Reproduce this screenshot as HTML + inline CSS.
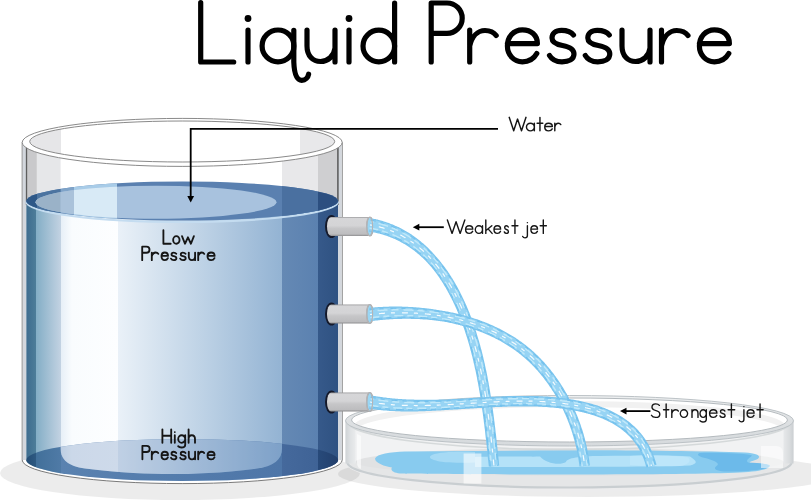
<!DOCTYPE html>
<html><head><meta charset="utf-8"><title>Liquid Pressure</title>
<style>
html,body{margin:0;padding:0;background:#fff;}
body{width:811px;height:500px;overflow:hidden;}
svg{display:block;}
body{font-family:"Liberation Sans",sans-serif;}
</style></head><body>
<svg width="811" height="500" viewBox="0 0 811 500">
<defs>
<linearGradient id="wg" gradientUnits="userSpaceOnUse" x1="22" y1="0" x2="342" y2="0">
<stop offset="0.0125" stop-color="#3d6c8f"/>
<stop offset="0.0453" stop-color="#4e7e9a"/>
<stop offset="0.0453" stop-color="#84aec6"/>
<stop offset="0.1206" stop-color="#c2d2e2"/>
<stop offset="0.1206" stop-color="#e6eff7"/>
<stop offset="0.1563" stop-color="#f9fcfe"/>
<stop offset="0.3" stop-color="#fdfeff"/>
<stop offset="0.3" stop-color="#eaf1f8"/>
<stop offset="0.556" stop-color="#bfd3e6"/>
<stop offset="0.8125" stop-color="#93b3d3"/>
<stop offset="0.8125" stop-color="#6589b4"/>
<stop offset="0.925" stop-color="#5b81b0"/>
<stop offset="0.925" stop-color="#36598a"/>
<stop offset="0.9875" stop-color="#2f5282"/>
</linearGradient>
<clipPath id="tankClip"><path d="M26.2,150 V460 A156,21 0 0 0 338.2,460 V150 Z"/></clipPath>
</defs>
<rect width="811" height="500" fill="#fff"/>

<!-- ===== TITLE ===== -->
<g fill="none" stroke="#000" stroke-width="5.2" stroke-linecap="round" stroke-linejoin="round">
<path d="M200.7,2.6 V62 H233.7"/>
<path d="M248,30 V62"/>
<circle cx="278" cy="45.9" r="15.9"/>
<path d="M293.8,30.3 V62 C294.2,72 296.5,80.3 301.8,80.3 C305.5,80.3 308,77.5 308.6,74.2"/>
<path id="u1" d="M307,30 V46 C307,56 313,61.5 320.5,61.5 C328,61.5 334,56 335,48 M335,30 V62"/>
<path d="M349,30 V62"/>
<circle cx="378.8" cy="46" r="15.8"/>
<path d="M394.6,3 V62"/>
<path d="M431.2,62 V3 H447 A15.2,15.2 0 0 1 447,33.4 H431.2"/>
<path id="r1" d="M469.7,30 V62 M469.7,46 C472,36 478,30.5 485,30.5 C490,30.5 494,32.5 496.2,35.5"/>
<path id="e1" d="M507.4,43.6 H537.4 C537.4,35 531,29.9 522.4,29.9 C513.5,29.9 507.4,37 507.4,46 C507.4,55 514,61.8 522.4,61.8 C529,61.8 534,58.5 536.8,53.5"/>
<path id="s1" d="M573.5,35 C571,31.5 566.5,30.3 561.5,30.3 C555.5,30.3 552,33.5 552,38 C552,43 557,44.5 562.5,45.5 C569,46.7 574,49 574,54 C574,59 569,61.8 562,61.8 C556,61.8 551.5,59 549.5,55.5"/>
<use href="#s1" x="35.8"/>
<use href="#u1" x="315"/>
<use href="#r1" x="191.8"/>
<use href="#e1" x="192"/>
</g>
<g fill="#000"><circle cx="248" cy="18.5" r="3.4"/><circle cx="349" cy="18.5" r="3.4"/></g>

<!-- ===== TANK SHADOW ===== -->
<ellipse cx="180" cy="473" rx="180" ry="27" fill="#000" fill-opacity="0.075"/>
<ellipse cx="588" cy="474" rx="250" ry="23" fill="#000" fill-opacity="0.075"/>

<!-- ===== TANK GLASS BODY ===== -->
<path d="M22.2,142.4 V460 A160,23.6 0 0 0 342.2,460 V142.4 Z" fill="#fff" stroke="#7a7a7a" stroke-width="1"/>


<!-- front-wall bands above water -->
<rect x="27.3" y="142" width="9.6" height="64" fill="#c9c9cb"/>
<rect x="36.9" y="142" width="23.7" height="64" fill="#e6e7e9"/>
<rect x="282" y="142" width="36" height="64" fill="#e8e8ea"/>
<rect x="318" y="142" width="20.2" height="64" fill="#cfcfd1"/>
<path d="M26.5,142 V205 M338,142 V205" stroke="#5e5e5e" stroke-width="1.3" fill="none"/>

<!-- water body -->
<path d="M26.2,201 V460 A156,21 0 0 0 338.2,460 V201 Z" fill="url(#wg)"/>
<!-- floor -->
<linearGradient id="floorG" gradientUnits="userSpaceOnUse" x1="22" y1="0" x2="342" y2="0">
<stop offset="0.0125" stop-color="#244c74"/>
<stop offset="0.0453" stop-color="#2e5a82"/>
<stop offset="0.0453" stop-color="#42709a"/>
<stop offset="0.1206" stop-color="#4f7aa6"/>
<stop offset="0.1206" stop-color="#5a82b0"/>
<stop offset="0.8125" stop-color="#4e76a8"/>
<stop offset="0.8125" stop-color="#45699c"/>
<stop offset="0.925" stop-color="#3f6396"/>
<stop offset="0.925" stop-color="#284a7a"/>
<stop offset="0.9875" stop-color="#223f6c"/>
</linearGradient>
<ellipse cx="182.2" cy="460" rx="156" ry="21" fill="url(#floorG)"/>
<clipPath id="floorClip"><ellipse cx="182.2" cy="460" rx="156" ry="21"/></clipPath>
<g clip-path="url(#floorClip)">
<path d="M60.6,436 V448 C60.6,460 68,466 85,468.5 C120,473 150,474 171,474 C192,474 222,473 257,468.5 C274,466 282,460 282,448 V436 Z" fill="url(#wg)"/>
<path d="M60.6,436 V448 C60.6,460 68,466 85,468.5 C120,473 150,474 171,474 C192,474 222,473 257,468.5 C274,466 282,460 282,448 V436 Z" fill="#3a6aa8" fill-opacity="0.24"/>
</g>
<!-- glass side strips -->
<rect x="22.7" y="142" width="3.5" height="318" fill="#d3d7dd"/>
<rect x="338.2" y="142" width="3.5" height="318" fill="#d3d7dd"/>
<path d="M26.5,142 V205 M338,142 V205" stroke="#5e5e5e" stroke-width="1.3" fill="none"/>
<!-- water surface -->
<clipPath id="surfClip"><ellipse cx="182.2" cy="201" rx="156" ry="19.5"/></clipPath>
<path d="M26.2,201.5 A156,20.5 0 0 0 338.2,201.5" fill="none" stroke="#c4dcf0" stroke-width="2"/>
<g clip-path="url(#surfClip)">
<rect x="20" y="180" width="330" height="45" fill="#5a80b0"/>
<rect x="20" y="180" width="17" height="45" fill="#2e5888"/>
<rect x="37" y="180" width="23.7" height="45" fill="#4c74a0"/>
<rect x="60.7" y="180" width="13.3" height="45" fill="#7fa3c8"/>
<rect x="74" y="180" width="43" height="45" fill="#a8cce8"/>
<rect x="282" y="180" width="36" height="45" fill="#4a70a0"/>
<rect x="318" y="180" width="25" height="45" fill="#2c4f80"/>
</g>
<clipPath id="surfIn"><ellipse cx="156" cy="202.2" rx="120.5" ry="16.5"/></clipPath>
<g clip-path="url(#surfIn)">
<rect x="30" y="180" width="260" height="45" fill="#a8c2de"/>
<rect x="30" y="180" width="30.7" height="45" fill="#9ab2c8"/>
<rect x="60.7" y="180" width="13.3" height="45" fill="#aac2da"/>
<rect x="74" y="180" width="43" height="45" fill="#d8eaf6"/>
</g>

<!-- rim -->
<ellipse cx="182.2" cy="142.4" rx="160" ry="24" fill="#fff" stroke="#8a8a8a" stroke-width="1"/>
<clipPath id="rimIn"><ellipse cx="182.2" cy="141.5" rx="152.5" ry="20.5"/></clipPath>
<ellipse cx="182.2" cy="141.5" rx="152.5" ry="20.5" fill="#fff"/>
<g clip-path="url(#rimIn)">
<rect x="29" y="115" width="32" height="60" fill="#e6e6e8"/>
<rect x="300" y="115" width="36" height="60" fill="#e8e8ea"/>
</g>
<ellipse cx="182.2" cy="141.5" rx="152.5" ry="20.5" fill="none" stroke="#8a8a8a" stroke-width="1"/>


<!-- ===== DISH ===== -->
<g id="dish">
<linearGradient id="lwall" x1="0" y1="0" x2="1" y2="0">
<stop offset="0" stop-color="#cfd3d6"/><stop offset="0.5" stop-color="#dfe2e4"/><stop offset="1" stop-color="#e9ebec"/>
</linearGradient>
<linearGradient id="rwall" x1="0" y1="0" x2="1" y2="0">
<stop offset="0" stop-color="#e6e8ea"/><stop offset="0.6" stop-color="#d9dcde"/><stop offset="1" stop-color="#cbcfd2"/>
</linearGradient>
<!-- silhouette -->
<path d="M345.5,420.5 V462.5 A224,29.5 0 0 0 793.5,462.5 V420.5 Z" fill="#ececed"/>
<ellipse cx="569.5" cy="462.5" rx="222" ry="25" fill="#e5e6e7"/>
<rect x="351" y="420" width="437" height="42.5" fill="#f1f2f3"/>
<!-- floor -->
<ellipse cx="569.5" cy="462" rx="214" ry="14" fill="#e1e2e3"/>
<!-- puddle -->
<path d="M375,458.5 C377,454 390,452 405,451.5 L560,450.3 C620,450 700,451 745,452.5 C758,453.5 761,456 758,458.7 C754,461 748,461.5 750,463 C762,463.5 771,464 770,466 C768,470 755,472 735,472.8 C700,474 640,474.5 560,474.5 C500,474.5 430,474 400,473.5 C393,473 390,470 392,467.5 C385,466.5 375,463 375,458.5 Z" fill="#88cbef"/>
<path d="M432,455 C440,451.5 460,451.5 475,452 L475,462.5 C455,463 440,462.5 436,460.5 C430,459 428,457 432,455 Z" fill="#a6daf5"/>
<path d="M475,457 C520,456 530,457 540,456.5 C545,463 560,466 566,462 C567,458 580,456 600,456 C640,455.5 670,455 690,456.5 C695,460 700,463 690,465.5 C650,467 560,467 475,467 Z" fill="#b4e2f8"/>
<path d="M630,456 C660,455 675,456 688,457.5 C692,461 688,465 680,466 C660,466.5 640,466 630,465 Z" fill="#bde6fa"/>
<path d="M700,453 C720,452.5 745,453.5 752,455.5 C750,458 745,460 748,462.5 C760,463 770,464 769,466.5 C766,469.5 752,471 735,471.5 C720,472 712,470 716,466.5 C722,463 712,460 705,458 C698,456.5 696,454 700,453 Z" fill="#6cbaea"/>
<!-- bottom edge -->
<path d="M347.5,462.5 A222,25 0 0 0 791.5,462.5" fill="none" stroke="#c9ced1" stroke-width="2.2"/>
<!-- side walls -->
<rect x="345.5" y="420.5" width="10" height="43" fill="url(#lwall)"/>
<rect x="783.5" y="420.5" width="10" height="43" fill="url(#rwall)"/>
<path d="M357,434 V462 Q357,468 361,469 V436 Z" fill="#fff" fill-opacity="0.6"/>
<path d="M761,446 H776 Q783,446 783,453 V468 H761 Z" fill="#fff" fill-opacity="0.55"/>
<!-- highlight -->
<rect x="463.6" y="453.5" width="17.8" height="30" fill="#fff" fill-opacity="0.6"/>
<!-- rim -->
<linearGradient id="rimG" x1="0" y1="0" x2="0" y2="1">
<stop offset="0" stop-color="#eef0f1"/><stop offset="0.5" stop-color="#dde0e2"/><stop offset="1" stop-color="#d6dadd"/>
</linearGradient>
<path d="M347.5,421.5 A222,28 0 0 0 791.5,421.5" fill="none" stroke="#d5d9da" stroke-width="1.5"/>
<path d="M345.5,420.75 A224,25.25 0 0 1 793.5,420.75 A224,25.25 0 0 1 345.5,420.75 Z M351.5,420 A218,22 0 0 0 787.5,420 A218,22 0 0 0 351.5,420 Z" fill="url(#rimG)" fill-rule="evenodd"/>
<clipPath id="dishIn"><ellipse cx="569.5" cy="420" rx="218" ry="22"/></clipPath>
<ellipse cx="569.5" cy="420" rx="218" ry="22" fill="#fff"/>
<g clip-path="url(#dishIn)">
<ellipse cx="569.5" cy="428" rx="214" ry="24" fill="none" stroke="#f1f1f1" stroke-width="6"/>
</g>
<path d="M345.5,420.75 A224,25.25 0 0 1 793.5,420.75 A224,25.25 0 0 1 345.5,420.75 Z" fill="none" stroke="#bcc2c6" stroke-width="1"/>
<ellipse cx="569.5" cy="420" rx="218" ry="22" fill="none" stroke="#b4babe" stroke-width="1"/>
</g>

<!-- ===== PIPES ===== -->
<linearGradient id="pipeG" x1="0" y1="0" x2="0" y2="1">
<stop offset="0" stop-color="#9a9a9c"/>
<stop offset="0.08" stop-color="#d6d6d8"/>
<stop offset="0.45" stop-color="#d4d4d6"/>
<stop offset="0.6" stop-color="#c6c6c8"/>
<stop offset="0.9" stop-color="#bdbdbf"/>
<stop offset="1" stop-color="#8e8e90"/>
</linearGradient>
<g id="pipes">
<g id="pipeT">
<ellipse cx="331.5" cy="226.5" rx="6.5" ry="11.6" fill="#15192a"/>
<path d="M331,217 H370 V236 H331 A4,9.5 0 0 1 331,217 Z" fill="url(#pipeG)"/>
<ellipse cx="370" cy="226.5" rx="3.2" ry="9.5" fill="#9ad6f4" stroke="#a9a9ab" stroke-width="1.2"/>
</g>
<use href="#pipeT" y="87.5"/>
<use href="#pipeT" y="175.5"/>
</g>

<!--JETS-->
<g>
<path d="M368.8,231.5 L369.8,231.7 L370.8,231.8 L371.8,232.0 L372.7,232.2 L373.7,232.4 L374.6,232.6 L375.6,232.8 L376.5,233.0 L377.4,233.2 L378.4,233.4 L379.3,233.6 L380.2,233.9 L381.1,234.1 L382.0,234.4 L382.9,234.6 L383.8,234.9 L384.7,235.2 L385.6,235.5 L386.5,235.8 L387.3,236.1 L388.2,236.4 L389.1,236.7 L389.9,237.0 L390.8,237.4 L391.6,237.7 L392.4,238.1 L393.3,238.4 L394.1,238.8 L394.9,239.1 L395.8,239.5 L396.6,239.9 L397.4,240.3 L398.2,240.7 L399.0,241.1 L399.8,241.5 L400.6,241.9 L401.4,242.4 L402.1,242.8 L402.9,243.2 L403.7,243.7 L404.5,244.1 L405.2,244.6 L406.0,245.0 L406.7,245.5 L407.5,246.0 L408.2,246.5 L409.0,247.0 L409.7,247.5 L410.4,248.0 L411.2,248.5 L411.9,249.0 L412.6,249.5 L413.3,250.1 L414.0,250.6 L414.7,251.1 L415.4,251.7 L416.1,252.2 L416.8,252.8 L417.5,253.4 L418.2,253.9 L418.9,254.5 L419.5,255.1 L420.2,255.7 L420.9,256.3 L421.5,256.9 L422.2,257.5 L422.9,258.1 L423.5,258.7 L424.1,259.3 L424.8,260.0 L425.4,260.6 L426.1,261.2 L426.7,261.9 L427.3,262.5 L427.9,263.2 L428.5,263.9 L429.1,264.5 L429.7,265.2 L430.3,265.9 L430.9,266.6 L431.5,267.3 L432.1,268.0 L432.6,268.7 L433.2,269.4 L433.8,270.1 L434.3,270.9 L434.9,271.6 L435.4,272.3 L436.0,273.1 L436.5,273.8 L437.1,274.5 L437.6,275.3 L438.1,276.0 L438.7,276.8 L439.2,277.5 L439.7,278.3 L440.2,279.1 L440.7,279.9 L441.3,280.6 L441.8,281.4 L442.3,282.2 L442.8,283.0 L443.3,283.8 L443.7,284.6 L444.2,285.4 L444.7,286.2 L445.2,287.0 L445.7,287.8 L446.1,288.6 L446.6,289.4 L447.1,290.2 L447.5,291.0 L448.0,291.9 L448.4,292.7 L448.9,293.5 L449.3,294.4 L449.8,295.2 L450.2,296.0 L450.6,296.9 L451.1,297.7 L451.5,298.6 L451.9,299.4 L452.3,300.3 L452.8,301.1 L453.2,302.0 L453.6,302.9 L454.0,303.7 L454.4,304.6 L454.8,305.4 L455.2,306.3 L455.6,307.2 L456.0,308.1 L456.4,308.9 L456.8,309.8 L457.1,310.7 L457.5,311.6 L457.9,312.5 L458.3,313.4 L458.6,314.3 L459.0,315.2 L459.3,316.0 L459.7,316.9 L460.1,317.8 L460.4,318.7 L460.8,319.6 L461.1,320.6 L461.4,321.5 L461.8,322.4 L462.1,323.3 L462.5,324.2 L462.8,325.1 L463.1,326.0 L463.4,326.9 L463.8,327.9 L464.1,328.8 L464.4,329.7 L464.7,330.6 L465.0,331.6 L465.3,332.5 L465.6,333.4 L465.9,334.3 L466.2,335.3 L466.5,336.2 L466.8,337.1 L467.1,338.1 L467.4,339.0 L467.7,340.0 L468.0,340.9 L468.2,341.8 L468.5,342.8 L468.8,343.7 L469.1,344.7 L469.3,345.6 L469.6,346.6 L469.9,347.5 L470.1,348.5 L470.4,349.4 L470.6,350.4 L470.9,351.3 L471.1,352.3 L471.4,353.3 L471.6,354.2 L471.9,355.2 L472.1,356.1 L472.4,357.1 L472.6,358.1 L472.8,359.0 L473.1,360.0 L473.3,361.0 L473.5,361.9 L473.7,362.9 L474.0,363.9 L474.2,364.8 L474.4,365.8 L474.6,366.8 L474.8,367.7 L475.0,368.7 L475.3,369.7 L475.5,370.6 L475.7,371.6 L475.9,372.6 L476.1,373.6 L476.3,374.5 L476.5,375.5 L476.7,376.5 L476.9,377.5 L477.1,378.4 L477.2,379.4 L477.4,380.4 L477.6,381.4 L477.8,382.3 L478.0,383.3 L478.2,384.3 L478.3,385.3 L478.5,386.3 L478.7,387.2 L478.9,388.2 L479.0,389.2 L479.2,390.2 L479.4,391.2 L479.5,392.1 L479.7,393.1 L479.9,394.1 L480.0,395.1 L480.2,396.0 L480.3,397.0 L480.5,398.0 L480.6,399.0 L480.8,400.0 L481.0,400.9 L481.1,401.9 L481.2,402.9 L481.4,403.9 L481.5,404.9 L481.7,405.8 L481.8,406.8 L482.0,407.8 L482.1,408.8 L482.2,409.7 L482.4,410.7 L482.5,411.7 L482.7,412.7 L482.8,413.6 L482.9,414.6 L483.0,415.6 L483.2,416.5 L483.3,417.5 L483.4,418.5 L483.6,419.5 L483.7,420.4 L483.8,421.4 L483.9,422.4 L484.0,423.3 L484.2,424.3 L484.3,425.3 L484.4,426.2 L484.5,427.2 L484.6,428.1 L484.8,429.1 L484.9,430.1 L485.0,431.0 L485.1,432.0 L485.2,432.9 L485.3,433.9 L485.4,434.9 L485.5,435.8 L485.6,436.8 L485.7,437.7 L485.9,438.7 L486.0,439.6 L486.1,440.6 L486.2,441.5 L486.3,442.5 L486.4,443.4 L486.5,444.3 L486.6,445.3 L486.7,446.2 L486.8,447.2 L486.9,448.1 L487.0,449.0 L487.1,450.0 L487.2,450.9 L487.3,451.8 L487.4,452.8 L487.5,453.7 L487.6,454.6 L487.7,455.6 L487.8,456.5 L487.8,457.4 L487.9,458.3 L488.0,459.2 L488.1,460.2 L488.2,461.1 L488.3,462.0 L488.4,462.9 L488.5,463.8 L488.6,464.7 L488.7,465.6 L488.8,466.5 L499.2,465.5 L499.1,464.6 L499.0,463.6 L498.9,462.7 L498.9,461.8 L498.8,460.9 L498.7,460.0 L498.6,459.1 L498.5,458.2 L498.4,457.2 L498.3,456.3 L498.2,455.4 L498.1,454.5 L498.0,453.5 L497.9,452.6 L497.8,451.7 L497.7,450.7 L497.6,449.8 L497.5,448.9 L497.4,447.9 L497.3,447.0 L497.2,446.1 L497.1,445.1 L497.0,444.2 L496.9,443.2 L496.8,442.3 L496.7,441.3 L496.6,440.4 L496.5,439.4 L496.4,438.5 L496.3,437.5 L496.2,436.5 L496.1,435.6 L496.0,434.6 L495.9,433.7 L495.7,432.7 L495.6,431.7 L495.5,430.8 L495.4,429.8 L495.3,428.8 L495.2,427.9 L495.1,426.9 L494.9,425.9 L494.8,424.9 L494.7,424.0 L494.6,423.0 L494.5,422.0 L494.3,421.0 L494.2,420.1 L494.1,419.1 L494.0,418.1 L493.8,417.1 L493.7,416.1 L493.6,415.2 L493.5,414.2 L493.3,413.2 L493.2,412.2 L493.1,411.2 L492.9,410.2 L492.8,409.3 L492.6,408.3 L492.5,407.3 L492.4,406.3 L492.2,405.3 L492.1,404.3 L491.9,403.3 L491.8,402.3 L491.6,401.3 L491.5,400.3 L491.3,399.3 L491.2,398.4 L491.0,397.4 L490.9,396.4 L490.7,395.4 L490.5,394.4 L490.4,393.4 L490.2,392.4 L490.1,391.4 L489.9,390.4 L489.7,389.4 L489.5,388.4 L489.4,387.4 L489.2,386.4 L489.0,385.4 L488.8,384.4 L488.7,383.4 L488.5,382.4 L488.3,381.4 L488.1,380.4 L487.9,379.4 L487.7,378.4 L487.6,377.4 L487.4,376.4 L487.2,375.4 L487.0,374.4 L486.8,373.4 L486.6,372.4 L486.4,371.4 L486.2,370.5 L485.9,369.5 L485.7,368.5 L485.5,367.5 L485.3,366.5 L485.1,365.5 L484.9,364.5 L484.7,363.5 L484.4,362.5 L484.2,361.5 L484.0,360.5 L483.7,359.5 L483.5,358.5 L483.3,357.5 L483.0,356.6 L482.8,355.6 L482.6,354.6 L482.3,353.6 L482.1,352.6 L481.8,351.6 L481.6,350.6 L481.3,349.6 L481.0,348.7 L480.8,347.7 L480.5,346.7 L480.3,345.7 L480.0,344.7 L479.7,343.8 L479.4,342.8 L479.2,341.8 L478.9,340.8 L478.6,339.9 L478.3,338.9 L478.0,337.9 L477.7,336.9 L477.4,336.0 L477.1,335.0 L476.8,334.0 L476.5,333.1 L476.2,332.1 L475.9,331.1 L475.6,330.2 L475.3,329.2 L475.0,328.2 L474.7,327.3 L474.3,326.3 L474.0,325.4 L473.7,324.4 L473.3,323.5 L473.0,322.5 L472.7,321.6 L472.3,320.6 L472.0,319.7 L471.6,318.7 L471.3,317.8 L470.9,316.8 L470.6,315.9 L470.2,314.9 L469.8,314.0 L469.5,313.1 L469.1,312.1 L468.7,311.2 L468.3,310.3 L468.0,309.3 L467.6,308.4 L467.2,307.5 L466.8,306.6 L466.4,305.6 L466.0,304.7 L465.6,303.8 L465.2,302.9 L464.8,302.0 L464.3,301.1 L463.9,300.2 L463.5,299.3 L463.1,298.4 L462.6,297.5 L462.2,296.6 L461.8,295.7 L461.3,294.8 L460.9,293.9 L460.4,293.0 L460.0,292.1 L459.5,291.2 L459.1,290.3 L458.6,289.4 L458.1,288.6 L457.7,287.7 L457.2,286.8 L456.7,285.9 L456.2,285.1 L455.7,284.2 L455.2,283.3 L454.7,282.5 L454.2,281.6 L453.7,280.8 L453.2,279.9 L452.7,279.1 L452.2,278.2 L451.6,277.4 L451.1,276.6 L450.6,275.7 L450.0,274.9 L449.5,274.1 L449.0,273.2 L448.4,272.4 L447.9,271.6 L447.3,270.8 L446.7,270.0 L446.2,269.2 L445.6,268.4 L445.0,267.6 L444.4,266.8 L443.8,266.0 L443.2,265.2 L442.6,264.4 L442.0,263.7 L441.4,262.9 L440.8,262.1 L440.2,261.4 L439.6,260.6 L439.0,259.9 L438.3,259.1 L437.7,258.4 L437.0,257.6 L436.4,256.9 L435.8,256.2 L435.1,255.4 L434.5,254.7 L433.8,254.0 L433.1,253.2 L432.5,252.5 L431.8,251.8 L431.1,251.1 L430.5,250.4 L429.8,249.7 L429.1,249.0 L428.4,248.3 L427.7,247.6 L427.0,246.9 L426.3,246.3 L425.5,245.6 L424.8,244.9 L424.1,244.3 L423.3,243.6 L422.6,243.0 L421.8,242.4 L421.1,241.7 L420.3,241.1 L419.6,240.5 L418.8,239.9 L418.0,239.3 L417.2,238.7 L416.4,238.1 L415.6,237.5 L414.8,236.9 L414.0,236.3 L413.2,235.8 L412.4,235.2 L411.6,234.6 L410.7,234.1 L409.9,233.5 L409.1,233.0 L408.2,232.5 L407.3,232.0 L406.5,231.4 L405.6,230.9 L404.7,230.4 L403.9,229.9 L403.0,229.5 L402.1,229.0 L401.2,228.5 L400.3,228.1 L399.3,227.6 L398.4,227.1 L397.5,226.7 L396.6,226.3 L395.6,225.9 L394.7,225.4 L393.7,225.0 L392.8,224.6 L391.8,224.2 L390.8,223.9 L389.9,223.5 L388.9,223.1 L387.9,222.8 L386.9,222.4 L385.9,222.1 L384.9,221.7 L383.8,221.4 L382.8,221.1 L381.8,220.8 L380.8,220.5 L379.7,220.2 L378.7,219.9 L377.6,219.6 L376.6,219.4 L375.5,219.1 L374.4,218.9 L373.3,218.7 L372.2,218.4 L371.2,218.2 Z" fill="#7cc5ee"/>
<path d="M369.0,230.3 L370.0,230.5 L371.0,230.7 L372.0,230.8 L373.0,231.0 L373.9,231.2 L374.9,231.4 L375.9,231.6 L376.8,231.8 L377.7,232.0 L378.7,232.2 L379.6,232.5 L380.5,232.7 L381.5,233.0 L382.4,233.2 L383.3,233.5 L384.2,233.8 L385.1,234.1 L386.0,234.4 L386.9,234.7 L387.8,235.0 L388.6,235.3 L389.5,235.6 L390.4,235.9 L391.2,236.3 L392.1,236.6 L392.9,237.0 L393.8,237.3 L394.6,237.7 L395.5,238.1 L396.3,238.4 L397.1,238.8 L397.9,239.2 L398.8,239.6 L399.6,240.0 L400.4,240.5 L401.2,240.9 L402.0,241.3 L402.8,241.7 L403.5,242.2 L404.3,242.6 L405.1,243.1 L405.9,243.6 L406.6,244.0 L407.4,244.5 L408.2,245.0 L408.9,245.5 L409.7,246.0 L410.4,246.5 L411.1,247.0 L411.9,247.5 L412.6,248.0 L413.3,248.6 L414.1,249.1 L414.8,249.7 L415.5,250.2 L416.2,250.8 L416.9,251.3 L417.6,251.9 L418.3,252.5 L419.0,253.0 L419.7,253.6 L420.4,254.2 L421.0,254.8 L421.7,255.4 L422.4,256.0 L423.0,256.6 L423.7,257.2 L424.4,257.9 L425.0,258.5 L425.7,259.1 L426.3,259.8 L426.9,260.4 L427.6,261.1 L428.2,261.7 L428.8,262.4 L429.4,263.1 L430.0,263.7 L430.6,264.4 L431.2,265.1 L431.8,265.8 L432.4,266.5 L433.0,267.2 L433.6,268.0 L434.1,268.7 L434.7,269.4 L435.3,270.1 L435.8,270.9 L436.4,271.6 L437.0,272.3 L437.5,273.1 L438.0,273.8 L438.6,274.6 L439.1,275.3 L439.7,276.1 L440.2,276.9 L440.7,277.6 L441.2,278.4 L441.7,279.2 L442.3,280.0 L442.8,280.8 L443.3,281.5 L443.8,282.3 L444.3,283.1 L444.8,283.9 L445.3,284.7 L445.7,285.5 L446.2,286.4 L446.7,287.2 L447.2,288.0 L447.6,288.8 L448.1,289.6 L448.6,290.5 L449.0,291.3 L449.5,292.1 L449.9,293.0 L450.4,293.8 L450.8,294.6 L451.3,295.5 L451.7,296.3 L452.1,297.2 L452.6,298.0 L453.0,298.9 L453.4,299.7 L453.8,300.6 L454.3,301.5 L454.7,302.3 L455.1,303.2 L455.5,304.1 L455.9,304.9 L456.3,305.8 L456.7,306.7 L457.1,307.6 L457.5,308.5 L457.9,309.3 L458.2,310.2 L458.6,311.1 L459.0,312.0 L459.4,312.9 L459.7,313.8 L460.1,314.7 L460.5,315.6 L460.8,316.5 L461.2,317.4 L461.5,318.3 L461.9,319.2 L462.2,320.1 L462.6,321.0 L462.9,321.9 L463.3,322.9 L463.6,323.8 L463.9,324.7 L464.2,325.6 L464.6,326.5 L464.9,327.5 L465.2,328.4 L465.5,329.3 L465.8,330.2 L466.2,331.2 L466.5,332.1 L466.8,333.0 L467.1,334.0 L467.4,334.9 L467.7,335.8 L468.0,336.8 L468.3,337.7 L468.5,338.7 L468.8,339.6 L469.1,340.6 L469.4,341.5 L469.7,342.5 L469.9,343.4 L470.2,344.4 L470.5,345.3 L470.8,346.3 L471.0,347.2 L471.3,348.2 L471.5,349.1 L471.8,350.1 L472.1,351.0 L472.3,352.0 L472.6,353.0 L472.8,353.9 L473.0,354.9 L473.3,355.8 L473.5,356.8 L473.8,357.8 L474.0,358.7 L474.2,359.7 L474.5,360.7 L474.7,361.6 L474.9,362.6 L475.1,363.6 L475.4,364.6 L475.6,365.5 L475.8,366.5 L476.0,367.5 L476.2,368.4 L476.4,369.4 L476.6,370.4 L476.8,371.4 L477.0,372.3 L477.3,373.3 L477.5,374.3 L477.6,375.3 L477.8,376.3 L478.0,377.2 L478.2,378.2 L478.4,379.2 L478.6,380.2 L478.8,381.1 L479.0,382.1 L479.2,383.1 L479.3,384.1 L479.5,385.1 L479.7,386.0 L479.9,387.0 L480.0,388.0 L480.2,389.0 L480.4,390.0 L480.6,391.0 L480.7,391.9 L480.9,392.9 L481.0,393.9 L481.2,394.9 L481.4,395.9 L481.5,396.8 L481.7,397.8 L481.8,398.8 L482.0,399.8 L482.1,400.8 L482.3,401.7 L482.4,402.7 L482.6,403.7 L482.7,404.7 L482.9,405.7 L483.0,406.6 L483.2,407.6 L483.3,408.6 L483.4,409.6 L483.6,410.5 L483.7,411.5 L483.8,412.5 L484.0,413.5 L484.1,414.4 L484.2,415.4 L484.4,416.4 L484.5,417.4 L484.6,418.3 L484.7,419.3 L484.9,420.3 L485.0,421.2 L485.1,422.2 L485.2,423.2 L485.4,424.1 L485.5,425.1 L485.6,426.1 L485.7,427.0 L485.8,428.0 L485.9,429.0 L486.1,429.9 L486.2,430.9 L486.3,431.8 L486.4,432.8 L486.5,433.8 L486.6,434.7 L486.7,435.7 L486.8,436.6 L486.9,437.6 L487.0,438.5 L487.2,439.5 L487.3,440.4 L487.4,441.4 L487.5,442.3 L487.6,443.3 L487.7,444.2 L487.8,445.2 L487.9,446.1 L488.0,447.0 L488.1,448.0 L488.2,448.9 L488.3,449.8 L488.4,450.8 L488.5,451.7 L488.6,452.6 L488.7,453.6 L488.8,454.5 L488.9,455.4 L488.9,456.4 L489.0,457.3 L489.1,458.2 L489.2,459.1 L489.3,460.0 L489.4,460.9 L489.5,461.9 L489.6,462.8 L489.7,463.7 L489.8,464.6 L489.9,465.5 L490.0,466.4 L498.0,465.6 L497.9,464.7 L497.8,463.8 L497.8,462.9 L497.7,461.9 L497.6,461.0 L497.5,460.1 L497.4,459.2 L497.3,458.3 L497.2,457.4 L497.1,456.4 L497.0,455.5 L496.9,454.6 L496.8,453.7 L496.7,452.7 L496.6,451.8 L496.5,450.9 L496.4,449.9 L496.3,449.0 L496.2,448.1 L496.1,447.1 L496.0,446.2 L495.9,445.2 L495.8,444.3 L495.7,443.3 L495.6,442.4 L495.5,441.4 L495.4,440.5 L495.3,439.5 L495.2,438.6 L495.1,437.6 L495.0,436.7 L494.9,435.7 L494.8,434.8 L494.7,433.8 L494.6,432.8 L494.4,431.9 L494.3,430.9 L494.2,429.9 L494.1,429.0 L494.0,428.0 L493.9,427.0 L493.8,426.1 L493.6,425.1 L493.5,424.1 L493.4,423.1 L493.3,422.2 L493.2,421.2 L493.0,420.2 L492.9,419.2 L492.8,418.3 L492.7,417.3 L492.5,416.3 L492.4,415.3 L492.3,414.3 L492.1,413.4 L492.0,412.4 L491.9,411.4 L491.7,410.4 L491.6,409.4 L491.5,408.4 L491.3,407.4 L491.2,406.5 L491.0,405.5 L490.9,404.5 L490.7,403.5 L490.6,402.5 L490.4,401.5 L490.3,400.5 L490.1,399.5 L490.0,398.5 L489.8,397.5 L489.7,396.5 L489.5,395.6 L489.4,394.6 L489.2,393.6 L489.0,392.6 L488.9,391.6 L488.7,390.6 L488.5,389.6 L488.4,388.6 L488.2,387.6 L488.0,386.6 L487.8,385.6 L487.7,384.6 L487.5,383.6 L487.3,382.6 L487.1,381.6 L486.9,380.6 L486.8,379.6 L486.6,378.6 L486.4,377.7 L486.2,376.7 L486.0,375.7 L485.8,374.7 L485.6,373.7 L485.4,372.7 L485.2,371.7 L485.0,370.7 L484.8,369.7 L484.6,368.7 L484.4,367.7 L484.1,366.7 L483.9,365.7 L483.7,364.7 L483.5,363.8 L483.3,362.8 L483.0,361.8 L482.8,360.8 L482.6,359.8 L482.3,358.8 L482.1,357.8 L481.9,356.8 L481.6,355.9 L481.4,354.9 L481.1,353.9 L480.9,352.9 L480.6,351.9 L480.4,350.9 L480.1,350.0 L479.9,349.0 L479.6,348.0 L479.4,347.0 L479.1,346.0 L478.8,345.1 L478.6,344.1 L478.3,343.1 L478.0,342.1 L477.7,341.2 L477.4,340.2 L477.2,339.2 L476.9,338.2 L476.6,337.3 L476.3,336.3 L476.0,335.3 L475.7,334.4 L475.4,333.4 L475.1,332.5 L474.8,331.5 L474.5,330.5 L474.2,329.6 L473.8,328.6 L473.5,327.7 L473.2,326.7 L472.9,325.8 L472.5,324.8 L472.2,323.9 L471.9,322.9 L471.5,322.0 L471.2,321.0 L470.9,320.1 L470.5,319.1 L470.2,318.2 L469.8,317.2 L469.4,316.3 L469.1,315.4 L468.7,314.4 L468.4,313.5 L468.0,312.6 L467.6,311.7 L467.2,310.7 L466.8,309.8 L466.5,308.9 L466.1,308.0 L465.7,307.0 L465.3,306.1 L464.9,305.2 L464.5,304.3 L464.1,303.4 L463.7,302.5 L463.3,301.6 L462.8,300.7 L462.4,299.8 L462.0,298.9 L461.6,298.0 L461.1,297.1 L460.7,296.2 L460.3,295.3 L459.8,294.4 L459.4,293.5 L458.9,292.6 L458.5,291.8 L458.0,290.9 L457.5,290.0 L457.1,289.1 L456.6,288.3 L456.1,287.4 L455.6,286.5 L455.2,285.7 L454.7,284.8 L454.2,283.9 L453.7,283.1 L453.2,282.2 L452.7,281.4 L452.2,280.5 L451.7,279.7 L451.2,278.9 L450.6,278.0 L450.1,277.2 L449.6,276.4 L449.0,275.5 L448.5,274.7 L448.0,273.9 L447.4,273.1 L446.9,272.3 L446.3,271.5 L445.7,270.7 L445.2,269.9 L444.6,269.1 L444.0,268.3 L443.5,267.5 L442.9,266.7 L442.3,266.0 L441.7,265.2 L441.1,264.4 L440.5,263.6 L439.9,262.9 L439.3,262.1 L438.7,261.4 L438.0,260.6 L437.4,259.9 L436.8,259.1 L436.1,258.4 L435.5,257.7 L434.9,257.0 L434.2,256.2 L433.6,255.5 L432.9,254.8 L432.3,254.1 L431.6,253.3 L431.0,252.6 L430.3,251.9 L429.6,251.2 L428.9,250.5 L428.3,249.9 L427.6,249.2 L426.9,248.5 L426.2,247.8 L425.5,247.2 L424.7,246.5 L424.0,245.9 L423.3,245.2 L422.6,244.6 L421.8,243.9 L421.1,243.3 L420.3,242.7 L419.6,242.0 L418.8,241.4 L418.1,240.8 L417.3,240.2 L416.5,239.6 L415.7,239.0 L415.0,238.5 L414.2,237.9 L413.4,237.3 L412.6,236.8 L411.7,236.2 L410.9,235.6 L410.1,235.1 L409.3,234.6 L408.4,234.0 L407.6,233.5 L406.7,233.0 L405.9,232.5 L405.0,232.0 L404.2,231.5 L403.3,231.0 L402.4,230.5 L401.5,230.1 L400.6,229.6 L399.7,229.1 L398.8,228.7 L397.9,228.2 L397.0,227.8 L396.1,227.4 L395.2,227.0 L394.2,226.5 L393.3,226.1 L392.3,225.8 L391.4,225.4 L390.4,225.0 L389.5,224.6 L388.5,224.2 L387.5,223.9 L386.5,223.5 L385.5,223.2 L384.5,222.9 L383.5,222.6 L382.5,222.2 L381.5,221.9 L380.5,221.7 L379.4,221.4 L378.4,221.1 L377.3,220.8 L376.3,220.6 L375.2,220.3 L374.2,220.1 L373.1,219.8 L372.0,219.6 L371.0,219.4 Z" fill="#97d4f4"/>
<path d="M369.4,228.1 L370.5,228.2 L371.5,228.4 L372.5,228.6 L373.4,228.8 L374.4,229.0 L375.4,229.2 L376.4,229.4 L377.3,229.6 L378.3,229.9 L379.3,230.1 L380.2,230.4 L381.2,230.6 L382.1,230.9 L383.0,231.2 L383.9,231.5 L384.9,231.8 L385.8,232.1 L386.7,232.4 L387.6,232.7 L388.5,233.0 L389.4,233.3 L390.3,233.7 L391.2,234.0 L392.0,234.4 L392.9,234.7 L393.8,235.1 L394.6,235.5 L395.5,235.9 L396.3,236.3 L397.2,236.7 L398.0,237.1 L398.8,237.5 L399.7,237.9 L400.5,238.3 L401.3,238.8 L402.1,239.2 L402.9,239.6 L403.7,240.1 L404.5,240.6 L405.3,241.0 L406.1,241.5 L406.9,242.0 L407.7,242.5 L408.4,243.0 L409.2,243.5 L410.0,244.0 L410.7,244.5 L411.5,245.0 L412.2,245.6 L412.9,246.1 L413.7,246.6 L414.4,247.2 L415.1,247.7 L415.9,248.3 L416.6,248.9 L417.3,249.4 L418.0,250.0 L418.7,250.6 L419.4,251.2 L420.1,251.8 L420.8,252.4 L421.5,253.0 L422.2,253.6 L422.8,254.2 L423.5,254.8 L424.2,255.5 L424.8,256.1 L425.5,256.7 L426.1,257.4 L426.8,258.0 L427.4,258.7 L428.1,259.3 L428.7,260.0 L429.3,260.7 L430.0,261.4 L430.6,262.0 L431.2,262.7 L431.8,263.4 L432.4,264.1 L433.0,264.8 L433.6,265.6 L434.2,266.3 L434.8,267.0 L435.3,267.7 L435.9,268.5 L436.5,269.2 L437.1,269.9 L437.6,270.7 L438.2,271.4 L438.7,272.2 L439.3,272.9 L439.8,273.7 L440.4,274.5 L440.9,275.2 L441.4,276.0 L442.0,276.8 L442.5,277.6 L443.0,278.3 L443.5,279.1 L444.1,279.9 L444.6,280.7 L445.1,281.5 L445.6,282.3 L446.1,283.1 L446.6,283.9 L447.1,284.8 L447.5,285.6 L448.0,286.4 L448.5,287.2 L449.0,288.0 L449.4,288.9 L449.9,289.7 L450.4,290.6 L450.8,291.4 L451.3,292.2 L451.7,293.1 L452.2,293.9 L452.6,294.8 L453.1,295.6 L453.5,296.5 L453.9,297.3 L454.4,298.2 L454.8,299.1 L455.2,299.9 L455.6,300.8 L456.1,301.7 L456.5,302.6 L456.9,303.4 L457.3,304.3 L457.7,305.2 L458.1,306.1 L458.5,307.0 L458.9,307.8 L459.3,308.7 L459.6,309.6 L460.0,310.5 L460.4,311.4 L460.8,312.3 L461.1,313.2 L461.5,314.1 L461.9,315.0 L462.2,315.9 L462.6,316.8 L463.0,317.8 L463.3,318.7 L463.7,319.6 L464.0,320.5 L464.3,321.4 L464.7,322.3 L465.0,323.3 L465.4,324.2 L465.7,325.1 L466.0,326.0 L466.3,327.0 L466.7,327.9 L467.0,328.8 L467.3,329.8 L467.6,330.7 L467.9,331.6 L468.2,332.6 L468.5,333.5 L468.8,334.4 L469.1,335.4 L469.4,336.3 L469.7,337.3 L470.0,338.2 L470.3,339.2 L470.6,340.1 L470.9,341.1 L471.1,342.0 L471.4,343.0 L471.7,343.9 L472.0,344.9 L472.2,345.8 L472.5,346.8 L472.8,347.8 L473.0,348.7 L473.3,349.7 L473.5,350.6 L473.8,351.6 L474.0,352.6 L474.3,353.5 L474.5,354.5 L474.8,355.5 L475.0,356.4 L475.2,357.4 L475.5,358.4 L475.7,359.4 L475.9,360.3 L476.2,361.3 L476.4,362.3 L476.6,363.2 L476.9,364.2 L477.1,365.2 L477.3,366.2 L477.5,367.1 L477.7,368.1 L477.9,369.1 L478.1,370.1 L478.3,371.1 L478.5,372.0 L478.8,373.0 L479.0,374.0 L479.1,375.0 L479.3,376.0 L479.5,376.9 L479.7,377.9 L479.9,378.9 L480.1,379.9 L480.3,380.9 L480.5,381.8 L480.7,382.8 L480.8,383.8 L481.0,384.8 L481.2,385.8 L481.4,386.8 L481.5,387.7 L481.7,388.7 L481.9,389.7 L482.1,390.7 L482.2,391.7 L482.4,392.7 L482.6,393.6 L482.7,394.6 L482.9,395.6 L483.0,396.6 L483.2,397.6 L483.3,398.6 L483.5,399.5 L483.6,400.5 L483.8,401.5 L483.9,402.5 L484.1,403.5 L484.2,404.5 L484.4,405.4 L484.5,406.4 L484.7,407.4 L484.8,408.4 L484.9,409.3 L485.1,410.3 L485.2,411.3 L485.4,412.3 L485.5,413.3 L485.6,414.2 L485.8,415.2 L485.9,416.2 L486.0,417.2 L486.1,418.1 L486.3,419.1 L486.4,420.1 L486.5,421.0 L486.6,422.0 L486.8,423.0 L486.9,424.0 L487.0,424.9 L487.1,425.9 L487.2,426.9 L487.3,427.8 L487.5,428.8 L487.6,429.7 L487.7,430.7 L487.8,431.7 L487.9,432.6 L488.0,433.6 L488.1,434.5 L488.2,435.5 L488.4,436.5 L488.5,437.4 L488.6,438.4 L488.7,439.3 L488.8,440.3 L488.9,441.2 L489.0,442.2 L489.1,443.1 L489.2,444.1 L489.3,445.0 L489.4,445.9 L489.5,446.9 L489.6,447.8 L489.7,448.8 L489.8,449.7 L489.9,450.6 L490.0,451.6 L490.1,452.5 L490.2,453.4 L490.3,454.3 L490.4,455.3 L490.5,456.2 L490.6,457.1 L490.7,458.0 L490.8,459.0 L490.8,459.9 L490.9,460.8 L491.0,461.7 L491.1,462.6 L491.2,463.5 L491.3,464.4 L491.4,465.3 L491.5,466.2" fill="none" stroke="#c3eafb" stroke-width="1.5" stroke-dasharray="9 4 6 5" stroke-dashoffset="0" stroke-opacity="0.9"/>
<path d="M370.6,221.7 L371.6,221.9 L372.7,222.1 L373.7,222.3 L374.8,222.5 L375.8,222.8 L376.8,223.0 L377.9,223.3 L378.9,223.5 L379.9,223.8 L380.9,224.1 L381.9,224.4 L382.9,224.7 L383.9,225.0 L384.9,225.3 L385.9,225.6 L386.8,225.9 L387.8,226.3 L388.7,226.6 L389.7,227.0 L390.6,227.3 L391.6,227.7 L392.5,228.1 L393.4,228.5 L394.4,228.8 L395.3,229.3 L396.2,229.7 L397.1,230.1 L398.0,230.5 L398.9,230.9 L399.8,231.4 L400.6,231.8 L401.5,232.3 L402.4,232.7 L403.2,233.2 L404.1,233.7 L404.9,234.2 L405.8,234.7 L406.6,235.2 L407.5,235.7 L408.3,236.2 L409.1,236.7 L409.9,237.2 L410.7,237.8 L411.5,238.3 L412.3,238.8 L413.1,239.4 L413.9,239.9 L414.7,240.5 L415.5,241.1 L416.2,241.7 L417.0,242.2 L417.8,242.8 L418.5,243.4 L419.3,244.0 L420.0,244.6 L420.7,245.3 L421.5,245.9 L422.2,246.5 L422.9,247.1 L423.6,247.8 L424.3,248.4 L425.0,249.1 L425.7,249.7 L426.4,250.4 L427.1,251.0 L427.8,251.7 L428.5,252.4 L429.2,253.1 L429.8,253.8 L430.5,254.4 L431.1,255.1 L431.8,255.8 L432.4,256.6 L433.1,257.3 L433.7,258.0 L434.4,258.7 L435.0,259.4 L435.6,260.1 L436.2,260.9 L436.9,261.6 L437.5,262.4 L438.1,263.1 L438.7,263.8 L439.3,264.6 L439.9,265.4 L440.5,266.1 L441.1,266.9 L441.7,267.6 L442.2,268.4 L442.8,269.2 L443.4,270.0 L443.9,270.8 L444.5,271.6 L445.1,272.4 L445.6,273.2 L446.1,274.0 L446.7,274.8 L447.2,275.6 L447.8,276.4 L448.3,277.2 L448.8,278.0 L449.3,278.8 L449.9,279.7 L450.4,280.5 L450.9,281.3 L451.4,282.2 L451.9,283.0 L452.4,283.9 L452.9,284.7 L453.4,285.6 L453.8,286.4 L454.3,287.3 L454.8,288.1 L455.3,289.0 L455.7,289.8 L456.2,290.7 L456.6,291.6 L457.1,292.5 L457.6,293.3 L458.0,294.2 L458.4,295.1 L458.9,296.0 L459.3,296.9 L459.8,297.7 L460.2,298.6 L460.6,299.5 L461.0,300.4 L461.5,301.3 L461.9,302.2 L462.3,303.1 L462.7,304.0 L463.1,304.9 L463.5,305.8 L463.9,306.7 L464.3,307.6 L464.7,308.6 L465.1,309.5 L465.4,310.4 L465.8,311.3 L466.2,312.2 L466.6,313.2 L466.9,314.1 L467.3,315.0 L467.7,315.9 L468.0,316.9 L468.4,317.8 L468.7,318.7 L469.1,319.7 L469.4,320.6 L469.8,321.5 L470.1,322.5 L470.4,323.4 L470.8,324.4 L471.1,325.3 L471.4,326.3 L471.8,327.2 L472.1,328.1 L472.4,329.1 L472.7,330.1 L473.0,331.0 L473.3,332.0 L473.6,332.9 L473.9,333.9 L474.2,334.8 L474.5,335.8 L474.8,336.8 L475.1,337.7 L475.4,338.7 L475.7,339.6 L476.0,340.6 L476.3,341.6 L476.5,342.6 L476.8,343.5 L477.1,344.5 L477.4,345.5 L477.6,346.4 L477.9,347.4 L478.1,348.4 L478.4,349.4 L478.7,350.3 L478.9,351.3 L479.2,352.3 L479.4,353.3 L479.7,354.3 L479.9,355.2 L480.1,356.2 L480.4,357.2 L480.6,358.2 L480.9,359.2 L481.1,360.1 L481.3,361.1 L481.5,362.1 L481.8,363.1 L482.0,364.1 L482.2,365.1 L482.4,366.1 L482.6,367.1 L482.9,368.0 L483.1,369.0 L483.3,370.0 L483.5,371.0 L483.7,372.0 L483.9,373.0 L484.1,374.0 L484.3,375.0 L484.5,376.0 L484.7,377.0 L484.9,377.9 L485.1,378.9 L485.2,379.9 L485.4,380.9 L485.6,381.9 L485.8,382.9 L486.0,383.9 L486.2,384.9 L486.3,385.9 L486.5,386.9 L486.7,387.9 L486.9,388.9 L487.0,389.9 L487.2,390.8 L487.4,391.8 L487.5,392.8 L487.7,393.8 L487.9,394.8 L488.0,395.8 L488.2,396.8 L488.3,397.8 L488.5,398.8 L488.6,399.8 L488.8,400.7 L488.9,401.7 L489.1,402.7 L489.2,403.7 L489.4,404.7 L489.5,405.7 L489.7,406.7 L489.8,407.7 L489.9,408.6 L490.1,409.6 L490.2,410.6 L490.4,411.6 L490.5,412.6 L490.6,413.6 L490.7,414.5 L490.9,415.5 L491.0,416.5 L491.1,417.5 L491.3,418.5 L491.4,419.4 L491.5,420.4 L491.6,421.4 L491.8,422.4 L491.9,423.3 L492.0,424.3 L492.1,425.3 L492.2,426.3 L492.4,427.2 L492.5,428.2 L492.6,429.2 L492.7,430.1 L492.8,431.1 L492.9,432.0 L493.0,433.0 L493.1,434.0 L493.3,434.9 L493.4,435.9 L493.5,436.8 L493.6,437.8 L493.7,438.8 L493.8,439.7 L493.9,440.7 L494.0,441.6 L494.1,442.6 L494.2,443.5 L494.3,444.5 L494.4,445.4 L494.5,446.3 L494.6,447.3 L494.7,448.2 L494.8,449.2 L494.9,450.1 L495.0,451.0 L495.1,452.0 L495.2,452.9 L495.3,453.8 L495.4,454.8 L495.5,455.7 L495.6,456.6 L495.7,457.5 L495.8,458.4 L495.9,459.4 L496.0,460.3 L496.0,461.2 L496.1,462.1 L496.2,463.0 L496.3,463.9 L496.4,464.8 L496.5,465.7" fill="none" stroke="#c3eafb" stroke-width="1.5" stroke-dasharray="7 5 10 4" stroke-dashoffset="4" stroke-opacity="0.9"/>
<path d="M370.0,224.9 L371.0,225.1 L372.1,225.2 L373.1,225.4 L374.1,225.7 L375.1,225.9 L376.1,226.1 L377.1,226.3 L378.1,226.6 L379.1,226.8 L380.1,227.1 L381.1,227.4 L382.0,227.6 L383.0,227.9 L383.9,228.2 L384.9,228.5 L385.8,228.8 L386.8,229.2 L387.7,229.5 L388.6,229.8 L389.6,230.2 L390.5,230.5 L391.4,230.9 L392.3,231.2 L393.2,231.6 L394.1,232.0 L395.0,232.4 L395.9,232.8 L396.7,233.2 L397.6,233.6 L398.5,234.0 L399.3,234.4 L400.2,234.9 L401.0,235.3 L401.9,235.8 L402.7,236.2 L403.5,236.7 L404.4,237.2 L405.2,237.6 L406.0,238.1 L406.8,238.6 L407.6,239.1 L408.4,239.6 L409.2,240.1 L410.0,240.6 L410.8,241.2 L411.5,241.7 L412.3,242.2 L413.1,242.8 L413.8,243.3 L414.6,243.9 L415.3,244.4 L416.1,245.0 L416.8,245.6 L417.6,246.2 L418.3,246.7 L419.0,247.3 L419.7,247.9 L420.5,248.5 L421.2,249.2 L421.9,249.8 L422.6,250.4 L423.3,251.0 L423.9,251.7 L424.6,252.3 L425.3,252.9 L426.0,253.6 L426.7,254.2 L427.3,254.9 L428.0,255.6 L428.6,256.2 L429.3,256.9 L429.9,257.6 L430.6,258.3 L431.2,259.0 L431.8,259.7 L432.5,260.4 L433.1,261.1 L433.7,261.8 L434.3,262.5 L434.9,263.2 L435.5,264.0 L436.1,264.7 L436.7,265.4 L437.3,266.2 L437.9,266.9 L438.5,267.7 L439.1,268.4 L439.6,269.2 L440.2,269.9 L440.8,270.7 L441.3,271.5 L441.9,272.2 L442.4,273.0 L443.0,273.8 L443.5,274.6 L444.1,275.4 L444.6,276.2 L445.1,277.0 L445.7,277.8 L446.2,278.6 L446.7,279.4 L447.2,280.2 L447.7,281.0 L448.2,281.8 L448.7,282.6 L449.2,283.5 L449.7,284.3 L450.2,285.1 L450.7,286.0 L451.2,286.8 L451.6,287.6 L452.1,288.5 L452.6,289.3 L453.0,290.2 L453.5,291.0 L454.0,291.9 L454.4,292.8 L454.9,293.6 L455.3,294.5 L455.8,295.3 L456.2,296.2 L456.6,297.1 L457.1,298.0 L457.5,298.8 L457.9,299.7 L458.3,300.6 L458.8,301.5 L459.2,302.4 L459.6,303.3 L460.0,304.2 L460.4,305.0 L460.8,305.9 L461.2,306.8 L461.6,307.7 L462.0,308.6 L462.3,309.5 L462.7,310.4 L463.1,311.4 L463.5,312.3 L463.9,313.2 L464.2,314.1 L464.6,315.0 L464.9,315.9 L465.3,316.8 L465.7,317.8 L466.0,318.7 L466.4,319.6 L466.7,320.5 L467.1,321.5 L467.4,322.4 L467.7,323.3 L468.1,324.3 L468.4,325.2 L468.7,326.1 L469.0,327.1 L469.4,328.0 L469.7,329.0 L470.0,329.9 L470.3,330.8 L470.6,331.8 L470.9,332.7 L471.2,333.7 L471.5,334.6 L471.8,335.6 L472.1,336.5 L472.4,337.5 L472.7,338.4 L473.0,339.4 L473.3,340.4 L473.6,341.3 L473.8,342.3 L474.1,343.2 L474.4,344.2 L474.7,345.2 L474.9,346.1 L475.2,347.1 L475.4,348.1 L475.7,349.0 L476.0,350.0 L476.2,351.0 L476.5,351.9 L476.7,352.9 L477.0,353.9 L477.2,354.9 L477.5,355.8 L477.7,356.8 L477.9,357.8 L478.2,358.8 L478.4,359.7 L478.6,360.7 L478.9,361.7 L479.1,362.7 L479.3,363.7 L479.5,364.6 L479.7,365.6 L480.0,366.6 L480.2,367.6 L480.4,368.6 L480.6,369.6 L480.8,370.5 L481.0,371.5 L481.2,372.5 L481.4,373.5 L481.6,374.5 L481.8,375.5 L482.0,376.4 L482.2,377.4 L482.4,378.4 L482.6,379.4 L482.8,380.4 L483.0,381.4 L483.1,382.4 L483.3,383.4 L483.5,384.3 L483.7,385.3 L483.9,386.3 L484.0,387.3 L484.2,388.3 L484.4,389.3 L484.5,390.3 L484.7,391.3 L484.9,392.2 L485.0,393.2 L485.2,394.2 L485.4,395.2 L485.5,396.2 L485.7,397.2 L485.8,398.2 L486.0,399.2 L486.1,400.1 L486.3,401.1 L486.4,402.1 L486.6,403.1 L486.7,404.1 L486.9,405.1 L487.0,406.0 L487.2,407.0 L487.3,408.0 L487.4,409.0 L487.6,410.0 L487.7,411.0 L487.9,411.9 L488.0,412.9 L488.1,413.9 L488.3,414.9 L488.4,415.9 L488.5,416.8 L488.6,417.8 L488.8,418.8 L488.9,419.8 L489.0,420.7 L489.1,421.7 L489.3,422.7 L489.4,423.6 L489.5,424.6 L489.6,425.6 L489.7,426.6 L489.9,427.5 L490.0,428.5 L490.1,429.5 L490.2,430.4 L490.3,431.4 L490.4,432.3 L490.5,433.3 L490.6,434.3 L490.7,435.2 L490.9,436.2 L491.0,437.1 L491.1,438.1 L491.2,439.0 L491.3,440.0 L491.4,440.9 L491.5,441.9 L491.6,442.8 L491.7,443.8 L491.8,444.7 L491.9,445.7 L492.0,446.6 L492.1,447.6 L492.2,448.5 L492.3,449.4 L492.4,450.4 L492.5,451.3 L492.6,452.2 L492.7,453.2 L492.8,454.1 L492.9,455.0 L493.0,455.9 L493.1,456.9 L493.2,457.8 L493.3,458.7 L493.4,459.6 L493.4,460.5 L493.5,461.4 L493.6,462.4 L493.7,463.3 L493.8,464.2 L493.9,465.1 L494.0,466.0" fill="none" stroke="#ffffff" stroke-width="1.2" stroke-dasharray="4 7 6 6" stroke-dashoffset="2" stroke-opacity="0.9"/>
<path d="M369.1,229.7 L370.2,229.8 L371.2,230.0 L372.1,230.2 L373.1,230.3 L374.1,230.5 L375.0,230.7 L376.0,231.0 L377.0,231.2 L377.9,231.4 L378.8,231.6 L379.8,231.9 L380.7,232.1 L381.6,232.4 L382.6,232.7 L383.5,232.9 L384.4,233.2 L385.3,233.5 L386.2,233.8 L387.1,234.1 L388.0,234.4 L388.8,234.8 L389.7,235.1 L390.6,235.4 L391.4,235.8 L392.3,236.1 L393.2,236.5 L394.0,236.8 L394.8,237.2 L395.7,237.6 L396.5,238.0 L397.3,238.4 L398.2,238.8 L399.0,239.2 L399.8,239.6 L400.6,240.0 L401.4,240.5 L402.2,240.9 L403.0,241.3 L403.8,241.8 L404.6,242.2 L405.3,242.7 L406.1,243.2 L406.9,243.7 L407.6,244.1 L408.4,244.6 L409.2,245.1 L409.9,245.6 L410.7,246.2 L411.4,246.7 L412.1,247.2 L412.9,247.7 L413.6,248.3 L414.3,248.8 L415.0,249.3 L415.7,249.9 L416.4,250.5 L417.1,251.0 L417.8,251.6 L418.5,252.2 L419.2,252.8 L419.9,253.4 L420.6,254.0 L421.3,254.6 L421.9,255.2 L422.6,255.8 L423.3,256.4 L423.9,257.0 L424.6,257.6 L425.2,258.3 L425.9,258.9 L426.5,259.6 L427.1,260.2 L427.8,260.9 L428.4,261.5 L429.0,262.2 L429.6,262.9 L430.2,263.6 L430.8,264.3 L431.4,265.0 L432.0,265.7 L432.6,266.4 L433.2,267.1 L433.8,267.8 L434.4,268.5 L434.9,269.2 L435.5,270.0 L436.1,270.7 L436.6,271.4 L437.2,272.2 L437.7,272.9 L438.3,273.7 L438.8,274.4 L439.3,275.2 L439.9,275.9 L440.4,276.7 L440.9,277.5 L441.5,278.3 L442.0,279.0 L442.5,279.8 L443.0,280.6 L443.5,281.4 L444.0,282.2 L444.5,283.0 L445.0,283.8 L445.5,284.6 L446.0,285.4 L446.5,286.2 L446.9,287.0 L447.4,287.9 L447.9,288.7 L448.3,289.5 L448.8,290.3 L449.3,291.2 L449.7,292.0 L450.2,292.8 L450.6,293.7 L451.1,294.5 L451.5,295.4 L452.0,296.2 L452.4,297.1 L452.8,297.9 L453.2,298.8 L453.7,299.6 L454.1,300.5 L454.5,301.4 L454.9,302.2 L455.3,303.1 L455.7,304.0 L456.1,304.8 L456.5,305.7 L456.9,306.6 L457.3,307.5 L457.7,308.4 L458.1,309.2 L458.5,310.1 L458.9,311.0 L459.2,311.9 L459.6,312.8 L460.0,313.7 L460.3,314.6 L460.7,315.5 L461.1,316.4 L461.4,317.3 L461.8,318.2 L462.1,319.1 L462.5,320.0 L462.8,320.9 L463.2,321.9 L463.5,322.8 L463.8,323.7 L464.2,324.6 L464.5,325.5 L464.8,326.4 L465.1,327.4 L465.5,328.3 L465.8,329.2 L466.1,330.2 L466.4,331.1 L466.7,332.0 L467.0,333.0 L467.3,333.9 L467.6,334.8 L467.9,335.8 L468.2,336.7 L468.5,337.6 L468.8,338.6 L469.1,339.5 L469.4,340.5 L469.7,341.4 L469.9,342.4 L470.2,343.3 L470.5,344.3 L470.7,345.2 L471.0,346.2 L471.3,347.1 L471.5,348.1 L471.8,349.1 L472.1,350.0 L472.3,351.0 L472.6,351.9 L472.8,352.9 L473.1,353.9 L473.3,354.8 L473.5,355.8 L473.8,356.7 L474.0,357.7 L474.3,358.7 L474.5,359.6 L474.7,360.6 L475.0,361.6 L475.2,362.6 L475.4,363.5 L475.6,364.5 L475.8,365.5 L476.1,366.4 L476.3,367.4 L476.5,368.4 L476.7,369.4 L476.9,370.3 L477.1,371.3 L477.3,372.3 L477.5,373.3 L477.7,374.2 L477.9,375.2 L478.1,376.2 L478.3,377.2 L478.5,378.2 L478.7,379.1 L478.9,380.1 L479.1,381.1 L479.2,382.1 L479.4,383.1 L479.6,384.0 L479.8,385.0 L480.0,386.0 L480.1,387.0 L480.3,388.0 L480.5,388.9 L480.6,389.9 L480.8,390.9 L481.0,391.9 L481.1,392.9 L481.3,393.9 L481.5,394.8 L481.6,395.8 L481.8,396.8 L481.9,397.8 L482.1,398.8 L482.3,399.7 L482.4,400.7 L482.6,401.7 L482.7,402.7 L482.8,403.7 L483.0,404.6 L483.1,405.6 L483.3,406.6 L483.4,407.6 L483.6,408.5 L483.7,409.5 L483.8,410.5 L484.0,411.5 L484.1,412.5 L484.2,413.4 L484.4,414.4 L484.5,415.4 L484.6,416.4 L484.8,417.3 L484.9,418.3 L485.0,419.3 L485.1,420.2 L485.3,421.2 L485.4,422.2 L485.5,423.1 L485.6,424.1 L485.7,425.1 L485.9,426.0 L486.0,427.0 L486.1,428.0 L486.2,428.9 L486.3,429.9 L486.4,430.9 L486.6,431.8 L486.7,432.8 L486.8,433.7 L486.9,434.7 L487.0,435.6 L487.1,436.6 L487.2,437.6 L487.3,438.5 L487.4,439.5 L487.5,440.4 L487.6,441.4 L487.7,442.3 L487.8,443.2 L487.9,444.2 L488.0,445.1 L488.1,446.1 L488.2,447.0 L488.3,447.9 L488.4,448.9 L488.5,449.8 L488.6,450.8 L488.7,451.7 L488.8,452.6 L488.9,453.5 L489.0,454.5 L489.1,455.4 L489.2,456.3 L489.3,457.2 L489.4,458.2 L489.5,459.1 L489.6,460.0 L489.7,460.9 L489.8,461.8 L489.9,462.7 L490.0,463.7 L490.1,464.6 L490.2,465.5 L490.2,466.4" fill="none" stroke="#6fbfec" stroke-width="1.1" stroke-dasharray="5 6 8 4" stroke-dashoffset="7" stroke-opacity="0.9"/>
<path d="M370.8,220.1 L371.9,220.3 L373.0,220.5 L374.0,220.7 L375.1,221.0 L376.1,221.2 L377.2,221.5 L378.2,221.7 L379.3,222.0 L380.3,222.3 L381.3,222.6 L382.3,222.8 L383.3,223.2 L384.3,223.5 L385.3,223.8 L386.3,224.1 L387.3,224.5 L388.3,224.8 L389.3,225.2 L390.2,225.5 L391.2,225.9 L392.1,226.3 L393.1,226.7 L394.0,227.1 L394.9,227.5 L395.9,227.9 L396.8,228.3 L397.7,228.7 L398.6,229.2 L399.5,229.6 L400.4,230.1 L401.3,230.5 L402.2,231.0 L403.1,231.5 L403.9,231.9 L404.8,232.4 L405.7,232.9 L406.5,233.4 L407.4,233.9 L408.2,234.4 L409.0,235.0 L409.9,235.5 L410.7,236.0 L411.5,236.6 L412.3,237.1 L413.1,237.7 L413.9,238.2 L414.7,238.8 L415.5,239.4 L416.3,240.0 L417.1,240.6 L417.8,241.1 L418.6,241.7 L419.4,242.4 L420.1,243.0 L420.9,243.6 L421.6,244.2 L422.3,244.8 L423.1,245.5 L423.8,246.1 L424.5,246.8 L425.2,247.4 L425.9,248.1 L426.6,248.8 L427.3,249.4 L428.0,250.1 L428.7,250.8 L429.4,251.5 L430.1,252.2 L430.7,252.9 L431.4,253.6 L432.1,254.3 L432.7,255.0 L433.4,255.7 L434.0,256.4 L434.7,257.1 L435.3,257.9 L435.9,258.6 L436.6,259.3 L437.2,260.1 L437.8,260.8 L438.4,261.5 L439.1,262.3 L439.7,263.1 L440.3,263.8 L440.9,264.6 L441.5,265.3 L442.1,266.1 L442.7,266.9 L443.2,267.7 L443.8,268.5 L444.4,269.2 L445.0,270.0 L445.5,270.8 L446.1,271.6 L446.6,272.4 L447.2,273.2 L447.7,274.1 L448.3,274.9 L448.8,275.7 L449.4,276.5 L449.9,277.3 L450.4,278.2 L450.9,279.0 L451.4,279.8 L452.0,280.7 L452.5,281.5 L453.0,282.4 L453.5,283.2 L454.0,284.1 L454.4,284.9 L454.9,285.8 L455.4,286.6 L455.9,287.5 L456.4,288.4 L456.8,289.3 L457.3,290.1 L457.8,291.0 L458.2,291.9 L458.7,292.8 L459.1,293.6 L459.6,294.5 L460.0,295.4 L460.5,296.3 L460.9,297.2 L461.3,298.1 L461.7,299.0 L462.2,299.9 L462.6,300.8 L463.0,301.7 L463.4,302.6 L463.8,303.5 L464.2,304.4 L464.6,305.3 L465.0,306.2 L465.4,307.1 L465.8,308.1 L466.2,309.0 L466.6,309.9 L467.0,310.8 L467.4,311.8 L467.7,312.7 L468.1,313.6 L468.5,314.5 L468.8,315.5 L469.2,316.4 L469.5,317.3 L469.9,318.3 L470.3,319.2 L470.6,320.2 L470.9,321.1 L471.3,322.1 L471.6,323.0 L472.0,323.9 L472.3,324.9 L472.6,325.8 L472.9,326.8 L473.3,327.7 L473.6,328.7 L473.9,329.7 L474.2,330.6 L474.5,331.6 L474.8,332.5 L475.1,333.5 L475.4,334.5 L475.7,335.4 L476.0,336.4 L476.3,337.4 L476.6,338.3 L476.9,339.3 L477.2,340.3 L477.5,341.2 L477.7,342.2 L478.0,343.2 L478.3,344.2 L478.6,345.1 L478.8,346.1 L479.1,347.1 L479.4,348.1 L479.6,349.0 L479.9,350.0 L480.1,351.0 L480.4,352.0 L480.6,353.0 L480.9,353.9 L481.1,354.9 L481.4,355.9 L481.6,356.9 L481.8,357.9 L482.1,358.9 L482.3,359.9 L482.5,360.8 L482.8,361.8 L483.0,362.8 L483.2,363.8 L483.4,364.8 L483.7,365.8 L483.9,366.8 L484.1,367.8 L484.3,368.8 L484.5,369.8 L484.7,370.8 L484.9,371.7 L485.1,372.7 L485.3,373.7 L485.5,374.7 L485.7,375.7 L485.9,376.7 L486.1,377.7 L486.3,378.7 L486.5,379.7 L486.7,380.7 L486.9,381.7 L487.0,382.7 L487.2,383.7 L487.4,384.7 L487.6,385.7 L487.8,386.7 L487.9,387.7 L488.1,388.6 L488.3,389.6 L488.4,390.6 L488.6,391.6 L488.8,392.6 L488.9,393.6 L489.1,394.6 L489.3,395.6 L489.4,396.6 L489.6,397.6 L489.7,398.6 L489.9,399.6 L490.0,400.6 L490.2,401.5 L490.3,402.5 L490.5,403.5 L490.6,404.5 L490.8,405.5 L490.9,406.5 L491.0,407.5 L491.2,408.5 L491.3,409.5 L491.5,410.4 L491.6,411.4 L491.7,412.4 L491.9,413.4 L492.0,414.4 L492.1,415.4 L492.3,416.3 L492.4,417.3 L492.5,418.3 L492.6,419.3 L492.8,420.3 L492.9,421.2 L493.0,422.2 L493.1,423.2 L493.3,424.2 L493.4,425.1 L493.5,426.1 L493.6,427.1 L493.7,428.0 L493.8,429.0 L493.9,430.0 L494.1,430.9 L494.2,431.9 L494.3,432.9 L494.4,433.8 L494.5,434.8 L494.6,435.8 L494.7,436.7 L494.8,437.7 L494.9,438.6 L495.0,439.6 L495.1,440.5 L495.2,441.5 L495.4,442.4 L495.5,443.4 L495.6,444.3 L495.7,445.3 L495.8,446.2 L495.9,447.2 L496.0,448.1 L496.1,449.0 L496.2,450.0 L496.3,450.9 L496.4,451.8 L496.4,452.8 L496.5,453.7 L496.6,454.6 L496.7,455.5 L496.8,456.5 L496.9,457.4 L497.0,458.3 L497.1,459.2 L497.2,460.2 L497.3,461.1 L497.4,462.0 L497.5,462.9 L497.6,463.8 L497.7,464.7 L497.8,465.6" fill="none" stroke="#6fbfec" stroke-width="1.1" stroke-dasharray="6 5 4 7" stroke-dashoffset="1" stroke-opacity="0.9"/>
<path d="M370.7,321.2 L371.7,321.1 L372.6,321.0 L373.6,320.8 L374.5,320.7 L375.5,320.6 L376.4,320.5 L377.4,320.4 L378.4,320.3 L379.3,320.2 L380.3,320.1 L381.2,320.0 L382.2,319.9 L383.1,319.8 L384.1,319.8 L385.1,319.7 L386.0,319.6 L387.0,319.5 L388.0,319.5 L388.9,319.4 L389.9,319.3 L390.9,319.3 L391.8,319.2 L392.8,319.2 L393.8,319.1 L394.7,319.1 L395.7,319.0 L396.7,319.0 L397.7,319.0 L398.6,318.9 L399.6,318.9 L400.6,318.9 L401.6,318.9 L402.5,318.8 L403.5,318.8 L404.5,318.8 L405.5,318.8 L406.5,318.8 L407.4,318.8 L408.4,318.8 L409.4,318.8 L410.4,318.8 L411.3,318.9 L412.3,318.9 L413.3,318.9 L414.3,318.9 L415.3,319.0 L416.2,319.0 L417.2,319.0 L418.2,319.1 L419.2,319.1 L420.2,319.2 L421.1,319.2 L422.1,319.3 L423.1,319.4 L424.1,319.4 L425.0,319.5 L426.0,319.6 L427.0,319.6 L428.0,319.7 L429.0,319.8 L429.9,319.9 L430.9,320.0 L431.9,320.1 L432.9,320.2 L433.8,320.3 L434.8,320.4 L435.8,320.5 L436.7,320.7 L437.7,320.8 L438.7,320.9 L439.7,321.0 L440.6,321.2 L441.6,321.3 L442.6,321.5 L443.5,321.6 L444.5,321.8 L445.4,322.0 L446.4,322.1 L447.4,322.3 L448.3,322.5 L449.3,322.7 L450.2,322.9 L451.2,323.1 L452.1,323.3 L453.1,323.5 L454.0,323.7 L455.0,324.0 L455.9,324.2 L456.8,324.4 L457.8,324.6 L458.7,324.9 L459.7,325.1 L460.6,325.4 L461.5,325.6 L462.5,325.9 L463.4,326.1 L464.3,326.4 L465.3,326.7 L466.2,326.9 L467.1,327.2 L468.0,327.5 L468.9,327.8 L469.9,328.1 L470.8,328.3 L471.7,328.6 L472.6,329.0 L473.5,329.3 L474.4,329.6 L475.3,329.9 L476.2,330.2 L477.1,330.5 L478.0,330.9 L478.9,331.2 L479.8,331.5 L480.7,331.9 L481.6,332.2 L482.5,332.6 L483.3,332.9 L484.2,333.3 L485.1,333.7 L486.0,334.0 L486.8,334.4 L487.7,334.8 L488.6,335.2 L489.4,335.6 L490.3,336.0 L491.2,336.4 L492.0,336.8 L492.9,337.2 L493.7,337.6 L494.6,338.0 L495.4,338.4 L496.2,338.9 L497.1,339.3 L497.9,339.7 L498.7,340.2 L499.6,340.6 L500.4,341.1 L501.2,341.5 L502.0,342.0 L502.8,342.5 L503.7,342.9 L504.5,343.4 L505.3,343.9 L506.1,344.4 L506.9,344.9 L507.7,345.4 L508.5,345.9 L509.2,346.4 L510.0,346.9 L510.8,347.4 L511.6,347.9 L512.4,348.4 L513.1,349.0 L513.9,349.5 L514.6,350.1 L515.4,350.6 L516.2,351.2 L516.9,351.7 L517.7,352.3 L518.4,352.8 L519.1,353.4 L519.9,354.0 L520.6,354.6 L521.3,355.2 L522.1,355.8 L522.8,356.4 L523.5,357.0 L524.2,357.6 L524.9,358.2 L525.6,358.8 L526.3,359.4 L527.0,360.1 L527.7,360.7 L528.4,361.3 L529.1,362.0 L529.7,362.6 L530.4,363.3 L531.1,363.9 L531.8,364.6 L532.4,365.3 L533.1,366.0 L533.7,366.6 L534.4,367.3 L535.0,368.0 L535.7,368.7 L536.3,369.4 L537.0,370.1 L537.6,370.8 L538.2,371.5 L538.8,372.2 L539.5,373.0 L540.1,373.7 L540.7,374.4 L541.3,375.2 L541.9,375.9 L542.5,376.6 L543.1,377.4 L543.7,378.1 L544.3,378.9 L544.8,379.7 L545.4,380.4 L546.0,381.2 L546.6,382.0 L547.1,382.7 L547.7,383.5 L548.2,384.3 L548.8,385.1 L549.3,385.9 L549.9,386.7 L550.4,387.5 L551.0,388.3 L551.5,389.1 L552.0,389.9 L552.5,390.7 L553.1,391.5 L553.6,392.3 L554.1,393.1 L554.6,394.0 L555.1,394.8 L555.6,395.6 L556.1,396.5 L556.6,397.3 L557.0,398.1 L557.5,399.0 L558.0,399.8 L558.4,400.7 L558.9,401.5 L559.4,402.4 L559.8,403.2 L560.3,404.1 L560.7,405.0 L561.2,405.8 L561.6,406.7 L562.0,407.6 L562.5,408.4 L562.9,409.3 L563.3,410.2 L563.7,411.1 L564.1,412.0 L564.5,412.9 L564.9,413.7 L565.3,414.6 L565.7,415.5 L566.1,416.4 L566.5,417.3 L566.8,418.2 L567.2,419.1 L567.6,420.0 L567.9,420.9 L568.3,421.8 L568.6,422.7 L569.0,423.6 L569.3,424.6 L569.7,425.5 L570.0,426.4 L570.3,427.3 L570.6,428.2 L571.0,429.1 L571.3,430.1 L571.6,431.0 L571.9,431.9 L572.2,432.8 L572.5,433.8 L572.7,434.7 L573.0,435.6 L573.3,436.5 L573.6,437.5 L573.8,438.4 L574.1,439.3 L574.4,440.3 L574.6,441.2 L574.9,442.1 L575.1,443.1 L575.3,444.0 L575.6,444.9 L575.8,445.9 L576.0,446.8 L576.2,447.8 L576.5,448.7 L576.7,449.6 L576.9,450.6 L577.1,451.5 L577.2,452.5 L577.4,453.4 L577.6,454.4 L577.8,455.3 L578.0,456.2 L578.1,457.2 L578.3,458.1 L578.4,459.1 L578.6,460.0 L578.7,461.0 L578.9,461.9 L579.0,462.8 L579.1,463.8 L579.3,464.7 L579.4,465.7 L579.5,466.6 L589.9,465.4 L589.8,464.4 L589.7,463.4 L589.5,462.4 L589.4,461.4 L589.3,460.4 L589.1,459.4 L589.0,458.4 L588.8,457.4 L588.6,456.4 L588.5,455.4 L588.3,454.4 L588.1,453.4 L587.9,452.4 L587.7,451.4 L587.5,450.4 L587.3,449.4 L587.1,448.4 L586.9,447.4 L586.7,446.4 L586.5,445.4 L586.2,444.4 L586.0,443.4 L585.8,442.5 L585.5,441.5 L585.3,440.5 L585.0,439.5 L584.8,438.5 L584.5,437.5 L584.2,436.5 L583.9,435.5 L583.7,434.5 L583.4,433.6 L583.1,432.6 L582.8,431.6 L582.5,430.6 L582.2,429.6 L581.9,428.7 L581.5,427.7 L581.2,426.7 L580.9,425.7 L580.6,424.8 L580.2,423.8 L579.9,422.8 L579.5,421.9 L579.2,420.9 L578.8,419.9 L578.4,419.0 L578.1,418.0 L577.7,417.1 L577.3,416.1 L576.9,415.1 L576.5,414.2 L576.1,413.2 L575.7,412.3 L575.3,411.4 L574.9,410.4 L574.5,409.5 L574.1,408.5 L573.7,407.6 L573.2,406.7 L572.8,405.7 L572.3,404.8 L571.9,403.9 L571.4,402.9 L571.0,402.0 L570.5,401.1 L570.1,400.2 L569.6,399.3 L569.1,398.4 L568.6,397.5 L568.2,396.5 L567.7,395.6 L567.2,394.7 L566.7,393.8 L566.2,392.9 L565.6,392.1 L565.1,391.2 L564.6,390.3 L564.1,389.4 L563.6,388.5 L563.0,387.6 L562.5,386.8 L561.9,385.9 L561.4,385.0 L560.8,384.2 L560.3,383.3 L559.7,382.5 L559.1,381.6 L558.6,380.8 L558.0,379.9 L557.4,379.1 L556.8,378.2 L556.2,377.4 L555.6,376.6 L555.0,375.8 L554.4,374.9 L553.8,374.1 L553.2,373.3 L552.6,372.5 L552.0,371.7 L551.3,370.9 L550.7,370.1 L550.1,369.3 L549.4,368.5 L548.8,367.7 L548.1,366.9 L547.4,366.2 L546.8,365.4 L546.1,364.6 L545.4,363.9 L544.8,363.1 L544.1,362.3 L543.4,361.6 L542.7,360.9 L542.0,360.1 L541.3,359.4 L540.6,358.6 L539.9,357.9 L539.2,357.2 L538.5,356.5 L537.8,355.8 L537.0,355.1 L536.3,354.4 L535.6,353.7 L534.8,353.0 L534.1,352.3 L533.3,351.6 L532.6,351.0 L531.8,350.3 L531.1,349.6 L530.3,349.0 L529.5,348.3 L528.7,347.7 L528.0,347.0 L527.2,346.4 L526.4,345.8 L525.6,345.1 L524.8,344.5 L524.0,343.9 L523.2,343.3 L522.4,342.7 L521.6,342.1 L520.8,341.5 L519.9,340.9 L519.1,340.4 L518.3,339.8 L517.5,339.2 L516.6,338.7 L515.8,338.1 L515.0,337.6 L514.1,337.0 L513.3,336.5 L512.4,335.9 L511.6,335.4 L510.7,334.9 L509.8,334.4 L509.0,333.9 L508.1,333.4 L507.2,332.9 L506.4,332.4 L505.5,331.9 L504.6,331.4 L503.7,330.9 L502.8,330.4 L501.9,330.0 L501.0,329.5 L500.1,329.1 L499.2,328.6 L498.3,328.2 L497.4,327.7 L496.5,327.3 L495.6,326.9 L494.7,326.4 L493.8,326.0 L492.9,325.6 L492.0,325.2 L491.0,324.8 L490.1,324.4 L489.2,324.0 L488.2,323.6 L487.3,323.2 L486.4,322.8 L485.4,322.5 L484.5,322.1 L483.6,321.7 L482.6,321.4 L481.7,321.0 L480.7,320.7 L479.8,320.3 L478.8,320.0 L477.9,319.6 L476.9,319.3 L475.9,319.0 L475.0,318.7 L474.0,318.4 L473.0,318.1 L472.1,317.7 L471.1,317.4 L470.1,317.1 L469.2,316.9 L468.2,316.6 L467.2,316.3 L466.2,316.0 L465.2,315.7 L464.3,315.5 L463.3,315.2 L462.3,315.0 L461.3,314.7 L460.3,314.5 L459.3,314.2 L458.3,314.0 L457.4,313.7 L456.4,313.5 L455.4,313.3 L454.4,313.1 L453.4,312.8 L452.4,312.6 L451.4,312.4 L450.4,312.2 L449.4,312.0 L448.4,311.8 L447.4,311.6 L446.4,311.5 L445.3,311.3 L444.3,311.1 L443.3,310.9 L442.3,310.7 L441.3,310.5 L440.3,310.4 L439.3,310.2 L438.3,310.0 L437.3,309.9 L436.3,309.7 L435.3,309.5 L434.2,309.4 L433.2,309.2 L432.2,309.1 L431.2,308.9 L430.2,308.8 L429.2,308.7 L428.2,308.5 L427.1,308.4 L426.1,308.3 L425.1,308.2 L424.1,308.1 L423.1,308.0 L422.0,307.9 L421.0,307.8 L420.0,307.7 L419.0,307.6 L418.0,307.5 L416.9,307.4 L415.9,307.3 L414.9,307.3 L413.9,307.2 L412.8,307.1 L411.8,307.1 L410.8,307.0 L409.8,306.9 L408.7,306.9 L407.7,306.8 L406.7,306.8 L405.7,306.8 L404.7,306.7 L403.6,306.7 L402.6,306.7 L401.6,306.6 L400.6,306.6 L399.6,306.6 L398.5,306.6 L397.5,306.6 L396.5,306.6 L395.5,306.6 L394.5,306.6 L393.4,306.6 L392.4,306.6 L391.4,306.6 L390.4,306.6 L389.4,306.6 L388.4,306.7 L387.3,306.7 L386.3,306.7 L385.3,306.8 L384.3,306.8 L383.3,306.8 L382.3,306.9 L381.3,306.9 L380.3,307.0 L379.3,307.0 L378.2,307.1 L377.2,307.2 L376.2,307.2 L375.2,307.3 L374.2,307.4 L373.2,307.5 L372.2,307.5 L371.2,307.6 L370.2,307.7 L369.3,307.8 Z" fill="#7cc5ee"/>
<path d="M370.6,320.0 L371.6,319.9 L372.5,319.8 L373.5,319.7 L374.4,319.5 L375.4,319.4 L376.3,319.3 L377.3,319.2 L378.3,319.1 L379.2,319.0 L380.2,318.9 L381.1,318.8 L382.1,318.7 L383.1,318.6 L384.0,318.6 L385.0,318.5 L386.0,318.4 L386.9,318.3 L387.9,318.3 L388.9,318.2 L389.8,318.1 L390.8,318.1 L391.8,318.0 L392.8,318.0 L393.7,317.9 L394.7,317.9 L395.7,317.8 L396.7,317.8 L397.7,317.8 L398.6,317.7 L399.6,317.7 L400.6,317.7 L401.6,317.7 L402.6,317.6 L403.5,317.6 L404.5,317.6 L405.5,317.6 L406.5,317.6 L407.5,317.6 L408.4,317.6 L409.4,317.6 L410.4,317.6 L411.4,317.7 L412.4,317.7 L413.4,317.7 L414.3,317.7 L415.3,317.8 L416.3,317.8 L417.3,317.8 L418.3,317.9 L419.3,317.9 L420.2,318.0 L421.2,318.0 L422.2,318.1 L423.2,318.2 L424.2,318.2 L425.2,318.3 L426.1,318.4 L427.1,318.5 L428.1,318.5 L429.1,318.6 L430.1,318.7 L431.1,318.8 L432.0,318.9 L433.0,319.0 L434.0,319.1 L435.0,319.2 L435.9,319.3 L436.9,319.5 L437.9,319.6 L438.9,319.7 L439.8,319.9 L440.8,320.0 L441.8,320.1 L442.8,320.3 L443.7,320.4 L444.7,320.6 L445.7,320.8 L446.6,321.0 L447.6,321.2 L448.5,321.3 L449.5,321.5 L450.5,321.7 L451.4,321.9 L452.4,322.1 L453.3,322.4 L454.3,322.6 L455.2,322.8 L456.2,323.0 L457.1,323.2 L458.1,323.5 L459.0,323.7 L460.0,324.0 L460.9,324.2 L461.8,324.5 L462.8,324.7 L463.7,325.0 L464.7,325.2 L465.6,325.5 L466.5,325.8 L467.4,326.1 L468.4,326.3 L469.3,326.6 L470.2,326.9 L471.1,327.2 L472.1,327.5 L473.0,327.8 L473.9,328.1 L474.8,328.4 L475.7,328.8 L476.6,329.1 L477.5,329.4 L478.4,329.7 L479.3,330.1 L480.2,330.4 L481.1,330.8 L482.0,331.1 L482.9,331.5 L483.8,331.8 L484.7,332.2 L485.6,332.6 L486.4,332.9 L487.3,333.3 L488.2,333.7 L489.1,334.1 L489.9,334.5 L490.8,334.9 L491.7,335.3 L492.5,335.7 L493.4,336.1 L494.2,336.5 L495.1,336.9 L495.9,337.4 L496.8,337.8 L497.6,338.2 L498.5,338.7 L499.3,339.1 L500.1,339.6 L501.0,340.0 L501.8,340.5 L502.6,340.9 L503.4,341.4 L504.3,341.9 L505.1,342.4 L505.9,342.9 L506.7,343.4 L507.5,343.8 L508.3,344.3 L509.1,344.9 L509.9,345.4 L510.7,345.9 L511.5,346.4 L512.3,346.9 L513.0,347.5 L513.8,348.0 L514.6,348.5 L515.3,349.1 L516.1,349.6 L516.9,350.2 L517.6,350.8 L518.4,351.3 L519.1,351.9 L519.9,352.5 L520.6,353.1 L521.4,353.6 L522.1,354.2 L522.8,354.8 L523.5,355.4 L524.3,356.0 L525.0,356.7 L525.7,357.3 L526.4,357.9 L527.1,358.5 L527.8,359.2 L528.5,359.8 L529.2,360.5 L529.9,361.1 L530.6,361.8 L531.3,362.4 L531.9,363.1 L532.6,363.8 L533.3,364.4 L533.9,365.1 L534.6,365.8 L535.3,366.5 L535.9,367.2 L536.6,367.9 L537.2,368.6 L537.9,369.3 L538.5,370.0 L539.1,370.7 L539.7,371.5 L540.4,372.2 L541.0,372.9 L541.6,373.7 L542.2,374.4 L542.8,375.1 L543.4,375.9 L544.0,376.6 L544.6,377.4 L545.2,378.2 L545.8,378.9 L546.4,379.7 L547.0,380.5 L547.5,381.2 L548.1,382.0 L548.7,382.8 L549.2,383.6 L549.8,384.4 L550.3,385.2 L550.9,386.0 L551.4,386.8 L552.0,387.6 L552.5,388.4 L553.0,389.2 L553.6,390.0 L554.1,390.9 L554.6,391.7 L555.1,392.5 L555.6,393.3 L556.1,394.2 L556.6,395.0 L557.1,395.9 L557.6,396.7 L558.1,397.5 L558.6,398.4 L559.0,399.2 L559.5,400.1 L560.0,401.0 L560.4,401.8 L560.9,402.7 L561.3,403.6 L561.8,404.4 L562.2,405.3 L562.7,406.2 L563.1,407.0 L563.5,407.9 L564.0,408.8 L564.4,409.7 L564.8,410.6 L565.2,411.5 L565.6,412.4 L566.0,413.3 L566.4,414.1 L566.8,415.0 L567.2,415.9 L567.6,416.8 L567.9,417.8 L568.3,418.7 L568.7,419.6 L569.0,420.5 L569.4,421.4 L569.8,422.3 L570.1,423.2 L570.4,424.1 L570.8,425.1 L571.1,426.0 L571.4,426.9 L571.8,427.8 L572.1,428.7 L572.4,429.7 L572.7,430.6 L573.0,431.5 L573.3,432.5 L573.6,433.4 L573.9,434.3 L574.2,435.3 L574.5,436.2 L574.7,437.1 L575.0,438.1 L575.3,439.0 L575.5,440.0 L575.8,440.9 L576.0,441.8 L576.3,442.8 L576.5,443.7 L576.7,444.7 L577.0,445.6 L577.2,446.6 L577.4,447.5 L577.6,448.4 L577.8,449.4 L578.0,450.3 L578.2,451.3 L578.4,452.2 L578.6,453.2 L578.8,454.1 L579.0,455.1 L579.1,456.0 L579.3,457.0 L579.5,457.9 L579.6,458.9 L579.8,459.8 L579.9,460.8 L580.1,461.7 L580.2,462.7 L580.3,463.6 L580.4,464.6 L580.6,465.5 L580.7,466.5 L588.7,465.5 L588.6,464.5 L588.5,463.5 L588.4,462.6 L588.2,461.6 L588.1,460.6 L587.9,459.6 L587.8,458.6 L587.6,457.6 L587.5,456.6 L587.3,455.6 L587.1,454.6 L586.9,453.6 L586.8,452.6 L586.6,451.6 L586.4,450.6 L586.2,449.7 L586.0,448.7 L585.7,447.7 L585.5,446.7 L585.3,445.7 L585.1,444.7 L584.8,443.7 L584.6,442.7 L584.4,441.8 L584.1,440.8 L583.9,439.8 L583.6,438.8 L583.3,437.8 L583.1,436.8 L582.8,435.9 L582.5,434.9 L582.2,433.9 L581.9,432.9 L581.6,432.0 L581.3,431.0 L581.0,430.0 L580.7,429.0 L580.4,428.1 L580.1,427.1 L579.8,426.1 L579.4,425.2 L579.1,424.2 L578.7,423.2 L578.4,422.3 L578.0,421.3 L577.7,420.4 L577.3,419.4 L576.9,418.5 L576.6,417.5 L576.2,416.5 L575.8,415.6 L575.4,414.7 L575.0,413.7 L574.6,412.8 L574.2,411.8 L573.8,410.9 L573.4,410.0 L573.0,409.0 L572.6,408.1 L572.1,407.2 L571.7,406.2 L571.3,405.3 L570.8,404.4 L570.4,403.5 L569.9,402.6 L569.5,401.6 L569.0,400.7 L568.5,399.8 L568.1,398.9 L567.6,398.0 L567.1,397.1 L566.6,396.2 L566.1,395.3 L565.6,394.4 L565.1,393.5 L564.6,392.7 L564.1,391.8 L563.6,390.9 L563.1,390.0 L562.5,389.1 L562.0,388.3 L561.5,387.4 L560.9,386.5 L560.4,385.7 L559.8,384.8 L559.3,384.0 L558.7,383.1 L558.1,382.3 L557.6,381.4 L557.0,380.6 L556.4,379.8 L555.8,378.9 L555.3,378.1 L554.7,377.3 L554.1,376.5 L553.5,375.6 L552.9,374.8 L552.2,374.0 L551.6,373.2 L551.0,372.4 L550.4,371.6 L549.8,370.8 L549.1,370.0 L548.5,369.3 L547.8,368.5 L547.2,367.7 L546.5,366.9 L545.9,366.2 L545.2,365.4 L544.5,364.7 L543.9,363.9 L543.2,363.2 L542.5,362.4 L541.8,361.7 L541.1,360.9 L540.5,360.2 L539.8,359.5 L539.1,358.8 L538.3,358.0 L537.6,357.3 L536.9,356.6 L536.2,355.9 L535.5,355.2 L534.7,354.6 L534.0,353.9 L533.3,353.2 L532.5,352.5 L531.8,351.9 L531.0,351.2 L530.3,350.5 L529.5,349.9 L528.7,349.2 L528.0,348.6 L527.2,348.0 L526.4,347.3 L525.6,346.7 L524.9,346.1 L524.1,345.5 L523.3,344.9 L522.5,344.3 L521.7,343.7 L520.9,343.1 L520.1,342.5 L519.3,341.9 L518.4,341.3 L517.6,340.8 L516.8,340.2 L516.0,339.7 L515.1,339.1 L514.3,338.6 L513.5,338.0 L512.6,337.5 L511.8,337.0 L510.9,336.4 L510.1,335.9 L509.2,335.4 L508.4,334.9 L507.5,334.4 L506.6,333.9 L505.8,333.4 L504.9,332.9 L504.0,332.5 L503.1,332.0 L502.3,331.5 L501.4,331.0 L500.5,330.6 L499.6,330.1 L498.7,329.7 L497.8,329.2 L496.9,328.8 L496.0,328.4 L495.1,327.9 L494.2,327.5 L493.3,327.1 L492.4,326.7 L491.5,326.3 L490.6,325.9 L489.6,325.5 L488.7,325.1 L487.8,324.7 L486.9,324.3 L485.9,323.9 L485.0,323.6 L484.1,323.2 L483.1,322.8 L482.2,322.5 L481.2,322.1 L480.3,321.8 L479.4,321.5 L478.4,321.1 L477.5,320.8 L476.5,320.5 L475.6,320.1 L474.6,319.8 L473.6,319.5 L472.7,319.2 L471.7,318.9 L470.8,318.6 L469.8,318.3 L468.8,318.0 L467.8,317.7 L466.9,317.4 L465.9,317.2 L464.9,316.9 L464.0,316.6 L463.0,316.4 L462.0,316.1 L461.0,315.9 L460.0,315.6 L459.1,315.4 L458.1,315.1 L457.1,314.9 L456.1,314.7 L455.1,314.5 L454.1,314.2 L453.1,314.0 L452.1,313.8 L451.1,313.6 L450.1,313.4 L449.1,313.2 L448.1,313.0 L447.1,312.8 L446.1,312.6 L445.1,312.5 L444.1,312.3 L443.1,312.1 L442.1,311.9 L441.1,311.7 L440.1,311.5 L439.1,311.4 L438.1,311.2 L437.1,311.0 L436.1,310.9 L435.1,310.7 L434.1,310.6 L433.1,310.4 L432.1,310.3 L431.1,310.1 L430.1,310.0 L429.0,309.9 L428.0,309.7 L427.0,309.6 L426.0,309.5 L425.0,309.4 L424.0,309.3 L423.0,309.2 L421.9,309.1 L420.9,309.0 L419.9,308.9 L418.9,308.8 L417.9,308.7 L416.9,308.6 L415.8,308.5 L414.8,308.5 L413.8,308.4 L412.8,308.3 L411.8,308.3 L410.8,308.2 L409.7,308.1 L408.7,308.1 L407.7,308.0 L406.7,308.0 L405.7,308.0 L404.6,307.9 L403.6,307.9 L402.6,307.9 L401.6,307.8 L400.6,307.8 L399.6,307.8 L398.5,307.8 L397.5,307.8 L396.5,307.8 L395.5,307.8 L394.5,307.8 L393.5,307.8 L392.5,307.8 L391.4,307.8 L390.4,307.8 L389.4,307.8 L388.4,307.9 L387.4,307.9 L386.4,307.9 L385.4,308.0 L384.4,308.0 L383.4,308.0 L382.4,308.1 L381.4,308.1 L380.4,308.2 L379.3,308.2 L378.3,308.3 L377.3,308.4 L376.3,308.4 L375.3,308.5 L374.3,308.6 L373.4,308.6 L372.4,308.7 L371.4,308.8 L370.4,308.9 L369.4,309.0 Z" fill="#97d4f4"/>
<path d="M370.4,317.7 L371.3,317.6 L372.3,317.5 L373.2,317.4 L374.2,317.3 L375.2,317.2 L376.1,317.1 L377.1,317.0 L378.1,316.9 L379.0,316.8 L380.0,316.7 L381.0,316.6 L381.9,316.5 L382.9,316.5 L383.9,316.4 L384.9,316.3 L385.8,316.3 L386.8,316.2 L387.8,316.1 L388.8,316.1 L389.8,316.0 L390.7,316.0 L391.7,315.9 L392.7,315.9 L393.7,315.9 L394.7,315.8 L395.7,315.8 L396.6,315.8 L397.6,315.7 L398.6,315.7 L399.6,315.7 L400.6,315.7 L401.6,315.7 L402.6,315.7 L403.6,315.7 L404.5,315.7 L405.5,315.7 L406.5,315.7 L407.5,315.7 L408.5,315.7 L409.5,315.7 L410.5,315.8 L411.5,315.8 L412.5,315.8 L413.4,315.9 L414.4,315.9 L415.4,315.9 L416.4,316.0 L417.4,316.0 L418.4,316.1 L419.4,316.2 L420.4,316.2 L421.4,316.3 L422.4,316.4 L423.3,316.4 L424.3,316.5 L425.3,316.6 L426.3,316.7 L427.3,316.8 L428.3,316.9 L429.3,317.0 L430.3,317.1 L431.2,317.2 L432.2,317.3 L433.2,317.4 L434.2,317.5 L435.2,317.6 L436.2,317.8 L437.1,317.9 L438.1,318.0 L439.1,318.2 L440.1,318.3 L441.1,318.5 L442.0,318.6 L443.0,318.8 L444.0,318.9 L445.0,319.1 L445.9,319.3 L446.9,319.5 L447.9,319.7 L448.8,319.8 L449.8,320.0 L450.8,320.2 L451.7,320.4 L452.7,320.7 L453.7,320.9 L454.6,321.1 L455.6,321.3 L456.5,321.5 L457.5,321.8 L458.4,322.0 L459.4,322.2 L460.4,322.5 L461.3,322.7 L462.2,323.0 L463.2,323.2 L464.1,323.5 L465.1,323.8 L466.0,324.0 L467.0,324.3 L467.9,324.6 L468.8,324.9 L469.8,325.2 L470.7,325.5 L471.6,325.8 L472.5,326.1 L473.5,326.4 L474.4,326.7 L475.3,327.0 L476.2,327.3 L477.1,327.6 L478.1,328.0 L479.0,328.3 L479.9,328.6 L480.8,329.0 L481.7,329.3 L482.6,329.7 L483.5,330.0 L484.4,330.4 L485.3,330.8 L486.2,331.1 L487.0,331.5 L487.9,331.9 L488.8,332.3 L489.7,332.7 L490.6,333.1 L491.4,333.5 L492.3,333.9 L493.2,334.3 L494.1,334.7 L494.9,335.1 L495.8,335.6 L496.6,336.0 L497.5,336.4 L498.3,336.9 L499.2,337.3 L500.0,337.8 L500.9,338.2 L501.7,338.7 L502.6,339.1 L503.4,339.6 L504.2,340.1 L505.0,340.6 L505.9,341.1 L506.7,341.6 L507.5,342.0 L508.3,342.5 L509.1,343.1 L509.9,343.6 L510.7,344.1 L511.5,344.6 L512.3,345.1 L513.1,345.7 L513.9,346.2 L514.7,346.7 L515.5,347.3 L516.2,347.8 L517.0,348.4 L517.8,349.0 L518.5,349.5 L519.3,350.1 L520.1,350.7 L520.8,351.3 L521.6,351.9 L522.3,352.5 L523.1,353.1 L523.8,353.7 L524.5,354.3 L525.3,354.9 L526.0,355.5 L526.7,356.1 L527.4,356.8 L528.1,357.4 L528.8,358.0 L529.5,358.7 L530.2,359.3 L530.9,360.0 L531.6,360.7 L532.3,361.3 L533.0,362.0 L533.7,362.7 L534.4,363.4 L535.0,364.1 L535.7,364.8 L536.4,365.5 L537.0,366.2 L537.7,366.9 L538.3,367.6 L539.0,368.3 L539.6,369.0 L540.3,369.7 L540.9,370.5 L541.5,371.2 L542.2,371.9 L542.8,372.7 L543.4,373.4 L544.0,374.2 L544.6,374.9 L545.2,375.7 L545.8,376.5 L546.4,377.2 L547.0,378.0 L547.6,378.8 L548.2,379.6 L548.8,380.3 L549.3,381.1 L549.9,381.9 L550.5,382.7 L551.0,383.5 L551.6,384.3 L552.1,385.1 L552.7,385.9 L553.2,386.8 L553.8,387.6 L554.3,388.4 L554.8,389.2 L555.4,390.0 L555.9,390.9 L556.4,391.7 L556.9,392.6 L557.4,393.4 L557.9,394.2 L558.4,395.1 L558.9,395.9 L559.4,396.8 L559.9,397.6 L560.4,398.5 L560.8,399.4 L561.3,400.2 L561.8,401.1 L562.2,402.0 L562.7,402.8 L563.1,403.7 L563.6,404.6 L564.0,405.5 L564.5,406.4 L564.9,407.3 L565.3,408.1 L565.8,409.0 L566.2,409.9 L566.6,410.8 L567.0,411.7 L567.4,412.6 L567.8,413.5 L568.2,414.4 L568.6,415.3 L569.0,416.3 L569.4,417.2 L569.7,418.1 L570.1,419.0 L570.5,419.9 L570.8,420.8 L571.2,421.8 L571.5,422.7 L571.9,423.6 L572.2,424.5 L572.6,425.5 L572.9,426.4 L573.2,427.3 L573.5,428.3 L573.9,429.2 L574.2,430.1 L574.5,431.1 L574.8,432.0 L575.1,432.9 L575.4,433.9 L575.6,434.8 L575.9,435.8 L576.2,436.7 L576.5,437.7 L576.7,438.6 L577.0,439.5 L577.3,440.5 L577.5,441.4 L577.8,442.4 L578.0,443.3 L578.2,444.3 L578.5,445.3 L578.7,446.2 L578.9,447.2 L579.1,448.1 L579.3,449.1 L579.5,450.0 L579.7,451.0 L579.9,451.9 L580.1,452.9 L580.3,453.8 L580.5,454.8 L580.6,455.8 L580.8,456.7 L581.0,457.7 L581.1,458.6 L581.3,459.6 L581.4,460.5 L581.6,461.5 L581.7,462.5 L581.8,463.4 L582.0,464.4 L582.1,465.3 L582.2,466.3" fill="none" stroke="#c3eafb" stroke-width="1.5" stroke-dasharray="9 4 6 5" stroke-dashoffset="0" stroke-opacity="0.9"/>
<path d="M369.6,311.3 L370.6,311.2 L371.6,311.1 L372.6,311.0 L373.6,310.9 L374.6,310.8 L375.6,310.7 L376.5,310.7 L377.5,310.6 L378.5,310.5 L379.5,310.4 L380.5,310.4 L381.5,310.3 L382.5,310.3 L383.5,310.2 L384.5,310.1 L385.5,310.1 L386.5,310.1 L387.5,310.0 L388.5,310.0 L389.5,309.9 L390.5,309.9 L391.5,309.9 L392.5,309.9 L393.5,309.8 L394.5,309.8 L395.5,309.8 L396.5,309.8 L397.6,309.8 L398.6,309.8 L399.6,309.8 L400.6,309.8 L401.6,309.8 L402.6,309.8 L403.6,309.8 L404.6,309.9 L405.6,309.9 L406.6,309.9 L407.7,310.0 L408.7,310.0 L409.7,310.0 L410.7,310.1 L411.7,310.1 L412.7,310.2 L413.7,310.2 L414.7,310.3 L415.7,310.4 L416.8,310.4 L417.8,310.5 L418.8,310.6 L419.8,310.7 L420.8,310.7 L421.8,310.8 L422.8,310.9 L423.8,311.0 L424.8,311.1 L425.8,311.2 L426.8,311.3 L427.9,311.4 L428.9,311.6 L429.9,311.7 L430.9,311.8 L431.9,311.9 L432.9,312.1 L433.9,312.2 L434.9,312.3 L435.9,312.5 L436.9,312.6 L437.9,312.8 L438.9,312.9 L439.9,313.1 L440.9,313.3 L441.9,313.4 L442.9,313.6 L443.9,313.8 L444.9,314.0 L445.9,314.1 L446.9,314.3 L447.9,314.5 L448.8,314.7 L449.8,314.9 L450.8,315.1 L451.8,315.3 L452.8,315.5 L453.8,315.7 L454.8,315.9 L455.7,316.2 L456.7,316.4 L457.7,316.6 L458.7,316.9 L459.7,317.1 L460.6,317.4 L461.6,317.6 L462.6,317.9 L463.6,318.1 L464.5,318.4 L465.5,318.6 L466.5,318.9 L467.4,319.2 L468.4,319.5 L469.3,319.8 L470.3,320.1 L471.3,320.4 L472.2,320.7 L473.2,321.0 L474.1,321.3 L475.1,321.6 L476.0,321.9 L477.0,322.2 L477.9,322.6 L478.8,322.9 L479.8,323.2 L480.7,323.6 L481.6,323.9 L482.6,324.3 L483.5,324.6 L484.4,325.0 L485.4,325.4 L486.3,325.7 L487.2,326.1 L488.1,326.5 L489.0,326.9 L489.9,327.3 L490.9,327.7 L491.8,328.1 L492.7,328.5 L493.6,328.9 L494.5,329.3 L495.4,329.8 L496.2,330.2 L497.1,330.6 L498.0,331.1 L498.9,331.5 L499.8,331.9 L500.7,332.4 L501.5,332.9 L502.4,333.3 L503.3,333.8 L504.2,334.3 L505.0,334.8 L505.9,335.2 L506.7,335.7 L507.6,336.2 L508.4,336.7 L509.3,337.2 L510.1,337.7 L511.0,338.3 L511.8,338.8 L512.6,339.3 L513.5,339.9 L514.3,340.4 L515.1,340.9 L515.9,341.5 L516.8,342.0 L517.6,342.6 L518.4,343.2 L519.2,343.7 L520.0,344.3 L520.8,344.9 L521.6,345.5 L522.4,346.1 L523.1,346.7 L523.9,347.3 L524.7,347.9 L525.5,348.5 L526.2,349.1 L527.0,349.8 L527.8,350.4 L528.5,351.0 L529.3,351.7 L530.0,352.3 L530.8,353.0 L531.5,353.7 L532.2,354.3 L533.0,355.0 L533.7,355.7 L534.4,356.4 L535.1,357.0 L535.8,357.7 L536.6,358.4 L537.3,359.1 L538.0,359.8 L538.7,360.5 L539.3,361.3 L540.0,362.0 L540.7,362.7 L541.4,363.4 L542.1,364.2 L542.7,364.9 L543.4,365.7 L544.1,366.4 L544.7,367.2 L545.4,367.9 L546.0,368.7 L546.7,369.5 L547.3,370.2 L547.9,371.0 L548.6,371.8 L549.2,372.6 L549.8,373.4 L550.4,374.2 L551.0,375.0 L551.6,375.8 L552.2,376.6 L552.8,377.4 L553.4,378.2 L554.0,379.0 L554.6,379.8 L555.2,380.6 L555.7,381.5 L556.3,382.3 L556.9,383.1 L557.4,384.0 L558.0,384.8 L558.5,385.7 L559.1,386.5 L559.6,387.4 L560.2,388.2 L560.7,389.1 L561.2,389.9 L561.7,390.8 L562.3,391.7 L562.8,392.5 L563.3,393.4 L563.8,394.3 L564.3,395.2 L564.8,396.1 L565.3,397.0 L565.7,397.8 L566.2,398.7 L566.7,399.6 L567.2,400.5 L567.6,401.4 L568.1,402.3 L568.5,403.2 L569.0,404.1 L569.4,405.1 L569.9,406.0 L570.3,406.9 L570.7,407.8 L571.2,408.7 L571.6,409.7 L572.0,410.6 L572.4,411.5 L572.8,412.4 L573.2,413.4 L573.6,414.3 L574.0,415.2 L574.4,416.2 L574.8,417.1 L575.2,418.1 L575.5,419.0 L575.9,420.0 L576.2,420.9 L576.6,421.9 L577.0,422.8 L577.3,423.8 L577.6,424.7 L578.0,425.7 L578.3,426.6 L578.6,427.6 L578.9,428.5 L579.3,429.5 L579.6,430.5 L579.9,431.4 L580.2,432.4 L580.5,433.4 L580.8,434.3 L581.0,435.3 L581.3,436.3 L581.6,437.2 L581.9,438.2 L582.1,439.2 L582.4,440.2 L582.6,441.1 L582.9,442.1 L583.1,443.1 L583.4,444.1 L583.6,445.1 L583.8,446.0 L584.0,447.0 L584.3,448.0 L584.5,449.0 L584.7,450.0 L584.9,450.9 L585.1,451.9 L585.2,452.9 L585.4,453.9 L585.6,454.9 L585.8,455.9 L585.9,456.8 L586.1,457.8 L586.3,458.8 L586.4,459.8 L586.6,460.8 L586.7,461.8 L586.8,462.8 L587.0,463.7 L587.1,464.7 L587.2,465.7" fill="none" stroke="#c3eafb" stroke-width="1.5" stroke-dasharray="7 5 10 4" stroke-dashoffset="4" stroke-opacity="0.9"/>
<path d="M370.0,314.5 L371.0,314.4 L371.9,314.3 L372.9,314.2 L373.9,314.1 L374.9,314.0 L375.8,313.9 L376.8,313.8 L377.8,313.7 L378.8,313.7 L379.8,313.6 L380.7,313.5 L381.7,313.4 L382.7,313.4 L383.7,313.3 L384.7,313.2 L385.7,313.2 L386.7,313.1 L387.7,313.1 L388.6,313.0 L389.6,313.0 L390.6,312.9 L391.6,312.9 L392.6,312.9 L393.6,312.8 L394.6,312.8 L395.6,312.8 L396.6,312.8 L397.6,312.8 L398.6,312.8 L399.6,312.8 L400.6,312.7 L401.6,312.7 L402.6,312.8 L403.6,312.8 L404.6,312.8 L405.6,312.8 L406.6,312.8 L407.6,312.8 L408.6,312.9 L409.6,312.9 L410.6,312.9 L411.6,313.0 L412.6,313.0 L413.6,313.0 L414.6,313.1 L415.6,313.1 L416.6,313.2 L417.6,313.3 L418.6,313.3 L419.6,313.4 L420.6,313.5 L421.6,313.6 L422.6,313.6 L423.6,313.7 L424.6,313.8 L425.6,313.9 L426.6,314.0 L427.6,314.1 L428.6,314.2 L429.6,314.3 L430.6,314.4 L431.6,314.5 L432.6,314.7 L433.6,314.8 L434.5,314.9 L435.5,315.1 L436.5,315.2 L437.5,315.3 L438.5,315.5 L439.5,315.6 L440.5,315.8 L441.5,315.9 L442.5,316.1 L443.4,316.3 L444.4,316.5 L445.4,316.6 L446.4,316.8 L447.4,317.0 L448.4,317.2 L449.3,317.4 L450.3,317.6 L451.3,317.8 L452.3,318.0 L453.2,318.2 L454.2,318.4 L455.2,318.6 L456.2,318.9 L457.1,319.1 L458.1,319.3 L459.1,319.6 L460.0,319.8 L461.0,320.0 L461.9,320.3 L462.9,320.5 L463.9,320.8 L464.8,321.1 L465.8,321.3 L466.7,321.6 L467.7,321.9 L468.6,322.2 L469.6,322.5 L470.5,322.8 L471.5,323.1 L472.4,323.4 L473.3,323.7 L474.3,324.0 L475.2,324.3 L476.1,324.6 L477.1,324.9 L478.0,325.3 L478.9,325.6 L479.8,325.9 L480.8,326.3 L481.7,326.6 L482.6,327.0 L483.5,327.3 L484.4,327.7 L485.3,328.1 L486.2,328.4 L487.1,328.8 L488.0,329.2 L488.9,329.6 L489.8,330.0 L490.7,330.4 L491.6,330.8 L492.5,331.2 L493.4,331.6 L494.3,332.0 L495.2,332.4 L496.0,332.9 L496.9,333.3 L497.8,333.7 L498.6,334.2 L499.5,334.6 L500.4,335.1 L501.2,335.5 L502.1,336.0 L502.9,336.5 L503.8,337.0 L504.6,337.4 L505.5,337.9 L506.3,338.4 L507.1,338.9 L508.0,339.4 L508.8,339.9 L509.6,340.4 L510.5,340.9 L511.3,341.4 L512.1,342.0 L512.9,342.5 L513.7,343.0 L514.5,343.6 L515.3,344.1 L516.1,344.7 L516.9,345.2 L517.7,345.8 L518.5,346.4 L519.3,346.9 L520.1,347.5 L520.8,348.1 L521.6,348.7 L522.4,349.3 L523.1,349.9 L523.9,350.5 L524.6,351.1 L525.4,351.7 L526.1,352.3 L526.9,353.0 L527.6,353.6 L528.4,354.2 L529.1,354.9 L529.8,355.5 L530.5,356.2 L531.3,356.8 L532.0,357.5 L532.7,358.2 L533.4,358.9 L534.1,359.5 L534.8,360.2 L535.5,360.9 L536.2,361.6 L536.8,362.3 L537.5,363.0 L538.2,363.7 L538.9,364.4 L539.5,365.2 L540.2,365.9 L540.9,366.6 L541.5,367.3 L542.2,368.1 L542.8,368.8 L543.5,369.6 L544.1,370.3 L544.7,371.1 L545.4,371.8 L546.0,372.6 L546.6,373.4 L547.2,374.1 L547.8,374.9 L548.4,375.7 L549.0,376.5 L549.6,377.3 L550.2,378.1 L550.8,378.9 L551.4,379.7 L552.0,380.5 L552.5,381.3 L553.1,382.1 L553.7,382.9 L554.2,383.7 L554.8,384.5 L555.3,385.4 L555.9,386.2 L556.4,387.0 L557.0,387.9 L557.5,388.7 L558.0,389.5 L558.6,390.4 L559.1,391.2 L559.6,392.1 L560.1,393.0 L560.6,393.8 L561.1,394.7 L561.6,395.5 L562.1,396.4 L562.6,397.3 L563.1,398.2 L563.5,399.0 L564.0,399.9 L564.5,400.8 L564.9,401.7 L565.4,402.6 L565.8,403.5 L566.3,404.4 L566.7,405.3 L567.2,406.2 L567.6,407.1 L568.0,408.0 L568.5,408.9 L568.9,409.8 L569.3,410.7 L569.7,411.6 L570.1,412.5 L570.5,413.4 L570.9,414.4 L571.3,415.3 L571.7,416.2 L572.1,417.1 L572.4,418.1 L572.8,419.0 L573.2,419.9 L573.5,420.9 L573.9,421.8 L574.2,422.7 L574.6,423.7 L574.9,424.6 L575.3,425.5 L575.6,426.5 L575.9,427.4 L576.2,428.4 L576.6,429.3 L576.9,430.3 L577.2,431.2 L577.5,432.2 L577.8,433.1 L578.1,434.1 L578.3,435.1 L578.6,436.0 L578.9,437.0 L579.2,437.9 L579.4,438.9 L579.7,439.8 L579.9,440.8 L580.2,441.8 L580.4,442.7 L580.7,443.7 L580.9,444.7 L581.1,445.6 L581.4,446.6 L581.6,447.6 L581.8,448.5 L582.0,449.5 L582.2,450.5 L582.4,451.4 L582.6,452.4 L582.8,453.4 L583.0,454.3 L583.1,455.3 L583.3,456.3 L583.5,457.3 L583.6,458.2 L583.8,459.2 L583.9,460.2 L584.1,461.1 L584.2,462.1 L584.3,463.1 L584.5,464.1 L584.6,465.0 L584.7,466.0" fill="none" stroke="#ffffff" stroke-width="1.2" stroke-dasharray="4 7 6 6" stroke-dashoffset="2" stroke-opacity="0.9"/>
<path d="M370.5,319.3 L371.5,319.2 L372.5,319.1 L373.4,319.0 L374.4,318.9 L375.3,318.8 L376.3,318.7 L377.2,318.6 L378.2,318.5 L379.2,318.4 L380.1,318.3 L381.1,318.2 L382.1,318.1 L383.0,318.0 L384.0,317.9 L385.0,317.9 L385.9,317.8 L386.9,317.7 L387.9,317.7 L388.8,317.6 L389.8,317.6 L390.8,317.5 L391.8,317.5 L392.8,317.4 L393.7,317.4 L394.7,317.3 L395.7,317.3 L396.7,317.3 L397.6,317.2 L398.6,317.2 L399.6,317.2 L400.6,317.2 L401.6,317.1 L402.6,317.1 L403.5,317.1 L404.5,317.1 L405.5,317.1 L406.5,317.1 L407.5,317.1 L408.5,317.2 L409.4,317.2 L410.4,317.2 L411.4,317.2 L412.4,317.2 L413.4,317.3 L414.4,317.3 L415.4,317.3 L416.3,317.4 L417.3,317.4 L418.3,317.5 L419.3,317.5 L420.3,317.6 L421.3,317.6 L422.2,317.7 L423.2,317.8 L424.2,317.9 L425.2,317.9 L426.2,318.0 L427.2,318.1 L428.1,318.2 L429.1,318.3 L430.1,318.4 L431.1,318.5 L432.1,318.6 L433.1,318.7 L434.0,318.8 L435.0,318.9 L436.0,319.0 L437.0,319.2 L437.9,319.3 L438.9,319.4 L439.9,319.6 L440.9,319.7 L441.8,319.9 L442.8,320.0 L443.8,320.2 L444.7,320.3 L445.7,320.5 L446.7,320.7 L447.6,320.9 L448.6,321.1 L449.6,321.3 L450.5,321.5 L451.5,321.7 L452.4,321.9 L453.4,322.1 L454.3,322.3 L455.3,322.5 L456.2,322.8 L457.2,323.0 L458.1,323.2 L459.1,323.5 L460.0,323.7 L461.0,323.9 L461.9,324.2 L462.9,324.5 L463.8,324.7 L464.7,325.0 L465.7,325.2 L466.6,325.5 L467.5,325.8 L468.5,326.1 L469.4,326.4 L470.3,326.7 L471.2,327.0 L472.1,327.3 L473.1,327.6 L474.0,327.9 L474.9,328.2 L475.8,328.5 L476.7,328.8 L477.6,329.1 L478.5,329.5 L479.4,329.8 L480.3,330.2 L481.2,330.5 L482.1,330.9 L483.0,331.2 L483.9,331.6 L484.8,331.9 L485.7,332.3 L486.6,332.7 L487.4,333.1 L488.3,333.4 L489.2,333.8 L490.0,334.2 L490.9,334.6 L491.8,335.0 L492.6,335.4 L493.5,335.9 L494.4,336.3 L495.2,336.7 L496.1,337.1 L496.9,337.6 L497.8,338.0 L498.6,338.4 L499.4,338.9 L500.3,339.3 L501.1,339.8 L501.9,340.2 L502.8,340.7 L503.6,341.2 L504.4,341.7 L505.2,342.1 L506.0,342.6 L506.8,343.1 L507.6,343.6 L508.4,344.1 L509.2,344.6 L510.0,345.1 L510.8,345.7 L511.6,346.2 L512.4,346.7 L513.2,347.2 L514.0,347.8 L514.7,348.3 L515.5,348.9 L516.3,349.4 L517.0,350.0 L517.8,350.5 L518.5,351.1 L519.3,351.7 L520.0,352.3 L520.8,352.8 L521.5,353.4 L522.3,354.0 L523.0,354.6 L523.7,355.2 L524.4,355.8 L525.2,356.5 L525.9,357.1 L526.6,357.7 L527.3,358.3 L528.0,359.0 L528.7,359.6 L529.4,360.3 L530.1,360.9 L530.8,361.6 L531.4,362.2 L532.1,362.9 L532.8,363.6 L533.5,364.3 L534.1,364.9 L534.8,365.6 L535.5,366.3 L536.1,367.0 L536.8,367.7 L537.4,368.4 L538.1,369.1 L538.7,369.8 L539.3,370.6 L540.0,371.3 L540.6,372.0 L541.2,372.8 L541.8,373.5 L542.4,374.2 L543.0,375.0 L543.6,375.7 L544.2,376.5 L544.8,377.2 L545.4,378.0 L546.0,378.8 L546.6,379.5 L547.2,380.3 L547.8,381.1 L548.3,381.9 L548.9,382.7 L549.4,383.4 L550.0,384.2 L550.6,385.0 L551.1,385.8 L551.6,386.6 L552.2,387.5 L552.7,388.3 L553.3,389.1 L553.8,389.9 L554.3,390.7 L554.8,391.5 L555.3,392.4 L555.8,393.2 L556.3,394.0 L556.8,394.9 L557.3,395.7 L557.8,396.6 L558.3,397.4 L558.8,398.3 L559.3,399.1 L559.7,400.0 L560.2,400.8 L560.7,401.7 L561.1,402.6 L561.6,403.4 L562.0,404.3 L562.5,405.2 L562.9,406.0 L563.3,406.9 L563.8,407.8 L564.2,408.7 L564.6,409.6 L565.0,410.5 L565.4,411.4 L565.9,412.2 L566.3,413.1 L566.7,414.0 L567.0,414.9 L567.4,415.8 L567.8,416.7 L568.2,417.6 L568.6,418.6 L568.9,419.5 L569.3,420.4 L569.7,421.3 L570.0,422.2 L570.4,423.1 L570.7,424.0 L571.0,425.0 L571.4,425.9 L571.7,426.8 L572.0,427.7 L572.3,428.7 L572.7,429.6 L573.0,430.5 L573.3,431.4 L573.6,432.4 L573.9,433.3 L574.2,434.2 L574.4,435.2 L574.7,436.1 L575.0,437.1 L575.3,438.0 L575.5,438.9 L575.8,439.9 L576.0,440.8 L576.3,441.8 L576.5,442.7 L576.8,443.7 L577.0,444.6 L577.2,445.5 L577.5,446.5 L577.7,447.4 L577.9,448.4 L578.1,449.3 L578.3,450.3 L578.5,451.2 L578.7,452.2 L578.9,453.1 L579.1,454.1 L579.2,455.0 L579.4,456.0 L579.6,456.9 L579.7,457.9 L579.9,458.8 L580.0,459.8 L580.2,460.7 L580.3,461.7 L580.5,462.6 L580.6,463.6 L580.7,464.5 L580.8,465.5 L580.9,466.4" fill="none" stroke="#6fbfec" stroke-width="1.1" stroke-dasharray="5 6 8 4" stroke-dashoffset="7" stroke-opacity="0.9"/>
<path d="M369.5,309.7 L370.4,309.6 L371.4,309.5 L372.4,309.4 L373.4,309.3 L374.4,309.2 L375.4,309.2 L376.4,309.1 L377.4,309.0 L378.4,308.9 L379.4,308.9 L380.4,308.8 L381.4,308.8 L382.4,308.7 L383.4,308.6 L384.4,308.6 L385.4,308.6 L386.4,308.5 L387.4,308.5 L388.4,308.4 L389.4,308.4 L390.5,308.4 L391.5,308.4 L392.5,308.4 L393.5,308.3 L394.5,308.3 L395.5,308.3 L396.5,308.3 L397.5,308.3 L398.5,308.3 L399.6,308.3 L400.6,308.3 L401.6,308.4 L402.6,308.4 L403.6,308.4 L404.6,308.4 L405.7,308.4 L406.7,308.5 L407.7,308.5 L408.7,308.6 L409.7,308.6 L410.7,308.7 L411.8,308.7 L412.8,308.8 L413.8,308.8 L414.8,308.9 L415.8,309.0 L416.8,309.0 L417.8,309.1 L418.9,309.2 L419.9,309.3 L420.9,309.4 L421.9,309.5 L422.9,309.6 L423.9,309.7 L425.0,309.8 L426.0,309.9 L427.0,310.0 L428.0,310.1 L429.0,310.2 L430.0,310.4 L431.0,310.5 L432.0,310.6 L433.0,310.8 L434.1,310.9 L435.1,311.0 L436.1,311.2 L437.1,311.3 L438.1,311.5 L439.1,311.7 L440.1,311.8 L441.1,312.0 L442.1,312.2 L443.1,312.4 L444.1,312.6 L445.1,312.7 L446.1,312.9 L447.1,313.1 L448.1,313.3 L449.1,313.5 L450.1,313.7 L451.1,313.9 L452.1,314.1 L453.1,314.3 L454.1,314.5 L455.0,314.7 L456.0,314.9 L457.0,315.2 L458.0,315.4 L459.0,315.6 L460.0,315.9 L460.9,316.1 L461.9,316.4 L462.9,316.6 L463.9,316.9 L464.9,317.2 L465.8,317.4 L466.8,317.7 L467.8,318.0 L468.7,318.3 L469.7,318.6 L470.7,318.9 L471.6,319.1 L472.6,319.5 L473.6,319.8 L474.5,320.1 L475.5,320.4 L476.4,320.7 L477.4,321.0 L478.3,321.4 L479.3,321.7 L480.2,322.0 L481.2,322.4 L482.1,322.7 L483.0,323.1 L484.0,323.5 L484.9,323.8 L485.8,324.2 L486.8,324.6 L487.7,325.0 L488.6,325.3 L489.5,325.7 L490.4,326.1 L491.4,326.5 L492.3,326.9 L493.2,327.3 L494.1,327.8 L495.0,328.2 L495.9,328.6 L496.8,329.0 L497.7,329.5 L498.6,329.9 L499.5,330.4 L500.4,330.8 L501.3,331.3 L502.1,331.7 L503.0,332.2 L503.9,332.7 L504.8,333.2 L505.6,333.7 L506.5,334.1 L507.4,334.6 L508.2,335.1 L509.1,335.6 L509.9,336.2 L510.8,336.7 L511.6,337.2 L512.5,337.7 L513.3,338.3 L514.2,338.8 L515.0,339.3 L515.8,339.9 L516.6,340.4 L517.5,341.0 L518.3,341.6 L519.1,342.1 L519.9,342.7 L520.7,343.3 L521.5,343.9 L522.3,344.5 L523.1,345.1 L523.9,345.7 L524.7,346.3 L525.5,346.9 L526.3,347.5 L527.0,348.2 L527.8,348.8 L528.6,349.4 L529.3,350.1 L530.1,350.7 L530.9,351.4 L531.6,352.1 L532.3,352.7 L533.1,353.4 L533.8,354.1 L534.6,354.8 L535.3,355.4 L536.0,356.1 L536.7,356.8 L537.4,357.5 L538.2,358.2 L538.9,359.0 L539.6,359.7 L540.3,360.4 L541.0,361.1 L541.6,361.9 L542.3,362.6 L543.0,363.3 L543.7,364.1 L544.3,364.8 L545.0,365.6 L545.7,366.3 L546.3,367.1 L547.0,367.9 L547.6,368.7 L548.3,369.4 L548.9,370.2 L549.5,371.0 L550.2,371.8 L550.8,372.6 L551.4,373.4 L552.0,374.2 L552.6,375.0 L553.2,375.8 L553.8,376.6 L554.4,377.4 L555.0,378.3 L555.6,379.1 L556.2,379.9 L556.8,380.8 L557.4,381.6 L557.9,382.4 L558.5,383.3 L559.0,384.1 L559.6,385.0 L560.2,385.8 L560.7,386.7 L561.2,387.6 L561.8,388.4 L562.3,389.3 L562.8,390.2 L563.3,391.0 L563.9,391.9 L564.4,392.8 L564.9,393.7 L565.4,394.6 L565.9,395.5 L566.4,396.3 L566.9,397.2 L567.3,398.1 L567.8,399.0 L568.3,399.9 L568.8,400.9 L569.2,401.8 L569.7,402.7 L570.1,403.6 L570.6,404.5 L571.0,405.4 L571.5,406.4 L571.9,407.3 L572.3,408.2 L572.7,409.1 L573.2,410.1 L573.6,411.0 L574.0,411.9 L574.4,412.9 L574.8,413.8 L575.2,414.8 L575.6,415.7 L575.9,416.7 L576.3,417.6 L576.7,418.5 L577.1,419.5 L577.4,420.5 L577.8,421.4 L578.1,422.4 L578.5,423.3 L578.8,424.3 L579.2,425.3 L579.5,426.2 L579.8,427.2 L580.1,428.1 L580.5,429.1 L580.8,430.1 L581.1,431.1 L581.4,432.0 L581.7,433.0 L582.0,434.0 L582.3,435.0 L582.5,435.9 L582.8,436.9 L583.1,437.9 L583.3,438.9 L583.6,439.9 L583.9,440.8 L584.1,441.8 L584.3,442.8 L584.6,443.8 L584.8,444.8 L585.0,445.8 L585.3,446.7 L585.5,447.7 L585.7,448.7 L585.9,449.7 L586.1,450.7 L586.3,451.7 L586.5,452.7 L586.7,453.7 L586.8,454.7 L587.0,455.6 L587.2,456.6 L587.4,457.6 L587.5,458.6 L587.7,459.6 L587.8,460.6 L587.9,461.6 L588.1,462.6 L588.2,463.6 L588.3,464.6 L588.5,465.6" fill="none" stroke="#6fbfec" stroke-width="1.1" stroke-dasharray="6 5 4 7" stroke-dashoffset="1" stroke-opacity="0.9"/>
<path d="M368.9,408.7 L369.9,408.8 L370.9,409.0 L371.9,409.1 L373.0,409.2 L374.0,409.4 L375.0,409.5 L376.1,409.6 L377.1,409.8 L378.1,409.9 L379.2,410.0 L380.2,410.1 L381.3,410.2 L382.3,410.3 L383.3,410.4 L384.4,410.5 L385.4,410.6 L386.4,410.6 L387.5,410.7 L388.5,410.8 L389.6,410.9 L390.6,410.9 L391.6,411.0 L392.7,411.0 L393.7,411.1 L394.8,411.1 L395.8,411.2 L396.8,411.2 L397.9,411.3 L398.9,411.3 L400.0,411.3 L401.0,411.4 L402.0,411.4 L403.1,411.4 L404.1,411.4 L405.2,411.4 L406.2,411.4 L407.3,411.5 L408.3,411.5 L409.4,411.5 L410.4,411.5 L411.4,411.5 L412.5,411.4 L413.5,411.4 L414.6,411.4 L415.6,411.4 L416.7,411.4 L417.7,411.4 L418.8,411.3 L419.8,411.3 L420.9,411.3 L421.9,411.3 L423.0,411.2 L424.0,411.2 L425.0,411.2 L426.1,411.1 L427.1,411.1 L428.2,411.0 L429.2,411.0 L430.3,410.9 L431.3,410.9 L432.4,410.8 L433.4,410.8 L434.5,410.7 L435.5,410.7 L436.6,410.6 L437.6,410.5 L438.7,410.5 L439.7,410.4 L440.8,410.4 L441.8,410.3 L442.9,410.2 L443.9,410.2 L445.0,410.1 L446.0,410.0 L447.1,409.9 L448.1,409.9 L449.2,409.8 L450.2,409.8 L451.3,409.7 L452.3,409.7 L453.4,409.6 L454.4,409.5 L455.5,409.5 L456.5,409.4 L457.6,409.4 L458.6,409.3 L459.7,409.2 L460.7,409.2 L461.8,409.1 L462.8,409.0 L463.9,409.0 L464.9,408.9 L466.0,408.8 L467.0,408.8 L468.1,408.7 L469.1,408.7 L470.2,408.6 L471.2,408.5 L472.3,408.5 L473.3,408.4 L474.4,408.3 L475.4,408.3 L476.5,408.2 L477.5,408.1 L478.6,408.1 L479.6,408.0 L480.7,407.9 L481.7,407.9 L482.8,407.8 L483.8,407.8 L484.9,407.7 L485.9,407.6 L487.0,407.6 L488.0,407.5 L489.1,407.5 L490.1,407.4 L491.2,407.4 L492.2,407.3 L493.2,407.2 L494.3,407.2 L495.3,407.1 L496.4,407.1 L497.4,407.0 L498.5,407.0 L499.5,406.9 L500.6,406.9 L501.6,406.9 L502.6,406.8 L503.7,406.8 L504.7,406.7 L505.8,406.7 L506.8,406.7 L507.8,406.6 L508.9,406.6 L509.9,406.6 L511.0,406.5 L512.0,406.5 L513.0,406.5 L514.1,406.5 L515.1,406.4 L516.2,406.4 L517.2,406.4 L518.2,406.4 L519.3,406.4 L520.3,406.4 L521.3,406.4 L522.4,406.4 L523.4,406.4 L524.4,406.4 L525.5,406.4 L526.5,406.4 L527.5,406.4 L528.6,406.4 L529.6,406.4 L530.6,406.4 L531.6,406.5 L532.7,406.5 L533.7,406.5 L534.7,406.5 L535.7,406.6 L536.8,406.6 L537.8,406.6 L538.8,406.7 L539.8,406.7 L540.9,406.8 L541.9,406.8 L542.9,406.9 L543.9,406.9 L544.9,407.0 L546.0,407.1 L547.0,407.1 L548.0,407.2 L549.0,407.3 L550.0,407.4 L551.0,407.4 L552.0,407.5 L553.1,407.6 L554.1,407.7 L555.1,407.8 L556.1,407.9 L557.1,408.0 L558.1,408.1 L559.1,408.2 L560.1,408.4 L561.1,408.5 L562.1,408.6 L563.1,408.7 L564.1,408.9 L565.1,409.0 L566.1,409.2 L567.1,409.3 L568.1,409.5 L569.1,409.6 L570.1,409.8 L571.1,410.0 L572.1,410.1 L573.1,410.3 L574.1,410.5 L575.1,410.7 L576.1,410.9 L577.1,411.1 L578.0,411.3 L579.0,411.5 L580.0,411.7 L581.0,411.9 L581.9,412.1 L582.9,412.4 L583.9,412.6 L584.8,412.9 L585.8,413.1 L586.8,413.4 L587.7,413.6 L588.7,413.9 L589.6,414.1 L590.6,414.4 L591.5,414.7 L592.4,415.0 L593.4,415.3 L594.3,415.6 L595.2,415.9 L596.1,416.2 L597.1,416.5 L598.0,416.9 L598.9,417.2 L599.8,417.6 L600.7,417.9 L601.6,418.3 L602.4,418.6 L603.3,419.0 L604.2,419.4 L605.1,419.8 L605.9,420.2 L606.8,420.6 L607.6,421.0 L608.5,421.4 L609.3,421.8 L610.2,422.2 L611.0,422.7 L611.8,423.1 L612.6,423.6 L613.4,424.0 L614.2,424.5 L615.0,425.0 L615.8,425.5 L616.6,426.0 L617.4,426.5 L618.1,427.0 L618.9,427.5 L619.7,428.0 L620.4,428.6 L621.1,429.1 L621.9,429.7 L622.6,430.2 L623.3,430.8 L624.0,431.4 L624.7,432.0 L625.4,432.6 L626.1,433.2 L626.8,433.8 L627.4,434.4 L628.1,435.0 L628.7,435.7 L629.4,436.3 L630.0,437.0 L630.7,437.7 L631.3,438.4 L631.9,439.1 L632.5,439.8 L633.1,440.5 L633.7,441.2 L634.2,441.9 L634.8,442.7 L635.3,443.4 L635.9,444.2 L636.4,445.0 L637.0,445.8 L637.5,446.6 L638.0,447.4 L638.5,448.2 L639.0,449.0 L639.5,449.9 L639.9,450.8 L640.4,451.6 L640.8,452.5 L641.3,453.4 L641.7,454.3 L642.1,455.2 L642.5,456.2 L642.9,457.1 L643.3,458.1 L643.7,459.0 L644.1,460.0 L644.4,461.0 L644.8,462.0 L645.1,463.1 L645.4,464.1 L645.7,465.2 L646.0,466.2 L646.3,467.4 L656.5,464.7 L656.2,463.5 L655.8,462.3 L655.5,461.1 L655.1,459.9 L654.7,458.7 L654.3,457.6 L653.9,456.4 L653.5,455.3 L653.1,454.2 L652.6,453.1 L652.2,452.0 L651.7,451.0 L651.2,449.9 L650.7,448.8 L650.2,447.8 L649.7,446.8 L649.2,445.8 L648.6,444.8 L648.1,443.8 L647.5,442.8 L646.9,441.9 L646.3,440.9 L645.7,440.0 L645.1,439.1 L644.5,438.2 L643.9,437.3 L643.2,436.4 L642.6,435.5 L641.9,434.7 L641.2,433.8 L640.5,433.0 L639.8,432.2 L639.1,431.4 L638.4,430.6 L637.7,429.8 L636.9,429.0 L636.2,428.3 L635.4,427.5 L634.7,426.8 L633.9,426.1 L633.1,425.4 L632.3,424.7 L631.5,424.0 L630.7,423.3 L629.9,422.6 L629.1,422.0 L628.3,421.3 L627.4,420.7 L626.6,420.1 L625.7,419.5 L624.9,418.9 L624.0,418.3 L623.1,417.7 L622.3,417.1 L621.4,416.6 L620.5,416.0 L619.6,415.5 L618.7,414.9 L617.8,414.4 L616.9,413.9 L616.0,413.4 L615.0,412.9 L614.1,412.4 L613.2,412.0 L612.2,411.5 L611.3,411.1 L610.3,410.6 L609.4,410.2 L608.4,409.8 L607.5,409.3 L606.5,408.9 L605.5,408.5 L604.5,408.1 L603.6,407.8 L602.6,407.4 L601.6,407.0 L600.6,406.7 L599.6,406.3 L598.6,406.0 L597.6,405.6 L596.6,405.3 L595.6,405.0 L594.6,404.7 L593.6,404.4 L592.5,404.1 L591.5,403.8 L590.5,403.5 L589.5,403.2 L588.5,402.9 L587.4,402.7 L586.4,402.4 L585.4,402.2 L584.3,401.9 L583.3,401.7 L582.3,401.4 L581.2,401.2 L580.2,401.0 L579.2,400.8 L578.1,400.6 L577.1,400.4 L576.0,400.2 L575.0,400.0 L573.9,399.8 L572.9,399.6 L571.8,399.4 L570.8,399.3 L569.8,399.1 L568.7,398.9 L567.7,398.8 L566.6,398.6 L565.6,398.5 L564.5,398.3 L563.5,398.2 L562.4,398.1 L561.4,397.9 L560.3,397.8 L559.3,397.7 L558.2,397.6 L557.2,397.5 L556.1,397.4 L555.1,397.3 L554.0,397.2 L553.0,397.1 L551.9,397.0 L550.9,396.9 L549.8,396.8 L548.7,396.7 L547.7,396.6 L546.6,396.6 L545.6,396.5 L544.5,396.4 L543.5,396.4 L542.4,396.3 L541.4,396.3 L540.3,396.2 L539.3,396.2 L538.2,396.1 L537.1,396.1 L536.1,396.1 L535.0,396.0 L534.0,396.0 L532.9,396.0 L531.9,396.0 L530.8,395.9 L529.7,395.9 L528.7,395.9 L527.6,395.9 L526.6,395.9 L525.5,395.9 L524.5,395.9 L523.4,395.9 L522.3,395.9 L521.3,395.9 L520.2,395.9 L519.2,395.9 L518.1,395.9 L517.0,395.9 L516.0,395.9 L514.9,396.0 L513.9,396.0 L512.8,396.0 L511.8,396.0 L510.7,396.0 L509.6,396.1 L508.6,396.1 L507.5,396.1 L506.5,396.2 L505.4,396.2 L504.3,396.2 L503.3,396.3 L502.2,396.3 L501.2,396.4 L500.1,396.4 L499.1,396.5 L498.0,396.5 L496.9,396.6 L495.9,396.6 L494.8,396.7 L493.8,396.7 L492.7,396.8 L491.7,396.8 L490.6,396.9 L489.5,396.9 L488.5,397.0 L487.4,397.0 L486.4,397.1 L485.3,397.2 L484.3,397.2 L483.2,397.3 L482.2,397.3 L481.1,397.4 L480.1,397.5 L479.0,397.5 L477.9,397.6 L476.9,397.7 L475.8,397.7 L474.8,397.8 L473.7,397.8 L472.7,397.9 L471.6,398.0 L470.6,398.0 L469.5,398.1 L468.5,398.2 L467.4,398.2 L466.4,398.3 L465.3,398.4 L464.3,398.4 L463.2,398.5 L462.2,398.6 L461.1,398.6 L460.1,398.7 L459.1,398.7 L458.0,398.8 L457.0,398.9 L455.9,398.9 L454.9,399.0 L453.8,399.1 L452.8,399.1 L451.7,399.2 L450.7,399.2 L449.7,399.3 L448.6,399.3 L447.6,399.4 L446.5,399.4 L445.5,399.5 L444.5,399.5 L443.4,399.5 L442.4,399.6 L441.3,399.6 L440.3,399.6 L439.3,399.6 L438.2,399.7 L437.2,399.7 L436.2,399.7 L435.1,399.7 L434.1,399.7 L433.1,399.7 L432.0,399.8 L431.0,399.8 L430.0,399.8 L429.0,399.8 L427.9,399.8 L426.9,399.8 L425.9,399.8 L424.8,399.8 L423.8,399.8 L422.8,399.8 L421.8,399.8 L420.8,399.8 L419.7,399.8 L418.7,399.7 L417.7,399.7 L416.7,399.7 L415.7,399.7 L414.6,399.7 L413.6,399.6 L412.6,399.6 L411.6,399.6 L410.6,399.5 L409.6,399.5 L408.6,399.5 L407.6,399.4 L406.6,399.4 L405.6,399.3 L404.6,399.3 L403.5,399.2 L402.5,399.2 L401.5,399.1 L400.5,399.0 L399.5,399.0 L398.5,398.9 L397.6,398.8 L396.6,398.7 L395.6,398.7 L394.6,398.6 L393.6,398.5 L392.6,398.4 L391.6,398.3 L390.6,398.2 L389.6,398.1 L388.6,398.0 L387.7,397.9 L386.7,397.8 L385.7,397.6 L384.7,397.5 L383.7,397.4 L382.8,397.3 L381.8,397.1 L380.8,397.0 L379.8,396.8 L378.9,396.7 L377.9,396.5 L376.9,396.4 L376.0,396.2 L375.0,396.1 L374.0,395.9 L373.1,395.7 L372.1,395.5 L371.1,395.3 Z" fill="#7cc5ee"/>
<path d="M369.1,407.5 L370.1,407.6 L371.1,407.8 L372.1,407.9 L373.2,408.1 L374.2,408.2 L375.2,408.3 L376.2,408.4 L377.3,408.6 L378.3,408.7 L379.3,408.8 L380.4,408.9 L381.4,409.0 L382.4,409.1 L383.5,409.2 L384.5,409.3 L385.5,409.4 L386.6,409.4 L387.6,409.5 L388.6,409.6 L389.7,409.7 L390.7,409.7 L391.7,409.8 L392.8,409.8 L393.8,409.9 L394.8,409.9 L395.9,410.0 L396.9,410.0 L397.9,410.1 L399.0,410.1 L400.0,410.1 L401.1,410.2 L402.1,410.2 L403.1,410.2 L404.2,410.2 L405.2,410.2 L406.3,410.2 L407.3,410.3 L408.3,410.3 L409.4,410.3 L410.4,410.3 L411.5,410.3 L412.5,410.2 L413.5,410.2 L414.6,410.2 L415.6,410.2 L416.7,410.2 L417.7,410.2 L418.8,410.1 L419.8,410.1 L420.8,410.1 L421.9,410.1 L422.9,410.0 L424.0,410.0 L425.0,410.0 L426.1,409.9 L427.1,409.9 L428.2,409.8 L429.2,409.8 L430.3,409.7 L431.3,409.7 L432.3,409.6 L433.4,409.6 L434.4,409.5 L435.5,409.5 L436.5,409.4 L437.6,409.4 L438.6,409.3 L439.7,409.2 L440.7,409.2 L441.8,409.1 L442.8,409.0 L443.9,409.0 L444.9,408.9 L446.0,408.8 L447.0,408.7 L448.1,408.7 L449.1,408.6 L450.2,408.6 L451.2,408.5 L452.3,408.5 L453.3,408.4 L454.4,408.3 L455.4,408.3 L456.5,408.2 L457.5,408.2 L458.6,408.1 L459.6,408.0 L460.7,408.0 L461.7,407.9 L462.8,407.8 L463.8,407.8 L464.9,407.7 L465.9,407.6 L467.0,407.6 L468.0,407.5 L469.1,407.5 L470.1,407.4 L471.2,407.3 L472.2,407.3 L473.3,407.2 L474.3,407.1 L475.4,407.1 L476.4,407.0 L477.5,406.9 L478.5,406.9 L479.6,406.8 L480.6,406.7 L481.7,406.7 L482.7,406.6 L483.8,406.6 L484.8,406.5 L485.9,406.4 L486.9,406.4 L487.9,406.3 L489.0,406.3 L490.0,406.2 L491.1,406.2 L492.1,406.1 L493.2,406.0 L494.2,406.0 L495.3,405.9 L496.3,405.9 L497.4,405.8 L498.4,405.8 L499.5,405.7 L500.5,405.7 L501.6,405.7 L502.6,405.6 L503.6,405.6 L504.7,405.5 L505.7,405.5 L506.8,405.5 L507.8,405.4 L508.9,405.4 L509.9,405.4 L510.9,405.3 L512.0,405.3 L513.0,405.3 L514.1,405.3 L515.1,405.2 L516.1,405.2 L517.2,405.2 L518.2,405.2 L519.3,405.2 L520.3,405.2 L521.3,405.2 L522.4,405.2 L523.4,405.2 L524.4,405.2 L525.5,405.2 L526.5,405.2 L527.5,405.2 L528.6,405.2 L529.6,405.2 L530.6,405.2 L531.7,405.3 L532.7,405.3 L533.7,405.3 L534.8,405.3 L535.8,405.4 L536.8,405.4 L537.8,405.4 L538.9,405.5 L539.9,405.5 L540.9,405.6 L541.9,405.6 L543.0,405.7 L544.0,405.7 L545.0,405.8 L546.0,405.9 L547.1,405.9 L548.1,406.0 L549.1,406.1 L550.1,406.2 L551.1,406.2 L552.1,406.3 L553.2,406.4 L554.2,406.5 L555.2,406.6 L556.2,406.7 L557.2,406.8 L558.2,406.9 L559.2,407.0 L560.3,407.2 L561.3,407.3 L562.3,407.4 L563.3,407.6 L564.3,407.7 L565.3,407.8 L566.3,408.0 L567.3,408.1 L568.3,408.3 L569.3,408.4 L570.3,408.6 L571.3,408.8 L572.3,409.0 L573.3,409.1 L574.3,409.3 L575.3,409.5 L576.3,409.7 L577.3,409.9 L578.3,410.1 L579.3,410.3 L580.3,410.5 L581.2,410.7 L582.2,411.0 L583.2,411.2 L584.2,411.4 L585.1,411.7 L586.1,411.9 L587.1,412.2 L588.0,412.5 L589.0,412.7 L590.0,413.0 L590.9,413.3 L591.9,413.6 L592.8,413.9 L593.7,414.2 L594.7,414.5 L595.6,414.8 L596.5,415.1 L597.5,415.4 L598.4,415.8 L599.3,416.1 L600.2,416.4 L601.1,416.8 L602.0,417.2 L602.9,417.5 L603.8,417.9 L604.7,418.3 L605.6,418.7 L606.4,419.1 L607.3,419.5 L608.2,419.9 L609.0,420.3 L609.9,420.7 L610.7,421.2 L611.6,421.6 L612.4,422.1 L613.2,422.5 L614.0,423.0 L614.9,423.5 L615.7,424.0 L616.5,424.4 L617.3,425.0 L618.0,425.5 L618.8,426.0 L619.6,426.5 L620.4,427.0 L621.1,427.6 L621.9,428.1 L622.6,428.7 L623.3,429.3 L624.1,429.9 L624.8,430.4 L625.5,431.0 L626.2,431.7 L626.9,432.3 L627.6,432.9 L628.3,433.5 L628.9,434.2 L629.6,434.8 L630.3,435.5 L630.9,436.2 L631.5,436.9 L632.2,437.6 L632.8,438.3 L633.4,439.0 L634.0,439.7 L634.6,440.5 L635.2,441.2 L635.8,442.0 L636.3,442.7 L636.9,443.5 L637.4,444.3 L638.0,445.1 L638.5,445.9 L639.0,446.8 L639.5,447.6 L640.0,448.4 L640.5,449.3 L641.0,450.2 L641.5,451.1 L641.9,452.0 L642.4,452.9 L642.8,453.8 L643.2,454.7 L643.6,455.7 L644.0,456.7 L644.4,457.6 L644.8,458.6 L645.2,459.6 L645.6,460.6 L645.9,461.7 L646.2,462.7 L646.6,463.8 L646.9,464.8 L647.2,465.9 L647.5,467.0 L655.3,465.0 L655.0,463.8 L654.7,462.6 L654.3,461.4 L654.0,460.3 L653.6,459.1 L653.2,458.0 L652.8,456.9 L652.4,455.7 L652.0,454.7 L651.5,453.6 L651.1,452.5 L650.6,451.4 L650.1,450.4 L649.7,449.4 L649.2,448.3 L648.6,447.3 L648.1,446.4 L647.6,445.4 L647.0,444.4 L646.5,443.5 L645.9,442.5 L645.3,441.6 L644.7,440.7 L644.1,439.8 L643.5,438.9 L642.9,438.0 L642.2,437.1 L641.6,436.3 L640.9,435.4 L640.3,434.6 L639.6,433.8 L638.9,433.0 L638.2,432.2 L637.5,431.4 L636.8,430.6 L636.1,429.9 L635.3,429.1 L634.6,428.4 L633.8,427.7 L633.1,427.0 L632.3,426.2 L631.5,425.6 L630.8,424.9 L630.0,424.2 L629.2,423.6 L628.4,422.9 L627.5,422.3 L626.7,421.7 L625.9,421.0 L625.0,420.4 L624.2,419.8 L623.3,419.3 L622.5,418.7 L621.6,418.1 L620.7,417.6 L619.9,417.0 L619.0,416.5 L618.1,416.0 L617.2,415.5 L616.3,415.0 L615.4,414.5 L614.5,414.0 L613.6,413.5 L612.6,413.1 L611.7,412.6 L610.8,412.1 L609.8,411.7 L608.9,411.3 L607.9,410.9 L607.0,410.4 L606.0,410.0 L605.1,409.6 L604.1,409.3 L603.1,408.9 L602.1,408.5 L601.2,408.1 L600.2,407.8 L599.2,407.4 L598.2,407.1 L597.2,406.8 L596.2,406.4 L595.2,406.1 L594.2,405.8 L593.2,405.5 L592.2,405.2 L591.2,404.9 L590.2,404.6 L589.2,404.4 L588.2,404.1 L587.1,403.8 L586.1,403.6 L585.1,403.3 L584.1,403.1 L583.0,402.9 L582.0,402.6 L581.0,402.4 L579.9,402.2 L578.9,402.0 L577.9,401.8 L576.8,401.6 L575.8,401.4 L574.8,401.2 L573.7,401.0 L572.7,400.8 L571.7,400.6 L570.6,400.4 L569.6,400.3 L568.5,400.1 L567.5,400.0 L566.4,399.8 L565.4,399.7 L564.4,399.5 L563.3,399.4 L562.3,399.3 L561.2,399.1 L560.2,399.0 L559.1,398.9 L558.1,398.8 L557.0,398.7 L556.0,398.6 L555.0,398.4 L553.9,398.4 L552.9,398.3 L551.8,398.2 L550.8,398.1 L549.7,398.0 L548.7,397.9 L547.6,397.8 L546.6,397.8 L545.5,397.7 L544.5,397.6 L543.4,397.6 L542.4,397.5 L541.3,397.5 L540.3,397.4 L539.2,397.4 L538.1,397.3 L537.1,397.3 L536.0,397.3 L535.0,397.2 L533.9,397.2 L532.9,397.2 L531.8,397.2 L530.8,397.1 L529.7,397.1 L528.7,397.1 L527.6,397.1 L526.6,397.1 L525.5,397.1 L524.4,397.1 L523.4,397.1 L522.3,397.1 L521.3,397.1 L520.2,397.1 L519.2,397.1 L518.1,397.1 L517.1,397.1 L516.0,397.1 L514.9,397.2 L513.9,397.2 L512.8,397.2 L511.8,397.2 L510.7,397.2 L509.7,397.3 L508.6,397.3 L507.6,397.3 L506.5,397.4 L505.4,397.4 L504.4,397.4 L503.3,397.5 L502.3,397.5 L501.2,397.6 L500.2,397.6 L499.1,397.7 L498.1,397.7 L497.0,397.7 L495.9,397.8 L494.9,397.8 L493.8,397.9 L492.8,398.0 L491.7,398.0 L490.7,398.1 L489.6,398.1 L488.6,398.2 L487.5,398.2 L486.4,398.3 L485.4,398.4 L484.3,398.4 L483.3,398.5 L482.2,398.5 L481.2,398.6 L480.1,398.7 L479.1,398.7 L478.0,398.8 L477.0,398.9 L475.9,398.9 L474.9,399.0 L473.8,399.0 L472.8,399.1 L471.7,399.2 L470.7,399.2 L469.6,399.3 L468.6,399.4 L467.5,399.4 L466.5,399.5 L465.4,399.6 L464.4,399.6 L463.3,399.7 L462.3,399.8 L461.2,399.8 L460.2,399.9 L459.1,399.9 L458.1,400.0 L457.0,400.1 L456.0,400.1 L454.9,400.2 L453.9,400.3 L452.9,400.3 L451.8,400.4 L450.8,400.4 L449.7,400.5 L448.7,400.5 L447.6,400.6 L446.6,400.6 L445.6,400.7 L444.5,400.7 L443.5,400.7 L442.4,400.8 L441.4,400.8 L440.4,400.8 L439.3,400.8 L438.3,400.9 L437.2,400.9 L436.2,400.9 L435.2,400.9 L434.1,400.9 L433.1,400.9 L432.1,401.0 L431.0,401.0 L430.0,401.0 L429.0,401.0 L428.0,401.0 L426.9,401.0 L425.9,401.0 L424.9,401.0 L423.8,401.0 L422.8,401.0 L421.8,401.0 L420.8,401.0 L419.7,401.0 L418.7,400.9 L417.7,400.9 L416.7,400.9 L415.7,400.9 L414.6,400.9 L413.6,400.8 L412.6,400.8 L411.6,400.8 L410.6,400.7 L409.6,400.7 L408.5,400.7 L407.5,400.6 L406.5,400.6 L405.5,400.5 L404.5,400.5 L403.5,400.4 L402.5,400.4 L401.5,400.3 L400.5,400.2 L399.5,400.2 L398.5,400.1 L397.5,400.0 L396.5,399.9 L395.5,399.9 L394.5,399.8 L393.5,399.7 L392.5,399.6 L391.5,399.5 L390.5,399.4 L389.5,399.3 L388.5,399.2 L387.5,399.1 L386.6,398.9 L385.6,398.8 L384.6,398.7 L383.6,398.6 L382.6,398.4 L381.6,398.3 L380.7,398.2 L379.7,398.0 L378.7,397.9 L377.7,397.7 L376.8,397.6 L375.8,397.4 L374.8,397.2 L373.8,397.1 L372.9,396.9 L371.9,396.7 L370.9,396.5 Z" fill="#97d4f4"/>
<path d="M369.5,405.2 L370.5,405.4 L371.5,405.5 L372.5,405.7 L373.5,405.8 L374.5,406.0 L375.5,406.1 L376.6,406.2 L377.6,406.4 L378.6,406.5 L379.6,406.6 L380.6,406.7 L381.6,406.8 L382.7,406.9 L383.7,407.0 L384.7,407.1 L385.7,407.2 L386.8,407.3 L387.8,407.4 L388.8,407.5 L389.8,407.6 L390.9,407.6 L391.9,407.7 L392.9,407.8 L393.9,407.8 L395.0,407.9 L396.0,408.0 L397.0,408.0 L398.1,408.0 L399.1,408.1 L400.1,408.1 L401.1,408.2 L402.2,408.2 L403.2,408.2 L404.2,408.3 L405.3,408.3 L406.3,408.3 L407.3,408.3 L408.4,408.3 L409.4,408.4 L410.5,408.4 L411.5,408.4 L412.5,408.4 L413.6,408.4 L414.6,408.4 L415.6,408.4 L416.7,408.4 L417.7,408.3 L418.8,408.3 L419.8,408.3 L420.8,408.3 L421.9,408.3 L422.9,408.3 L424.0,408.2 L425.0,408.2 L426.0,408.2 L427.1,408.1 L428.1,408.1 L429.2,408.1 L430.2,408.0 L431.3,408.0 L432.3,408.0 L433.3,407.9 L434.4,407.9 L435.4,407.8 L436.5,407.8 L437.5,407.7 L438.6,407.7 L439.6,407.6 L440.7,407.6 L441.7,407.5 L442.7,407.5 L443.8,407.4 L444.8,407.3 L445.9,407.3 L446.9,407.2 L448.0,407.2 L449.0,407.1 L450.1,407.0 L451.1,407.0 L452.2,406.9 L453.2,406.9 L454.3,406.8 L455.3,406.8 L456.4,406.7 L457.4,406.6 L458.5,406.6 L459.5,406.5 L460.6,406.4 L461.6,406.4 L462.7,406.3 L463.7,406.3 L464.8,406.2 L465.8,406.1 L466.9,406.1 L467.9,406.0 L469.0,405.9 L470.0,405.9 L471.1,405.8 L472.1,405.7 L473.2,405.7 L474.2,405.6 L475.3,405.5 L476.3,405.5 L477.4,405.4 L478.4,405.3 L479.5,405.3 L480.5,405.2 L481.6,405.2 L482.6,405.1 L483.7,405.0 L484.7,405.0 L485.8,404.9 L486.8,404.9 L487.9,404.8 L488.9,404.7 L490.0,404.7 L491.0,404.6 L492.1,404.6 L493.1,404.5 L494.2,404.5 L495.2,404.4 L496.3,404.4 L497.3,404.3 L498.3,404.3 L499.4,404.2 L500.4,404.2 L501.5,404.1 L502.5,404.1 L503.6,404.0 L504.6,404.0 L505.7,404.0 L506.7,403.9 L507.8,403.9 L508.8,403.9 L509.9,403.8 L510.9,403.8 L511.9,403.8 L513.0,403.8 L514.0,403.7 L515.1,403.7 L516.1,403.7 L517.2,403.7 L518.2,403.7 L519.2,403.7 L520.3,403.7 L521.3,403.6 L522.4,403.6 L523.4,403.6 L524.4,403.6 L525.5,403.6 L526.5,403.6 L527.5,403.7 L528.6,403.7 L529.6,403.7 L530.7,403.7 L531.7,403.7 L532.7,403.7 L533.8,403.8 L534.8,403.8 L535.8,403.8 L536.9,403.9 L537.9,403.9 L538.9,403.9 L540.0,404.0 L541.0,404.0 L542.0,404.1 L543.0,404.1 L544.1,404.2 L545.1,404.3 L546.1,404.3 L547.2,404.4 L548.2,404.5 L549.2,404.6 L550.2,404.6 L551.3,404.7 L552.3,404.8 L553.3,404.9 L554.3,405.0 L555.3,405.1 L556.4,405.2 L557.4,405.3 L558.4,405.4 L559.4,405.5 L560.4,405.7 L561.5,405.8 L562.5,405.9 L563.5,406.0 L564.5,406.2 L565.5,406.3 L566.5,406.5 L567.5,406.6 L568.6,406.8 L569.6,406.9 L570.6,407.1 L571.6,407.3 L572.6,407.4 L573.6,407.6 L574.6,407.8 L575.6,408.0 L576.6,408.2 L577.6,408.4 L578.6,408.6 L579.6,408.8 L580.6,409.0 L581.6,409.3 L582.6,409.5 L583.6,409.7 L584.5,410.0 L585.5,410.2 L586.5,410.5 L587.5,410.7 L588.4,411.0 L589.4,411.2 L590.4,411.5 L591.3,411.8 L592.3,412.1 L593.3,412.4 L594.2,412.7 L595.2,413.0 L596.1,413.3 L597.0,413.6 L598.0,414.0 L598.9,414.3 L599.8,414.7 L600.8,415.0 L601.7,415.4 L602.6,415.7 L603.5,416.1 L604.4,416.5 L605.3,416.9 L606.2,417.3 L607.1,417.7 L608.0,418.1 L608.8,418.5 L609.7,418.9 L610.6,419.4 L611.4,419.8 L612.3,420.3 L613.1,420.7 L614.0,421.2 L614.8,421.7 L615.6,422.2 L616.5,422.6 L617.3,423.2 L618.1,423.7 L618.9,424.2 L619.7,424.7 L620.5,425.2 L621.2,425.8 L622.0,426.4 L622.8,426.9 L623.5,427.5 L624.3,428.1 L625.0,428.7 L625.8,429.3 L626.5,429.9 L627.2,430.5 L627.9,431.1 L628.6,431.8 L629.3,432.4 L630.0,433.1 L630.7,433.8 L631.4,434.4 L632.0,435.1 L632.7,435.8 L633.3,436.5 L633.9,437.3 L634.6,438.0 L635.2,438.7 L635.8,439.5 L636.4,440.3 L637.0,441.1 L637.6,441.8 L638.1,442.6 L638.7,443.5 L639.2,444.3 L639.8,445.1 L640.3,446.0 L640.8,446.8 L641.3,447.7 L641.8,448.6 L642.3,449.5 L642.8,450.4 L643.3,451.3 L643.7,452.2 L644.2,453.2 L644.6,454.1 L645.0,455.1 L645.5,456.1 L645.9,457.1 L646.3,458.1 L646.6,459.1 L647.0,460.1 L647.4,461.2 L647.7,462.2 L648.0,463.3 L648.4,464.4 L648.7,465.5 L649.0,466.7" fill="none" stroke="#c3eafb" stroke-width="1.5" stroke-dasharray="9 4 6 5" stroke-dashoffset="0" stroke-opacity="0.9"/>
<path d="M370.5,398.8 L371.5,399.0 L372.5,399.2 L373.5,399.3 L374.5,399.5 L375.5,399.6 L376.4,399.8 L377.4,399.9 L378.4,400.1 L379.4,400.2 L380.4,400.4 L381.4,400.5 L382.4,400.6 L383.4,400.7 L384.4,400.9 L385.3,401.0 L386.3,401.1 L387.3,401.2 L388.3,401.3 L389.3,401.4 L390.3,401.5 L391.3,401.6 L392.3,401.7 L393.3,401.7 L394.3,401.8 L395.4,401.9 L396.4,402.0 L397.4,402.0 L398.4,402.1 L399.4,402.2 L400.4,402.2 L401.4,402.3 L402.4,402.3 L403.4,402.4 L404.4,402.4 L405.5,402.5 L406.5,402.5 L407.5,402.5 L408.5,402.6 L409.5,402.6 L410.5,402.6 L411.6,402.7 L412.6,402.7 L413.6,402.7 L414.6,402.7 L415.7,402.7 L416.7,402.7 L417.7,402.8 L418.7,402.8 L419.8,402.8 L420.8,402.8 L421.8,402.8 L422.8,402.8 L423.9,402.8 L424.9,402.8 L425.9,402.7 L427.0,402.7 L428.0,402.7 L429.0,402.7 L430.1,402.7 L431.1,402.7 L432.1,402.6 L433.2,402.6 L434.2,402.6 L435.2,402.6 L436.3,402.5 L437.3,402.5 L438.4,402.5 L439.4,402.4 L440.4,402.4 L441.5,402.4 L442.5,402.3 L443.6,402.3 L444.6,402.3 L445.6,402.2 L446.7,402.2 L447.7,402.1 L448.8,402.1 L449.8,402.0 L450.9,402.0 L451.9,401.9 L452.9,401.8 L454.0,401.8 L455.0,401.7 L456.1,401.7 L457.1,401.6 L458.2,401.5 L459.2,401.5 L460.3,401.4 L461.3,401.3 L462.4,401.3 L463.4,401.2 L464.5,401.2 L465.5,401.1 L466.6,401.0 L467.6,401.0 L468.7,400.9 L469.7,400.8 L470.8,400.8 L471.8,400.7 L472.9,400.6 L473.9,400.6 L475.0,400.5 L476.0,400.4 L477.1,400.4 L478.1,400.3 L479.2,400.3 L480.2,400.2 L481.3,400.1 L482.3,400.1 L483.4,400.0 L484.4,399.9 L485.5,399.9 L486.5,399.8 L487.6,399.8 L488.6,399.7 L489.7,399.6 L490.7,399.6 L491.8,399.5 L492.9,399.5 L493.9,399.4 L495.0,399.4 L496.0,399.3 L497.1,399.3 L498.1,399.2 L499.2,399.2 L500.2,399.1 L501.3,399.1 L502.3,399.1 L503.4,399.0 L504.4,399.0 L505.5,398.9 L506.6,398.9 L507.6,398.9 L508.7,398.8 L509.7,398.8 L510.8,398.8 L511.8,398.7 L512.9,398.7 L513.9,398.7 L515.0,398.7 L516.0,398.7 L517.1,398.6 L518.1,398.6 L519.2,398.6 L520.2,398.6 L521.3,398.6 L522.3,398.6 L523.4,398.6 L524.4,398.6 L525.5,398.6 L526.5,398.6 L527.6,398.6 L528.6,398.6 L529.7,398.6 L530.7,398.7 L531.8,398.7 L532.8,398.7 L533.9,398.7 L534.9,398.8 L536.0,398.8 L537.0,398.8 L538.1,398.9 L539.1,398.9 L540.2,399.0 L541.2,399.0 L542.3,399.1 L543.3,399.1 L544.4,399.2 L545.4,399.2 L546.5,399.3 L547.5,399.4 L548.5,399.4 L549.6,399.5 L550.6,399.6 L551.7,399.7 L552.7,399.8 L553.8,399.9 L554.8,400.0 L555.8,400.1 L556.9,400.2 L557.9,400.3 L559.0,400.4 L560.0,400.5 L561.0,400.6 L562.1,400.8 L563.1,400.9 L564.2,401.0 L565.2,401.2 L566.2,401.3 L567.3,401.5 L568.3,401.6 L569.3,401.8 L570.4,402.0 L571.4,402.1 L572.4,402.3 L573.5,402.5 L574.5,402.7 L575.5,402.9 L576.6,403.1 L577.6,403.3 L578.6,403.5 L579.6,403.7 L580.7,403.9 L581.7,404.1 L582.7,404.3 L583.7,404.6 L584.7,404.8 L585.7,405.1 L586.8,405.3 L587.8,405.6 L588.8,405.8 L589.8,406.1 L590.8,406.4 L591.8,406.7 L592.8,407.0 L593.8,407.3 L594.8,407.6 L595.8,407.9 L596.7,408.2 L597.7,408.6 L598.7,408.9 L599.7,409.2 L600.6,409.6 L601.6,409.9 L602.6,410.3 L603.5,410.7 L604.5,411.1 L605.4,411.5 L606.4,411.9 L607.3,412.3 L608.3,412.7 L609.2,413.1 L610.1,413.5 L611.0,414.0 L611.9,414.4 L612.9,414.9 L613.8,415.3 L614.7,415.8 L615.6,416.3 L616.4,416.8 L617.3,417.3 L618.2,417.8 L619.1,418.3 L619.9,418.9 L620.8,419.4 L621.6,420.0 L622.5,420.5 L623.3,421.1 L624.2,421.7 L625.0,422.3 L625.8,422.9 L626.6,423.5 L627.4,424.1 L628.2,424.7 L629.0,425.4 L629.8,426.0 L630.5,426.7 L631.3,427.4 L632.0,428.1 L632.8,428.8 L633.5,429.5 L634.3,430.2 L635.0,430.9 L635.7,431.7 L636.4,432.4 L637.1,433.2 L637.8,434.0 L638.4,434.8 L639.1,435.6 L639.7,436.4 L640.4,437.2 L641.0,438.0 L641.6,438.9 L642.3,439.7 L642.9,440.6 L643.5,441.5 L644.0,442.4 L644.6,443.3 L645.2,444.2 L645.7,445.2 L646.2,446.1 L646.8,447.1 L647.3,448.0 L647.8,449.0 L648.3,450.0 L648.8,451.0 L649.2,452.1 L649.7,453.1 L650.1,454.2 L650.5,455.2 L651.0,456.3 L651.4,457.4 L651.8,458.5 L652.1,459.6 L652.5,460.7 L652.9,461.9 L653.2,463.0 L653.5,464.2 L653.8,465.4" fill="none" stroke="#c3eafb" stroke-width="1.5" stroke-dasharray="7 5 10 4" stroke-dashoffset="4" stroke-opacity="0.9"/>
<path d="M370.0,402.0 L371.0,402.2 L372.0,402.3 L373.0,402.5 L374.0,402.6 L375.0,402.8 L376.0,402.9 L377.0,403.1 L378.0,403.2 L379.0,403.4 L380.0,403.5 L381.0,403.6 L382.0,403.7 L383.0,403.8 L384.0,403.9 L385.0,404.1 L386.0,404.2 L387.0,404.3 L388.1,404.3 L389.1,404.4 L390.1,404.5 L391.1,404.6 L392.1,404.7 L393.1,404.8 L394.1,404.8 L395.2,404.9 L396.2,405.0 L397.2,405.0 L398.2,405.1 L399.2,405.1 L400.3,405.2 L401.3,405.2 L402.3,405.3 L403.3,405.3 L404.3,405.3 L405.4,405.4 L406.4,405.4 L407.4,405.4 L408.4,405.5 L409.5,405.5 L410.5,405.5 L411.5,405.5 L412.6,405.5 L413.6,405.5 L414.6,405.5 L415.6,405.6 L416.7,405.6 L417.7,405.6 L418.7,405.5 L419.8,405.5 L420.8,405.5 L421.8,405.5 L422.9,405.5 L423.9,405.5 L424.9,405.5 L426.0,405.5 L427.0,405.4 L428.1,405.4 L429.1,405.4 L430.1,405.4 L431.2,405.3 L432.2,405.3 L433.3,405.3 L434.3,405.2 L435.3,405.2 L436.4,405.2 L437.4,405.1 L438.5,405.1 L439.5,405.0 L440.5,405.0 L441.6,404.9 L442.6,404.9 L443.7,404.8 L444.7,404.8 L445.8,404.7 L446.8,404.7 L447.9,404.6 L448.9,404.6 L449.9,404.5 L451.0,404.5 L452.0,404.4 L453.1,404.4 L454.1,404.3 L455.2,404.2 L456.2,404.2 L457.3,404.1 L458.3,404.1 L459.4,404.0 L460.4,403.9 L461.5,403.9 L462.5,403.8 L463.6,403.7 L464.6,403.7 L465.7,403.6 L466.7,403.5 L467.8,403.5 L468.8,403.4 L469.9,403.3 L470.9,403.3 L472.0,403.2 L473.0,403.2 L474.1,403.1 L475.1,403.0 L476.2,403.0 L477.2,402.9 L478.3,402.8 L479.3,402.8 L480.4,402.7 L481.4,402.6 L482.5,402.6 L483.5,402.5 L484.6,402.5 L485.6,402.4 L486.7,402.3 L487.7,402.3 L488.8,402.2 L489.8,402.2 L490.9,402.1 L491.9,402.1 L493.0,402.0 L494.0,401.9 L495.1,401.9 L496.1,401.8 L497.2,401.8 L498.2,401.7 L499.3,401.7 L500.3,401.7 L501.4,401.6 L502.4,401.6 L503.5,401.5 L504.5,401.5 L505.6,401.5 L506.6,401.4 L507.7,401.4 L508.7,401.4 L509.8,401.3 L510.8,401.3 L511.9,401.3 L512.9,401.2 L514.0,401.2 L515.0,401.2 L516.1,401.2 L517.1,401.2 L518.2,401.2 L519.2,401.1 L520.3,401.1 L521.3,401.1 L522.3,401.1 L523.4,401.1 L524.4,401.1 L525.5,401.1 L526.5,401.1 L527.6,401.1 L528.6,401.2 L529.7,401.2 L530.7,401.2 L531.7,401.2 L532.8,401.2 L533.8,401.3 L534.9,401.3 L535.9,401.3 L537.0,401.3 L538.0,401.4 L539.0,401.4 L540.1,401.5 L541.1,401.5 L542.1,401.6 L543.2,401.6 L544.2,401.7 L545.3,401.8 L546.3,401.8 L547.3,401.9 L548.4,402.0 L549.4,402.0 L550.4,402.1 L551.5,402.2 L552.5,402.3 L553.5,402.4 L554.6,402.5 L555.6,402.6 L556.6,402.7 L557.7,402.8 L558.7,402.9 L559.7,403.0 L560.7,403.1 L561.8,403.3 L562.8,403.4 L563.8,403.5 L564.8,403.7 L565.9,403.8 L566.9,404.0 L567.9,404.1 L568.9,404.3 L570.0,404.4 L571.0,404.6 L572.0,404.8 L573.0,405.0 L574.0,405.1 L575.1,405.3 L576.1,405.5 L577.1,405.7 L578.1,405.9 L579.1,406.1 L580.1,406.4 L581.1,406.6 L582.1,406.8 L583.1,407.0 L584.1,407.3 L585.1,407.5 L586.1,407.8 L587.1,408.0 L588.1,408.3 L589.1,408.5 L590.1,408.8 L591.1,409.1 L592.1,409.4 L593.0,409.7 L594.0,410.0 L595.0,410.3 L595.9,410.6 L596.9,410.9 L597.9,411.3 L598.8,411.6 L599.8,411.9 L600.7,412.3 L601.7,412.7 L602.6,413.0 L603.5,413.4 L604.5,413.8 L605.4,414.2 L606.3,414.6 L607.2,415.0 L608.1,415.4 L609.0,415.8 L609.9,416.2 L610.8,416.7 L611.7,417.1 L612.6,417.6 L613.5,418.0 L614.3,418.5 L615.2,419.0 L616.1,419.5 L616.9,420.0 L617.8,420.5 L618.6,421.0 L619.4,421.5 L620.3,422.1 L621.1,422.6 L621.9,423.2 L622.7,423.7 L623.5,424.3 L624.3,424.9 L625.1,425.5 L625.8,426.1 L626.6,426.7 L627.4,427.3 L628.1,428.0 L628.9,428.6 L629.6,429.3 L630.3,429.9 L631.1,430.6 L631.8,431.3 L632.5,432.0 L633.2,432.7 L633.8,433.4 L634.5,434.1 L635.2,434.9 L635.9,435.6 L636.5,436.4 L637.1,437.2 L637.8,437.9 L638.4,438.7 L639.0,439.5 L639.6,440.4 L640.2,441.2 L640.8,442.0 L641.3,442.9 L641.9,443.8 L642.5,444.6 L643.0,445.5 L643.5,446.4 L644.0,447.3 L644.6,448.3 L645.0,449.2 L645.5,450.2 L646.0,451.1 L646.5,452.1 L646.9,453.1 L647.4,454.1 L647.8,455.1 L648.2,456.1 L648.6,457.2 L649.0,458.2 L649.4,459.3 L649.8,460.4 L650.1,461.5 L650.4,462.6 L650.8,463.7 L651.1,464.9 L651.4,466.0" fill="none" stroke="#ffffff" stroke-width="1.2" stroke-dasharray="4 7 6 6" stroke-dashoffset="2" stroke-opacity="0.9"/>
<path d="M369.2,406.8 L370.2,406.9 L371.2,407.1 L372.2,407.3 L373.3,407.4 L374.3,407.5 L375.3,407.7 L376.3,407.8 L377.4,407.9 L378.4,408.0 L379.4,408.2 L380.4,408.3 L381.5,408.4 L382.5,408.5 L383.5,408.6 L384.6,408.7 L385.6,408.8 L386.6,408.9 L387.6,408.9 L388.7,409.0 L389.7,409.1 L390.7,409.2 L391.8,409.2 L392.8,409.3 L393.8,409.3 L394.9,409.4 L395.9,409.4 L396.9,409.5 L398.0,409.5 L399.0,409.6 L400.0,409.6 L401.1,409.6 L402.1,409.7 L403.2,409.7 L404.2,409.7 L405.2,409.7 L406.3,409.8 L407.3,409.8 L408.3,409.8 L409.4,409.8 L410.4,409.8 L411.5,409.8 L412.5,409.8 L413.5,409.8 L414.6,409.8 L415.6,409.8 L416.7,409.8 L417.7,409.7 L418.8,409.7 L419.8,409.7 L420.8,409.7 L421.9,409.7 L422.9,409.6 L424.0,409.6 L425.0,409.6 L426.1,409.5 L427.1,409.5 L428.2,409.5 L429.2,409.4 L430.2,409.4 L431.3,409.3 L432.3,409.3 L433.4,409.2 L434.4,409.2 L435.5,409.1 L436.5,409.1 L437.6,409.0 L438.6,409.0 L439.7,408.9 L440.7,408.9 L441.8,408.8 L442.8,408.7 L443.9,408.7 L444.9,408.6 L445.9,408.5 L447.0,408.5 L448.0,408.4 L449.1,408.4 L450.1,408.3 L451.2,408.2 L452.2,408.2 L453.3,408.1 L454.3,408.1 L455.4,408.0 L456.4,407.9 L457.5,407.9 L458.5,407.8 L459.6,407.8 L460.6,407.7 L461.7,407.6 L462.7,407.6 L463.8,407.5 L464.8,407.4 L465.9,407.4 L466.9,407.3 L468.0,407.3 L469.0,407.2 L470.1,407.1 L471.1,407.1 L472.2,407.0 L473.2,406.9 L474.3,406.9 L475.3,406.8 L476.4,406.7 L477.4,406.7 L478.5,406.6 L479.5,406.5 L480.6,406.5 L481.6,406.4 L482.7,406.4 L483.7,406.3 L484.8,406.2 L485.8,406.2 L486.9,406.1 L487.9,406.1 L489.0,406.0 L490.0,405.9 L491.1,405.9 L492.1,405.8 L493.2,405.8 L494.2,405.7 L495.3,405.7 L496.3,405.6 L497.4,405.6 L498.4,405.5 L499.5,405.5 L500.5,405.4 L501.5,405.4 L502.6,405.3 L503.6,405.3 L504.7,405.3 L505.7,405.2 L506.8,405.2 L507.8,405.2 L508.8,405.1 L509.9,405.1 L510.9,405.1 L512.0,405.0 L513.0,405.0 L514.1,405.0 L515.1,405.0 L516.1,405.0 L517.2,404.9 L518.2,404.9 L519.2,404.9 L520.3,404.9 L521.3,404.9 L522.4,404.9 L523.4,404.9 L524.4,404.9 L525.5,404.9 L526.5,404.9 L527.5,404.9 L528.6,404.9 L529.6,404.9 L530.6,405.0 L531.7,405.0 L532.7,405.0 L533.7,405.0 L534.8,405.1 L535.8,405.1 L536.8,405.1 L537.8,405.2 L538.9,405.2 L539.9,405.2 L540.9,405.3 L542.0,405.3 L543.0,405.4 L544.0,405.5 L545.0,405.5 L546.0,405.6 L547.1,405.7 L548.1,405.7 L549.1,405.8 L550.1,405.9 L551.2,406.0 L552.2,406.1 L553.2,406.1 L554.2,406.2 L555.2,406.3 L556.2,406.4 L557.3,406.6 L558.3,406.7 L559.3,406.8 L560.3,406.9 L561.3,407.0 L562.3,407.2 L563.3,407.3 L564.3,407.4 L565.3,407.6 L566.3,407.7 L567.4,407.9 L568.4,408.0 L569.4,408.2 L570.4,408.3 L571.4,408.5 L572.4,408.7 L573.4,408.9 L574.4,409.1 L575.4,409.2 L576.4,409.4 L577.3,409.6 L578.3,409.8 L579.3,410.0 L580.3,410.3 L581.3,410.5 L582.3,410.7 L583.3,410.9 L584.2,411.2 L585.2,411.4 L586.2,411.7 L587.1,411.9 L588.1,412.2 L589.1,412.5 L590.0,412.7 L591.0,413.0 L591.9,413.3 L592.9,413.6 L593.8,413.9 L594.8,414.2 L595.7,414.5 L596.6,414.8 L597.6,415.2 L598.5,415.5 L599.4,415.8 L600.3,416.2 L601.2,416.5 L602.1,416.9 L603.0,417.3 L603.9,417.6 L604.8,418.0 L605.7,418.4 L606.5,418.8 L607.4,419.2 L608.3,419.6 L609.1,420.1 L610.0,420.5 L610.8,420.9 L611.7,421.4 L612.5,421.8 L613.4,422.3 L614.2,422.8 L615.0,423.2 L615.8,423.7 L616.6,424.2 L617.4,424.7 L618.2,425.2 L619.0,425.8 L619.7,426.3 L620.5,426.8 L621.3,427.4 L622.0,427.9 L622.8,428.5 L623.5,429.1 L624.2,429.6 L625.0,430.2 L625.7,430.8 L626.4,431.4 L627.1,432.1 L627.8,432.7 L628.5,433.3 L629.1,434.0 L629.8,434.6 L630.4,435.3 L631.1,436.0 L631.7,436.7 L632.4,437.4 L633.0,438.1 L633.6,438.8 L634.2,439.5 L634.8,440.3 L635.4,441.0 L636.0,441.8 L636.5,442.6 L637.1,443.4 L637.6,444.2 L638.2,445.0 L638.7,445.8 L639.2,446.6 L639.7,447.5 L640.2,448.3 L640.7,449.2 L641.2,450.1 L641.7,451.0 L642.2,451.9 L642.6,452.8 L643.0,453.7 L643.5,454.6 L643.9,455.6 L644.3,456.6 L644.7,457.5 L645.1,458.5 L645.4,459.5 L645.8,460.6 L646.2,461.6 L646.5,462.6 L646.8,463.7 L647.1,464.8 L647.4,465.9 L647.7,467.0" fill="none" stroke="#6fbfec" stroke-width="1.1" stroke-dasharray="5 6 8 4" stroke-dashoffset="7" stroke-opacity="0.9"/>
<path d="M370.8,397.2 L371.8,397.4 L372.8,397.6 L373.7,397.7 L374.7,397.9 L375.7,398.1 L376.7,398.2 L377.6,398.4 L378.6,398.5 L379.6,398.7 L380.6,398.8 L381.6,398.9 L382.5,399.1 L383.5,399.2 L384.5,399.3 L385.5,399.4 L386.5,399.5 L387.5,399.7 L388.5,399.8 L389.5,399.9 L390.5,400.0 L391.5,400.1 L392.5,400.1 L393.5,400.2 L394.4,400.3 L395.4,400.4 L396.4,400.5 L397.5,400.6 L398.5,400.6 L399.5,400.7 L400.5,400.8 L401.5,400.8 L402.5,400.9 L403.5,400.9 L404.5,401.0 L405.5,401.0 L406.5,401.1 L407.5,401.1 L408.5,401.1 L409.6,401.2 L410.6,401.2 L411.6,401.2 L412.6,401.3 L413.6,401.3 L414.6,401.3 L415.7,401.3 L416.7,401.3 L417.7,401.4 L418.7,401.4 L419.7,401.4 L420.8,401.4 L421.8,401.4 L422.8,401.4 L423.8,401.4 L424.9,401.4 L425.9,401.4 L426.9,401.4 L428.0,401.4 L429.0,401.4 L430.0,401.3 L431.1,401.3 L432.1,401.3 L433.1,401.3 L434.2,401.3 L435.2,401.3 L436.2,401.2 L437.3,401.2 L438.3,401.2 L439.3,401.1 L440.4,401.1 L441.4,401.1 L442.5,401.1 L443.5,401.0 L444.5,401.0 L445.6,400.9 L446.6,400.9 L447.7,400.9 L448.7,400.8 L449.7,400.8 L450.8,400.7 L451.8,400.6 L452.9,400.6 L453.9,400.5 L455.0,400.5 L456.0,400.4 L457.0,400.3 L458.1,400.3 L459.1,400.2 L460.2,400.2 L461.2,400.1 L462.3,400.0 L463.3,400.0 L464.4,399.9 L465.4,399.8 L466.5,399.8 L467.5,399.7 L468.6,399.6 L469.6,399.6 L470.7,399.5 L471.7,399.4 L472.8,399.4 L473.8,399.3 L474.9,399.2 L475.9,399.2 L477.0,399.1 L478.0,399.1 L479.1,399.0 L480.1,398.9 L481.2,398.9 L482.2,398.8 L483.3,398.7 L484.4,398.7 L485.4,398.6 L486.5,398.6 L487.5,398.5 L488.6,398.4 L489.6,398.4 L490.7,398.3 L491.7,398.3 L492.8,398.2 L493.8,398.2 L494.9,398.1 L496.0,398.1 L497.0,398.0 L498.1,398.0 L499.1,397.9 L500.2,397.9 L501.2,397.8 L502.3,397.8 L503.3,397.8 L504.4,397.7 L505.5,397.7 L506.5,397.6 L507.6,397.6 L508.6,397.6 L509.7,397.5 L510.7,397.5 L511.8,397.5 L512.8,397.5 L513.9,397.4 L515.0,397.4 L516.0,397.4 L517.1,397.4 L518.1,397.4 L519.2,397.4 L520.2,397.4 L521.3,397.3 L522.3,397.3 L523.4,397.3 L524.4,397.3 L525.5,397.3 L526.6,397.3 L527.6,397.4 L528.7,397.4 L529.7,397.4 L530.8,397.4 L531.8,397.4 L532.9,397.4 L533.9,397.5 L535.0,397.5 L536.0,397.5 L537.1,397.6 L538.1,397.6 L539.2,397.7 L540.2,397.7 L541.3,397.7 L542.3,397.8 L543.4,397.9 L544.4,397.9 L545.5,398.0 L546.5,398.0 L547.6,398.1 L548.6,398.2 L549.7,398.3 L550.7,398.4 L551.8,398.4 L552.8,398.5 L553.9,398.6 L554.9,398.7 L556.0,398.8 L557.0,398.9 L558.1,399.0 L559.1,399.2 L560.2,399.3 L561.2,399.4 L562.2,399.5 L563.3,399.7 L564.3,399.8 L565.4,399.9 L566.4,400.1 L567.4,400.2 L568.5,400.4 L569.5,400.5 L570.6,400.7 L571.6,400.9 L572.6,401.1 L573.7,401.2 L574.7,401.4 L575.8,401.6 L576.8,401.8 L577.8,402.0 L578.9,402.2 L579.9,402.4 L580.9,402.7 L581.9,402.9 L583.0,403.1 L584.0,403.4 L585.0,403.6 L586.0,403.8 L587.1,404.1 L588.1,404.4 L589.1,404.6 L590.1,404.9 L591.1,405.2 L592.1,405.5 L593.1,405.8 L594.1,406.1 L595.1,406.4 L596.1,406.7 L597.1,407.0 L598.1,407.4 L599.1,407.7 L600.1,408.0 L601.1,408.4 L602.1,408.8 L603.0,409.1 L604.0,409.5 L605.0,409.9 L605.9,410.3 L606.9,410.7 L607.8,411.1 L608.8,411.5 L609.7,412.0 L610.7,412.4 L611.6,412.8 L612.5,413.3 L613.4,413.8 L614.3,414.2 L615.3,414.7 L616.2,415.2 L617.1,415.7 L618.0,416.2 L618.8,416.7 L619.7,417.3 L620.6,417.8 L621.5,418.4 L622.3,418.9 L623.2,419.5 L624.0,420.1 L624.9,420.7 L625.7,421.3 L626.5,421.9 L627.4,422.5 L628.2,423.1 L629.0,423.8 L629.8,424.4 L630.6,425.1 L631.4,425.8 L632.1,426.5 L632.9,427.1 L633.7,427.9 L634.4,428.6 L635.1,429.3 L635.9,430.1 L636.6,430.8 L637.3,431.6 L638.0,432.4 L638.7,433.2 L639.4,434.0 L640.1,434.8 L640.7,435.6 L641.4,436.4 L642.0,437.3 L642.7,438.1 L643.3,439.0 L643.9,439.9 L644.5,440.8 L645.1,441.7 L645.7,442.7 L646.2,443.6 L646.8,444.5 L647.3,445.5 L647.9,446.5 L648.4,447.5 L648.9,448.5 L649.4,449.5 L649.9,450.5 L650.4,451.6 L650.8,452.6 L651.3,453.7 L651.7,454.8 L652.1,455.8 L652.6,456.9 L653.0,458.1 L653.3,459.2 L653.7,460.3 L654.1,461.5 L654.4,462.7 L654.7,463.9 L655.1,465.0" fill="none" stroke="#6fbfec" stroke-width="1.1" stroke-dasharray="6 5 4 7" stroke-dashoffset="1" stroke-opacity="0.9"/>
</g>
<!--/JETS-->
<g fill="none" stroke="#b4b4b6" stroke-width="1.1">
<ellipse cx="369.6" cy="226.5" rx="3" ry="9.2"/>
<ellipse cx="369.6" cy="314" rx="3" ry="9.2"/>
<ellipse cx="369.6" cy="402" rx="3" ry="9.2"/>
</g>

<!-- ===== LABELS & ARROWS ===== -->
<g stroke="#000" stroke-width="1.8" fill="none">
<path d="M498,128.8 H190.7 V197"/>
<path d="M443.8,227.2 H418"/>
<path d="M650.4,411.1 H624.5"/>
</g>
<g fill="#000">
<path d="M190.7,202.5 L187.3,196 H194.1 Z"/>
<path d="M412.8,227.2 L419.3,223.8 V230.6 Z"/>
<path d="M620,411.1 L626.5,407.7 V414.5 Z"/>
</g>
<!--LABELS-->
<g fill="none" stroke="#161616" stroke-linecap="round" stroke-linejoin="round">
<path stroke-width="1.45" d="M509.2,117.35L513.7,130.85 517.55,119.1 521.5,130.85 526,117.35M526.45,127.05A3.95,3.8 0 1 0 534.35,127.05A3.95,3.8 0 1 0 526.45,127.05M534.35,123.25V130.85M539.95,117.35V130.85M537.1,123.25H542.8M544.8,126.59H552.35C552.35,124.62 550.68,123.25 548.55,123.25C546.35,123.25 544.75,124.92 544.75,127.05C544.75,129.33 546.42,130.85 548.7,130.85C550.3,130.85 551.59,130.01 552.2,128.8M554.8,123.25V130.85M554.8,127.05C555.4,124.62 556.78,123.25 558.4,123.25C559.42,123.25 560.32,123.71 560.8,124.54"/>
<path stroke-width="1.4" d="M447.4,219.9L452.06,233.4 456.05,221.66 460.14,233.4 464.8,219.9M465.65,229.14H472.75C472.75,227.17 471.18,225.8 469.18,225.8C467.1,225.8 465.6,227.47 465.6,229.6C465.6,231.88 467.17,233.4 469.32,233.4C470.82,233.4 472.04,232.56 472.61,231.35M475.3,229.6A3.6,3.8 0 1 0 482.5,229.6A3.6,3.8 0 1 0 475.3,229.6M482.5,225.8V233.4M485.8,219.9V233.4M491.8,225.8L486,230.5M488.1,228.9L492.1,233.4M494.05,229.14H500.6C500.6,227.17 499.15,225.8 497.3,225.8C495.39,225.8 494,227.47 494,229.6C494,231.88 495.45,233.4 497.43,233.4C498.82,233.4 499.94,232.56 500.47,231.35M508.28,227.02C507.83,226.1 507.09,225.8 506.31,225.8C505.24,225.8 504.71,226.56 504.71,227.7C504.71,228.92 505.53,229.22 506.47,229.45C507.58,229.75 508.4,230.28 508.4,231.5C508.4,232.79 507.58,233.4 506.39,233.4C505.37,233.4 504.63,232.72 504.3,231.88M514.95,219.9V233.4M512,225.8H517.9M527.4,225.8V235.6C527.4,237.3 526.3,237.9 525,237.9C523.9,237.9 523.1,237.3 522.7,236.5M527.4,222.6V222.65M530.95,229.14H537.5C537.5,227.17 536.05,225.8 534.2,225.8C532.29,225.8 530.9,227.47 530.9,229.6C530.9,231.88 532.35,233.4 534.33,233.4C535.72,233.4 536.84,232.56 537.37,231.35M543.3,219.9V233.4M540.2,225.8H546.4"/>
<path stroke-width="1.4" d="M659.38,405.38C658.46,404.3 657.28,403.9 655.77,403.9C653.42,403.9 651.99,405.25 651.99,407.27C651.99,409.44 653.92,410.11 656.02,410.65C658.29,411.19 659.8,412.13 659.8,414.16C659.8,416.32 658.04,417.4 655.68,417.4C653.67,417.4 652.16,416.59 651.4,415.24M666.15,403.9V417.4M663.5,409.8H668.8M671.8,409.8V417.4M671.8,413.6C672.46,411.17 673.98,409.8 675.76,409.8C676.88,409.8 677.87,410.26 678.4,411.09M680.3,413.6A3.65,3.8 0 1 0 687.6,413.6A3.65,3.8 0 1 0 680.3,413.6M692,417.4V409.8M692,413.6C692,411.17 693.38,409.8 695,409.8C696.68,409.8 698,411.32 698,413.6V417.4M700,413.6A3.15,3.8 0 1 0 706.3,413.6A3.15,3.8 0 1 0 700,413.6M706.3,409.8V419.2C706.3,421.1 704.54,422 702.84,422C701.58,422 700.63,421.5 700,420.8M709.65,413.14H716.9C716.9,411.17 715.29,409.8 713.25,409.8C711.13,409.8 709.6,411.47 709.6,413.6C709.6,415.88 711.21,417.4 713.4,417.4C714.93,417.4 716.17,416.56 716.75,415.35M724.95,411.02C724.39,410.1 723.47,409.8 722.5,409.8C721.17,409.8 720.51,410.56 720.51,411.7C720.51,412.92 721.53,413.22 722.7,413.45C724.08,413.75 725.1,414.28 725.1,415.5C725.1,416.79 724.08,417.4 722.6,417.4C721.33,417.4 720.41,416.72 720,415.88M731.4,403.9V417.4M728.1,409.8H734.7M743.9,409.8V419.6C743.9,421.3 742.8,421.9 741.5,421.9C740.4,421.9 739.6,421.3 739.2,420.5M743.9,406.6V406.65M747.15,413.14H754.1C754.1,411.17 752.56,409.8 750.6,409.8C748.57,409.8 747.1,411.47 747.1,413.6C747.1,415.88 748.64,417.4 750.74,417.4C752.21,417.4 753.4,416.56 753.96,415.35M760.05,403.9V417.4M757,409.8H763.1"/>
<path stroke-width="1.85" d="M163.4,230.25V243.75H170.7M173.15,239.95A3.2,3.8 0 1 0 179.55,239.95A3.2,3.8 0 1 0 173.15,239.95M182,236.15L184.97,243.75 187.95,237.29 190.93,243.75 193.9,236.15"/>
<path stroke-width="1.85" d="M142.2,260.15V246.65H146.45A3.05,3.05 0 0 1 146.45,252.75H142.2M151.8,252.55V260.15M151.8,256.35C152.44,253.92 153.91,252.55 155.64,252.55C156.73,252.55 157.69,253.01 158.2,253.84M161.55,255.89H168C168,253.92 166.57,252.55 164.75,252.55C162.87,252.55 161.5,254.22 161.5,256.35C161.5,258.63 162.93,260.15 164.88,260.15C166.25,260.15 167.35,259.31 167.87,258.1M176.24,253.77C175.64,252.85 174.67,252.55 173.65,252.55C172.24,252.55 171.54,253.31 171.54,254.45C171.54,255.67 172.62,255.97 173.86,256.2C175.32,256.5 176.4,257.03 176.4,258.25C176.4,259.54 175.32,260.15 173.75,260.15C172.4,260.15 171.43,259.47 171,258.63M185.53,253.77C184.93,252.85 183.94,252.55 182.89,252.55C181.46,252.55 180.75,253.31 180.75,254.45C180.75,255.67 181.85,255.97 183.11,256.2C184.6,256.5 185.7,257.03 185.7,258.25C185.7,259.54 184.6,260.15 183,260.15C181.63,260.15 180.64,259.47 180.2,258.63M188.8,252.55V256.35C188.8,258.78 190.25,260.15 191.95,260.15C193.71,260.15 195.1,258.63 195.1,256.35M195.1,252.55V260.15M198.2,252.55V260.15M198.2,256.35C198.8,253.92 200.18,252.55 201.8,252.55C202.82,252.55 203.72,253.01 204.2,253.84M207.55,255.89H214.6C214.6,253.92 213.04,252.55 211.05,252.55C208.99,252.55 207.5,254.22 207.5,256.35C207.5,258.63 209.06,260.15 211.19,260.15C212.68,260.15 213.89,259.31 214.46,258.1"/>
<path stroke-width="1.85" d="M162.4,429.35V442.85M171.2,429.35V442.85M162.4,435.7H171.2M174.8,435.25V442.85M174.8,432.05V432.1M178.2,439.05A3.5,3.8 0 1 0 185.2,439.05A3.5,3.8 0 1 0 178.2,439.05M185.2,435.25V444.65C185.2,446.55 183.24,447.45 181.35,447.45C179.95,447.45 178.9,446.95 178.2,446.25M188.6,429.35V442.85M188.6,439.05C188.6,436.62 190.07,435.25 191.8,435.25C193.59,435.25 195,436.77 195,439.05V442.85"/>
<path stroke-width="1.85" d="M142.4,459.35V445.85H146.65A3.05,3.05 0 0 1 146.65,451.95H142.4M151.8,451.75V459.35M151.8,455.55C152.44,453.12 153.91,451.75 155.64,451.75C156.73,451.75 157.69,452.21 158.2,453.04M161.55,455.09H168C168,453.12 166.57,451.75 164.75,451.75C162.87,451.75 161.5,453.42 161.5,455.55C161.5,457.83 162.93,459.35 164.88,459.35C166.25,459.35 167.35,458.51 167.87,457.3M176.24,452.97C175.64,452.05 174.67,451.75 173.65,451.75C172.24,451.75 171.54,452.51 171.54,453.65C171.54,454.87 172.62,455.17 173.86,455.4C175.32,455.7 176.4,456.23 176.4,457.45C176.4,458.74 175.32,459.35 173.75,459.35C172.4,459.35 171.43,458.67 171,457.83M185.53,452.97C184.93,452.05 183.94,451.75 182.89,451.75C181.46,451.75 180.75,452.51 180.75,453.65C180.75,454.87 181.85,455.17 183.11,455.4C184.6,455.7 185.7,456.23 185.7,457.45C185.7,458.74 184.6,459.35 183,459.35C181.63,459.35 180.64,458.67 180.2,457.83M188.8,451.75V455.55C188.8,457.98 190.25,459.35 191.95,459.35C193.71,459.35 195.1,457.83 195.1,455.55M195.1,451.75V459.35M198.2,451.75V459.35M198.2,455.55C198.8,453.12 200.18,451.75 201.8,451.75C202.82,451.75 203.72,452.21 204.2,453.04M207.55,455.09H214.6C214.6,453.12 213.04,451.75 211.05,451.75C208.99,451.75 207.5,453.42 207.5,455.55C207.5,457.83 209.06,459.35 211.19,459.35C212.68,459.35 213.89,458.51 214.46,457.3"/>
</g>


</svg>
</body></html>
